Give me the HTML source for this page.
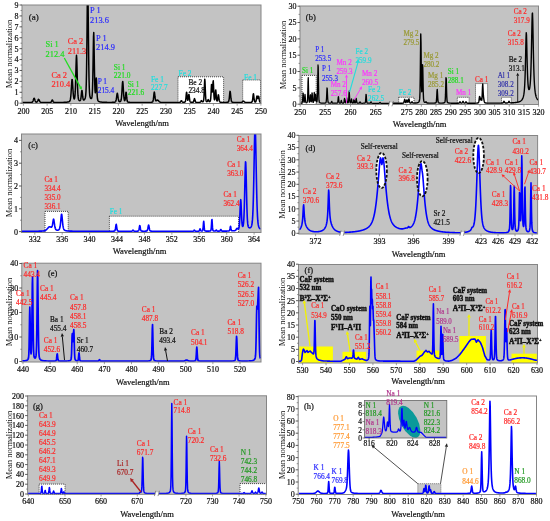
<!DOCTYPE html>
<html><head><meta charset="utf-8"><style>
html,body{margin:0;padding:0;background:#fff;}
svg{display:block;filter:blur(0.3px);font-family:"Liberation Serif", "DejaVu Serif", serif;}
</style></head><body>
<svg width="550" height="521" viewBox="0 0 550 521">
<rect width="550" height="521" fill="#fff"/>
<rect x="22" y="5" width="239" height="98.5" fill="#c3c3c3"/>
<rect x="178" y="76.8" width="45.599999999999994" height="26.700000000000003" fill="#fff" stroke="#222" stroke-width="0.8" stroke-dasharray="1,1"/>
<rect x="242.7" y="80" width="17.80000000000001" height="23.5" fill="#fff" stroke="#222" stroke-width="0.8" stroke-dasharray="1,1"/>
<clipPath id="ca"><rect x="22" y="5" width="239" height="98.5"/></clipPath>
<path d="M22.50,102.57 L22.75,102.57 L23.00,102.57 L23.25,102.57 L23.50,102.57 L23.75,102.57 L24.00,102.57 L24.25,102.56 L24.50,102.56 L24.75,102.56 L25.00,102.56 L25.25,102.56 L25.50,102.56 L25.75,102.56 L26.00,102.56 L26.25,102.55 L26.50,102.55 L26.75,102.55 L27.00,102.55 L27.25,102.55 L27.50,102.54 L27.75,102.54 L28.00,102.54 L28.25,102.53 L28.50,102.53 L28.75,102.53 L29.00,102.52 L29.25,102.52 L29.50,102.51 L29.75,102.50 L30.00,102.49 L30.25,102.49 L30.50,102.47 L30.75,102.46 L31.00,102.44 L31.25,102.42 L31.50,102.39 L31.75,102.34 L32.00,102.25 L32.25,102.11 L32.50,101.87 L32.75,101.49 L33.00,100.94 L33.25,100.23 L33.50,99.42 L33.75,98.69 L34.00,98.24 L34.25,98.29 L34.50,98.80 L34.75,99.56 L35.00,100.34 L35.25,101.01 L35.50,101.51 L35.75,101.85 L36.00,102.04 L36.25,102.13 L36.50,102.14 L36.75,102.08 L37.00,101.93 L37.25,101.67 L37.50,101.28 L37.75,100.76 L38.00,100.18 L38.25,99.65 L38.50,99.33 L38.75,99.37 L39.00,99.76 L39.25,100.33 L39.50,100.92 L39.75,101.43 L40.00,101.81 L40.25,102.07 L40.50,102.23 L40.75,102.33 L41.00,102.38 L41.25,102.42 L41.50,102.44 L41.75,102.45 L42.00,102.47 L42.25,102.48 L42.50,102.48 L42.75,102.49 L43.00,102.50 L43.25,102.50 L43.50,102.50 L43.75,102.51 L44.00,102.51 L44.25,102.51 L44.50,102.51 L44.75,102.52 L45.00,102.52 L45.25,102.52 L45.50,102.52 L45.75,102.52 L46.00,102.52 L46.25,102.52 L46.50,102.52 L46.75,102.52 L47.00,102.52 L47.25,102.51 L47.50,102.51 L47.75,102.51 L48.00,102.51 L48.25,102.51 L48.50,102.50 L48.75,102.50 L49.00,102.49 L49.25,102.49 L49.50,102.48 L49.75,102.47 L50.00,102.45 L50.25,102.43 L50.50,102.40 L50.75,102.32 L51.00,102.18 L51.25,101.91 L51.50,101.48 L51.75,100.91 L52.00,100.33 L52.25,100.01 L52.50,100.16 L52.75,100.66 L53.00,101.26 L53.25,101.75 L53.50,102.08 L53.75,102.27 L54.00,102.36 L54.25,102.41 L54.50,102.43 L54.75,102.44 L55.00,102.45 L55.25,102.46 L55.50,102.47 L55.75,102.47 L56.00,102.47 L56.25,102.47 L56.50,102.47 L56.75,102.48 L57.00,102.48 L57.25,102.47 L57.50,102.47 L57.75,102.47 L58.00,102.47 L58.25,102.47 L58.50,102.47 L58.75,102.47 L59.00,102.46 L59.25,102.46 L59.50,102.46 L59.75,102.46 L60.00,102.45 L60.25,102.45 L60.50,102.45 L60.75,102.44 L61.00,102.44 L61.25,102.43 L61.50,102.43 L61.75,102.42 L62.00,102.42 L62.25,102.41 L62.50,102.41 L62.75,102.40 L63.00,102.39 L63.25,102.38 L63.50,102.38 L63.75,102.37 L64.00,102.36 L64.25,102.35 L64.50,102.34 L64.75,102.32 L65.00,102.31 L65.25,102.30 L65.50,102.28 L65.75,102.26 L66.00,102.25 L66.25,102.22 L66.50,102.20 L66.75,102.18 L67.00,102.15 L67.25,102.11 L67.50,102.08 L67.75,102.03 L68.00,101.98 L68.25,101.93 L68.50,101.86 L68.75,101.78 L69.00,101.68 L69.25,101.55 L69.50,101.37 L69.75,101.10 L70.00,100.65 L70.25,99.89 L70.50,98.61 L70.75,96.60 L71.00,93.69 L71.25,89.92 L71.50,85.69 L71.75,81.79 L72.00,79.45 L72.25,79.66 L72.50,82.29 L72.75,86.20 L73.00,90.25 L73.25,93.69 L73.50,96.23 L73.75,97.85 L74.00,98.70 L74.25,98.95 L74.50,98.63 L74.75,97.58 L75.00,95.37 L75.25,91.41 L75.50,85.17 L75.75,76.68 L76.00,67.03 L76.25,58.72 L76.50,55.30 L76.75,58.75 L77.00,67.10 L77.25,76.80 L77.50,85.34 L77.75,91.64 L78.00,95.68 L78.25,98.01 L78.50,99.26 L78.75,99.92 L79.00,100.28 L79.25,100.50 L79.50,100.62 L79.75,100.68 L80.00,100.66 L80.25,100.49 L80.50,100.07 L80.75,99.18 L81.00,97.61 L81.25,95.34 L81.50,92.73 L81.75,90.71 L82.00,90.46 L82.25,92.14 L82.50,94.66 L82.75,96.97 L83.00,98.60 L83.25,99.52 L83.50,99.93 L83.75,100.02 L84.00,99.95 L84.25,99.77 L84.50,99.51 L84.75,99.14 L85.00,98.64 L85.25,97.92 L85.50,96.79 L85.75,94.81 L86.00,91.13 L86.25,84.39 L86.50,72.92 L86.75,55.54 L87.00,32.75 L87.25,7.97 L87.50,-11.63 L87.75,-17.03 L88.00,-5.06 L88.25,17.66 L88.50,42.24 L88.75,63.05 L89.00,77.95 L89.25,87.28 L89.50,92.54 L89.75,95.33 L90.00,96.81 L90.25,97.64 L90.50,98.13 L90.75,98.42 L91.00,98.55 L91.25,98.54 L91.50,98.34 L91.75,97.83 L92.00,96.70 L92.25,94.22 L92.50,89.19 L92.75,80.23 L93.00,66.79 L93.25,50.54 L93.50,36.60 L93.75,32.58 L94.00,41.38 L94.25,57.05 L94.50,72.49 L94.75,83.94 L95.00,90.53 L95.25,92.76 L95.50,91.32 L95.75,86.96 L96.00,81.36 L96.25,77.96 L96.50,80.01 L96.75,85.97 L97.00,92.11 L97.25,96.50 L97.50,98.97 L97.75,100.16 L98.00,100.73 L98.25,101.05 L98.50,101.26 L98.75,101.42 L99.00,101.55 L99.25,101.65 L99.50,101.74 L99.75,101.81 L100.00,101.87 L100.25,101.93 L100.50,101.97 L100.75,102.01 L101.00,102.05 L101.25,102.08 L101.50,102.11 L101.75,102.14 L102.00,102.16 L102.25,102.18 L102.50,102.20 L102.75,102.22 L103.00,102.23 L103.25,102.25 L103.50,102.26 L103.75,102.27 L104.00,102.29 L104.25,102.30 L104.50,102.31 L104.75,102.32 L105.00,102.32 L105.25,102.33 L105.50,102.34 L105.75,102.35 L106.00,102.35 L106.25,102.36 L106.50,102.36 L106.75,102.37 L107.00,102.37 L107.25,102.38 L107.50,102.38 L107.75,102.38 L108.00,102.39 L108.25,102.39 L108.50,102.39 L108.75,102.39 L109.00,102.39 L109.25,102.39 L109.50,102.39 L109.75,102.39 L110.00,102.39 L110.25,102.39 L110.50,102.39 L110.75,102.39 L111.00,102.39 L111.25,102.39 L111.50,102.38 L111.75,102.38 L112.00,102.37 L112.25,102.36 L112.50,102.36 L112.75,102.35 L113.00,102.33 L113.25,102.32 L113.50,102.30 L113.75,102.28 L114.00,102.26 L114.25,102.23 L114.50,102.19 L114.75,102.14 L115.00,102.06 L115.25,101.93 L115.50,101.71 L115.75,101.30 L116.00,100.57 L116.25,99.42 L116.50,97.81 L116.75,95.92 L117.00,94.16 L117.25,93.23 L117.50,93.63 L117.75,95.11 L118.00,96.99 L118.25,98.71 L118.50,100.02 L118.75,100.86 L119.00,101.34 L119.25,101.57 L119.50,101.67 L119.75,101.68 L120.00,101.65 L120.25,101.55 L120.50,101.38 L120.75,101.05 L121.00,100.42 L121.25,99.25 L121.50,97.25 L121.75,94.20 L122.00,90.20 L122.25,85.86 L122.50,82.42 L122.75,81.46 L123.00,83.56 L123.25,87.53 L123.50,91.83 L123.75,95.46 L124.00,98.03 L124.25,99.61 L124.50,100.41 L124.75,100.62 L125.00,100.22 L125.25,99.03 L125.50,96.89 L125.75,94.20 L126.00,92.20 L126.25,92.52 L126.50,94.92 L126.75,97.70 L127.00,99.81 L127.25,101.04 L127.50,101.64 L127.75,101.91 L128.00,102.05 L128.25,102.13 L128.50,102.19 L128.75,102.24 L129.00,102.28 L129.25,102.31 L129.50,102.34 L129.75,102.36 L130.00,102.38 L130.25,102.39 L130.50,102.41 L130.75,102.42 L131.00,102.43 L131.25,102.44 L131.50,102.45 L131.75,102.45 L132.00,102.46 L132.25,102.47 L132.50,102.47 L132.75,102.48 L133.00,102.48 L133.25,102.49 L133.50,102.49 L133.75,102.49 L134.00,102.50 L134.25,102.50 L134.50,102.50 L134.75,102.51 L135.00,102.51 L135.25,102.51 L135.50,102.51 L135.75,102.51 L136.00,102.52 L136.25,102.52 L136.50,102.52 L136.75,102.52 L137.00,102.52 L137.25,102.52 L137.50,102.53 L137.75,102.53 L138.00,102.53 L138.25,102.53 L138.50,102.53 L138.75,102.53 L139.00,102.53 L139.25,102.53 L139.50,102.53 L139.75,102.53 L140.00,102.53 L140.25,102.53 L140.50,102.53 L140.75,102.54 L141.00,102.54 L141.25,102.54 L141.50,102.54 L141.75,102.54 L142.00,102.54 L142.25,102.54 L142.50,102.54 L142.75,102.54 L143.00,102.54 L143.25,102.53 L143.50,102.53 L143.75,102.53 L144.00,102.53 L144.25,102.53 L144.50,102.53 L144.75,102.53 L145.00,102.53 L145.25,102.53 L145.50,102.53 L145.75,102.53 L146.00,102.52 L146.25,102.52 L146.50,102.52 L146.75,102.52 L147.00,102.52 L147.25,102.51 L147.50,102.51 L147.75,102.51 L148.00,102.50 L148.25,102.50 L148.50,102.49 L148.75,102.49 L149.00,102.48 L149.25,102.47 L149.50,102.47 L149.75,102.46 L150.00,102.44 L150.25,102.43 L150.50,102.41 L150.75,102.40 L151.00,102.37 L151.25,102.34 L151.50,102.31 L151.75,102.26 L152.00,102.20 L152.25,102.11 L152.50,101.96 L152.75,101.66 L153.00,101.06 L153.25,99.94 L153.50,98.16 L153.75,95.81 L154.00,93.42 L154.25,92.05 L154.50,92.60 L154.75,94.62 L155.00,96.96 L155.25,98.85 L155.50,100.05 L155.75,100.62 L156.00,100.78 L156.25,100.72 L156.50,100.57 L156.75,100.39 L157.00,100.23 L157.25,100.12 L157.50,100.10 L157.75,100.17 L158.00,100.33 L158.25,100.56 L158.50,100.81 L158.75,101.08 L159.00,101.34 L159.25,101.58 L159.50,101.78 L159.75,101.95 L160.00,102.09 L160.25,102.19 L160.50,102.27 L160.75,102.33 L161.00,102.38 L161.25,102.41 L161.50,102.43 L161.75,102.45 L162.00,102.46 L162.25,102.47 L162.50,102.48 L162.75,102.49 L163.00,102.50 L163.25,102.50 L163.50,102.51 L163.75,102.51 L164.00,102.51 L164.25,102.52 L164.50,102.52 L164.75,102.52 L165.00,102.53 L165.25,102.53 L165.50,102.53 L165.75,102.53 L166.00,102.54 L166.25,102.54 L166.50,102.54 L166.75,102.54 L167.00,102.54 L167.25,102.54 L167.50,102.54 L167.75,102.55 L168.00,102.55 L168.25,102.55 L168.50,102.55 L168.75,102.55 L169.00,102.55 L169.25,102.55 L169.50,102.55 L169.75,102.55 L170.00,102.55 L170.25,102.55 L170.50,102.55 L170.75,102.55 L171.00,102.55 L171.25,102.55 L171.50,102.55 L171.75,102.55 L172.00,102.55 L172.25,102.55 L172.50,102.55 L172.75,102.55 L173.00,102.55 L173.25,102.55 L173.50,102.55 L173.75,102.55 L174.00,102.55 L174.25,102.55 L174.50,102.55 L174.75,102.55 L175.00,102.55 L175.25,102.55 L175.50,102.54 L175.75,102.54 L176.00,102.54 L176.25,102.54 L176.50,102.54 L176.75,102.54 L177.00,102.53 L177.25,102.53 L177.50,102.53 L177.75,102.52 L178.00,102.52 L178.25,102.51 L178.50,102.50 L178.75,102.50 L179.00,102.49 L179.25,102.47 L179.50,102.45 L179.75,102.40 L180.00,102.32 L180.25,102.15 L180.50,101.88 L180.75,101.48 L181.00,101.02 L181.25,100.67 L181.50,100.63 L181.75,100.92 L182.00,101.36 L182.25,101.76 L182.50,102.05 L182.75,102.22 L183.00,102.30 L183.25,102.33 L183.50,102.33 L183.75,102.32 L184.00,102.30 L184.25,102.26 L184.50,102.21 L184.75,102.13 L185.00,101.98 L185.25,101.67 L185.50,100.97 L185.75,99.56 L186.00,97.25 L186.25,94.38 L186.50,92.24 L186.75,92.47 L187.00,94.82 L187.25,97.54 L187.50,99.46 L187.75,100.24 L188.00,99.87 L188.25,98.49 L188.50,96.44 L188.75,94.65 L189.00,94.49 L189.25,96.16 L189.50,98.38 L189.75,100.18 L190.00,101.27 L190.25,101.82 L190.50,102.06 L190.75,102.17 L191.00,102.24 L191.25,102.28 L191.50,102.31 L191.75,102.32 L192.00,102.33 L192.25,102.33 L192.50,102.32 L192.75,102.30 L193.00,102.24 L193.25,102.09 L193.50,101.74 L193.75,101.09 L194.00,100.12 L194.25,99.09 L194.50,98.60 L194.75,99.09 L195.00,100.13 L195.25,101.10 L195.50,101.76 L195.75,102.11 L196.00,102.27 L196.25,102.34 L196.50,102.37 L196.75,102.40 L197.00,102.41 L197.25,102.42 L197.50,102.42 L197.75,102.43 L198.00,102.43 L198.25,102.42 L198.50,102.42 L198.75,102.41 L199.00,102.40 L199.25,102.39 L199.50,102.37 L199.75,102.34 L200.00,102.29 L200.25,102.18 L200.50,101.97 L200.75,101.60 L201.00,101.12 L201.25,100.70 L201.50,100.62 L201.75,100.93 L202.00,101.35 L202.25,101.67 L202.50,101.82 L202.75,101.82 L203.00,101.71 L203.25,101.46 L203.50,100.89 L203.75,99.47 L204.00,96.30 L204.25,90.73 L204.50,83.73 L204.75,79.16 L205.00,81.29 L205.25,87.93 L205.50,94.33 L205.75,98.42 L206.00,100.40 L206.25,101.21 L206.50,101.53 L206.75,101.65 L207.00,101.64 L207.25,101.46 L207.50,101.04 L207.75,100.42 L208.00,99.81 L208.25,99.61 L208.50,100.02 L208.75,100.67 L209.00,101.23 L209.25,101.54 L209.50,101.65 L209.75,101.61 L210.00,101.45 L210.25,101.07 L210.50,100.15 L210.75,98.04 L211.00,94.15 L211.25,88.84 L211.50,84.56 L211.75,84.78 L212.00,88.66 L212.25,91.90 L212.50,91.66 L212.75,87.66 L213.00,82.41 L213.25,80.78 L213.50,84.98 L213.75,91.29 L214.00,96.26 L214.25,98.96 L214.50,99.84 L214.75,99.34 L215.00,97.47 L215.25,94.29 L215.50,90.94 L215.75,89.89 L216.00,92.30 L216.25,95.95 L216.50,98.84 L216.75,100.42 L217.00,101.00 L217.25,100.89 L217.50,100.14 L217.75,98.67 L218.00,96.67 L218.25,94.94 L218.50,94.78 L218.75,96.38 L219.00,98.51 L219.25,100.23 L219.50,101.28 L219.75,101.81 L220.00,102.05 L220.25,102.16 L220.50,102.23 L220.75,102.28 L221.00,102.31 L221.25,102.34 L221.50,102.37 L221.75,102.38 L222.00,102.40 L222.25,102.41 L222.50,102.42 L222.75,102.43 L223.00,102.43 L223.25,102.44 L223.50,102.44 L223.75,102.45 L224.00,102.45 L224.25,102.45 L224.50,102.45 L224.75,102.45 L225.00,102.44 L225.25,102.44 L225.50,102.43 L225.75,102.43 L226.00,102.42 L226.25,102.41 L226.50,102.39 L226.75,102.37 L227.00,102.35 L227.25,102.32 L227.50,102.27 L227.75,102.22 L228.00,102.13 L228.25,101.99 L228.50,101.71 L228.75,101.15 L229.00,100.07 L229.25,98.29 L229.50,95.83 L229.75,93.17 L230.00,91.38 L230.25,91.61 L230.50,93.67 L230.75,96.36 L231.00,98.71 L231.25,100.35 L231.50,101.30 L231.75,101.80 L232.00,102.04 L232.25,102.17 L232.50,102.25 L232.75,102.30 L233.00,102.34 L233.25,102.38 L233.50,102.40 L233.75,102.42 L234.00,102.44 L234.25,102.45 L234.50,102.46 L234.75,102.47 L235.00,102.48 L235.25,102.49 L235.50,102.50 L235.75,102.50 L236.00,102.51 L236.25,102.51 L236.50,102.51 L236.75,102.52 L237.00,102.52 L237.25,102.52 L237.50,102.52 L237.75,102.52 L238.00,102.52 L238.25,102.52 L238.50,102.52 L238.75,102.52 L239.00,102.52 L239.25,102.52 L239.50,102.52 L239.75,102.52 L240.00,102.51 L240.25,102.51 L240.50,102.50 L240.75,102.48 L241.00,102.46 L241.25,102.43 L241.50,102.37 L241.75,102.28 L242.00,102.14 L242.25,101.96 L242.50,101.74 L242.75,101.49 L243.00,101.27 L243.25,101.13 L243.50,101.11 L243.75,101.23 L244.00,101.44 L244.25,101.69 L244.50,101.91 L244.75,102.11 L245.00,102.25 L245.25,102.35 L245.50,102.41 L245.75,102.45 L246.00,102.47 L246.25,102.49 L246.50,102.50 L246.75,102.50 L247.00,102.50 L247.25,102.51 L247.50,102.51 L247.75,102.51 L248.00,102.51 L248.25,102.50 L248.50,102.50 L248.75,102.50 L249.00,102.49 L249.25,102.48 L249.50,102.48 L249.75,102.47 L250.00,102.45 L250.25,102.44 L250.50,102.42 L250.75,102.39 L251.00,102.36 L251.25,102.32 L251.50,102.25 L251.75,102.14 L252.00,101.92 L252.25,101.42 L252.50,100.37 L252.75,98.57 L253.00,96.18 L253.25,94.13 L253.50,93.89 L253.75,95.67 L254.00,98.06 L254.25,100.00 L254.50,101.16 L254.75,101.71 L255.00,101.92 L255.25,101.97 L255.50,101.92 L255.75,101.69 L256.00,101.14 L256.25,100.07 L256.50,98.47 L256.75,96.76 L257.00,95.90 L257.25,96.52 L257.50,97.80 L257.75,98.57 L258.00,98.28 L258.25,97.17 L258.50,96.18 L258.75,96.46 L259.00,97.94 L259.25,99.65 L259.50,100.94 L259.75,101.69 L260.00,102.05 L260.25,102.22 L260.50,102.31" fill="none" stroke="#000" stroke-width="1.5" stroke-linejoin="round" clip-path="url(#ca)"/>
<rect x="22" y="5" width="239" height="98.5" fill="none" stroke="#858585" stroke-width="1.0"/>
<line x1="19.50" y1="103.20" x2="22" y2="103.20" stroke="#333" stroke-width="0.8"/>
<text x="18.5" y="106.12" fill="#111" font-size="8" text-anchor="end" font-weight="normal" stroke="#111" stroke-width="0.2" >0</text>
<line x1="19.50" y1="92.29" x2="22" y2="92.29" stroke="#333" stroke-width="0.8"/>
<text x="18.5" y="95.21" fill="#111" font-size="8" text-anchor="end" font-weight="normal" stroke="#111" stroke-width="0.2" >1</text>
<line x1="19.50" y1="81.38" x2="22" y2="81.38" stroke="#333" stroke-width="0.8"/>
<text x="18.5" y="84.3" fill="#111" font-size="8" text-anchor="end" font-weight="normal" stroke="#111" stroke-width="0.2" >2</text>
<line x1="19.50" y1="70.47" x2="22" y2="70.47" stroke="#333" stroke-width="0.8"/>
<text x="18.5" y="73.39" fill="#111" font-size="8" text-anchor="end" font-weight="normal" stroke="#111" stroke-width="0.2" >3</text>
<line x1="19.50" y1="59.56" x2="22" y2="59.56" stroke="#333" stroke-width="0.8"/>
<text x="18.5" y="62.48" fill="#111" font-size="8" text-anchor="end" font-weight="normal" stroke="#111" stroke-width="0.2" >4</text>
<line x1="19.50" y1="48.65" x2="22" y2="48.65" stroke="#333" stroke-width="0.8"/>
<text x="18.5" y="51.57" fill="#111" font-size="8" text-anchor="end" font-weight="normal" stroke="#111" stroke-width="0.2" >5</text>
<line x1="19.50" y1="37.74" x2="22" y2="37.74" stroke="#333" stroke-width="0.8"/>
<text x="18.5" y="40.66" fill="#111" font-size="8" text-anchor="end" font-weight="normal" stroke="#111" stroke-width="0.2" >6</text>
<line x1="19.50" y1="26.83" x2="22" y2="26.83" stroke="#333" stroke-width="0.8"/>
<text x="18.5" y="29.75" fill="#111" font-size="8" text-anchor="end" font-weight="normal" stroke="#111" stroke-width="0.2" >7</text>
<line x1="19.50" y1="15.92" x2="22" y2="15.92" stroke="#333" stroke-width="0.8"/>
<text x="18.5" y="18.84" fill="#111" font-size="8" text-anchor="end" font-weight="normal" stroke="#111" stroke-width="0.2" >8</text>
<line x1="19.50" y1="5.01" x2="22" y2="5.01" stroke="#333" stroke-width="0.8"/>
<text x="18.5" y="7.93" fill="#111" font-size="8" text-anchor="end" font-weight="normal" stroke="#111" stroke-width="0.2" >9</text>
<line x1="20.50" y1="97.75" x2="22" y2="97.75" stroke="#555" stroke-width="0.6"/>
<line x1="20.50" y1="86.84" x2="22" y2="86.84" stroke="#555" stroke-width="0.6"/>
<line x1="20.50" y1="75.93" x2="22" y2="75.93" stroke="#555" stroke-width="0.6"/>
<line x1="20.50" y1="65.02" x2="22" y2="65.02" stroke="#555" stroke-width="0.6"/>
<line x1="20.50" y1="54.11" x2="22" y2="54.11" stroke="#555" stroke-width="0.6"/>
<line x1="20.50" y1="43.20" x2="22" y2="43.20" stroke="#555" stroke-width="0.6"/>
<line x1="20.50" y1="32.28" x2="22" y2="32.28" stroke="#555" stroke-width="0.6"/>
<line x1="20.50" y1="21.38" x2="22" y2="21.38" stroke="#555" stroke-width="0.6"/>
<line x1="20.50" y1="10.47" x2="22" y2="10.47" stroke="#555" stroke-width="0.6"/>
<line x1="23.40" y1="103.5" x2="23.40" y2="105.7" stroke="#777" stroke-width="0.7"/>
<text x="23.4" y="113.52" fill="#111" font-size="8" text-anchor="middle" font-weight="normal" stroke="#111" stroke-width="0.2" >200</text>
<line x1="47.15" y1="103.5" x2="47.15" y2="105.7" stroke="#777" stroke-width="0.7"/>
<text x="47.15" y="113.52" fill="#111" font-size="8" text-anchor="middle" font-weight="normal" stroke="#111" stroke-width="0.2" >205</text>
<line x1="70.90" y1="103.5" x2="70.90" y2="105.7" stroke="#777" stroke-width="0.7"/>
<text x="70.9" y="113.52" fill="#111" font-size="8" text-anchor="middle" font-weight="normal" stroke="#111" stroke-width="0.2" >210</text>
<line x1="94.65" y1="103.5" x2="94.65" y2="105.7" stroke="#777" stroke-width="0.7"/>
<text x="94.65" y="113.52" fill="#111" font-size="8" text-anchor="middle" font-weight="normal" stroke="#111" stroke-width="0.2" >215</text>
<line x1="118.40" y1="103.5" x2="118.40" y2="105.7" stroke="#777" stroke-width="0.7"/>
<text x="118.4" y="113.52" fill="#111" font-size="8" text-anchor="middle" font-weight="normal" stroke="#111" stroke-width="0.2" >220</text>
<line x1="142.15" y1="103.5" x2="142.15" y2="105.7" stroke="#777" stroke-width="0.7"/>
<text x="142.15" y="113.52" fill="#111" font-size="8" text-anchor="middle" font-weight="normal" stroke="#111" stroke-width="0.2" >225</text>
<line x1="165.90" y1="103.5" x2="165.90" y2="105.7" stroke="#777" stroke-width="0.7"/>
<text x="165.9" y="113.52" fill="#111" font-size="8" text-anchor="middle" font-weight="normal" stroke="#111" stroke-width="0.2" >230</text>
<line x1="189.65" y1="103.5" x2="189.65" y2="105.7" stroke="#777" stroke-width="0.7"/>
<text x="189.65" y="113.52" fill="#111" font-size="8" text-anchor="middle" font-weight="normal" stroke="#111" stroke-width="0.2" >235</text>
<line x1="213.40" y1="103.5" x2="213.40" y2="105.7" stroke="#777" stroke-width="0.7"/>
<text x="213.4" y="113.52" fill="#111" font-size="8" text-anchor="middle" font-weight="normal" stroke="#111" stroke-width="0.2" >240</text>
<line x1="237.15" y1="103.5" x2="237.15" y2="105.7" stroke="#777" stroke-width="0.7"/>
<text x="237.15" y="113.52" fill="#111" font-size="8" text-anchor="middle" font-weight="normal" stroke="#111" stroke-width="0.2" >245</text>
<line x1="260.90" y1="103.5" x2="260.90" y2="105.7" stroke="#777" stroke-width="0.7"/>
<text x="260.9" y="113.52" fill="#111" font-size="8" text-anchor="middle" font-weight="normal" stroke="#111" stroke-width="0.2" >250</text>
<text x="11.6" y="54" transform="rotate(-90 11.6 54)" fill="#111" font-size="8.5" text-anchor="middle">Mean normalization</text>
<text x="142" y="126.19" fill="#111" font-size="8.5" text-anchor="middle" font-weight="normal" stroke="#111" stroke-width="0.2" >Wavelength/nm</text>
<text x="28.8" y="19.7" fill="#111" font-size="9" text-anchor="start" font-weight="normal" stroke="#111" stroke-width="0.2" >(a)</text>
<text x="90" y="13.46" fill="#2b2bff" font-size="8.4" text-anchor="start" font-weight="normal" stroke="#2b2bff" stroke-width="0.2" >P 1</text>
<text x="90" y="23.46" fill="#2b2bff" font-size="8.4" text-anchor="start" font-weight="normal" stroke="#2b2bff" stroke-width="0.2" >213.6</text>
<text x="96.1" y="41.46" fill="#2b2bff" font-size="8.4" text-anchor="start" font-weight="normal" stroke="#2b2bff" stroke-width="0.2" >P 1</text>
<text x="96.1" y="50.46" fill="#2b2bff" font-size="8.4" text-anchor="start" font-weight="normal" stroke="#2b2bff" stroke-width="0.2" >214.9</text>
<text x="67.7" y="43.76" fill="#ff2a2a" font-size="8.4" text-anchor="start" font-weight="normal" stroke="#ff2a2a" stroke-width="0.2" >Ca 2</text>
<text x="67.7" y="53.56" fill="#ff2a2a" font-size="8.4" text-anchor="start" font-weight="normal" stroke="#ff2a2a" stroke-width="0.2" >211.3</text>
<text x="45.5" y="46.76" fill="#22dd22" font-size="8.4" text-anchor="start" font-weight="normal" stroke="#22dd22" stroke-width="0.2" >Si 1</text>
<text x="45.5" y="57.36" fill="#22dd22" font-size="8.4" text-anchor="start" font-weight="normal" stroke="#22dd22" stroke-width="0.2" >212.4</text>
<text x="51.4" y="77.86" fill="#ff2a2a" font-size="8.4" text-anchor="start" font-weight="normal" stroke="#ff2a2a" stroke-width="0.2" >Ca 2</text>
<text x="51.4" y="87.36" fill="#ff2a2a" font-size="8.4" text-anchor="start" font-weight="normal" stroke="#ff2a2a" stroke-width="0.2" >210.4</text>
<text x="97.7" y="83.92" fill="#2b2bff" font-size="7.4" text-anchor="start" font-weight="normal" stroke="#2b2bff" stroke-width="0.2" >P 1</text>
<text x="97.7" y="92.52" fill="#2b2bff" font-size="7.4" text-anchor="start" font-weight="normal" stroke="#2b2bff" stroke-width="0.2" >215.4</text>
<text x="113.8" y="69.82" fill="#22dd22" font-size="7.4" text-anchor="start" font-weight="normal" stroke="#22dd22" stroke-width="0.2" >Si 1</text>
<text x="113.8" y="78.12" fill="#22dd22" font-size="7.4" text-anchor="start" font-weight="normal" stroke="#22dd22" stroke-width="0.2" >221.0</text>
<text x="127.7" y="86.62" fill="#22dd22" font-size="7.4" text-anchor="start" font-weight="normal" stroke="#22dd22" stroke-width="0.2" >Si 1</text>
<text x="127.7" y="95.42" fill="#22dd22" font-size="7.4" text-anchor="start" font-weight="normal" stroke="#22dd22" stroke-width="0.2" >221.6</text>
<text x="151" y="81.62" fill="#22dddd" font-size="7.4" text-anchor="start" font-weight="normal" stroke="#22dddd" stroke-width="0.2" >Fe 1</text>
<text x="151" y="90.22" fill="#22dddd" font-size="7.4" text-anchor="start" font-weight="normal" stroke="#22dddd" stroke-width="0.2" >227.7</text>
<text x="178.6" y="75.72" fill="#22dddd" font-size="7.4" text-anchor="start" font-weight="normal" stroke="#22dddd" stroke-width="0.2" >Fe 2</text>
<text x="188.4" y="84.82" fill="#111" font-size="7.4" text-anchor="start" font-weight="normal" stroke="#111" stroke-width="0.2" >Be 2</text>
<text x="188.4" y="93.42" fill="#111" font-size="7.4" text-anchor="start" font-weight="normal" stroke="#111" stroke-width="0.2" >234.8</text>
<text x="244.1" y="79.82" fill="#22dddd" font-size="7.4" text-anchor="start" font-weight="normal" stroke="#22dddd" stroke-width="0.2" >Fe 1</text>
<line x1="64.30" y1="58.00" x2="80.35" y2="87.17" stroke="#22dd22" stroke-width="1.3"/>
<polygon points="81.80,89.80 78.86,87.99 81.84,86.35" fill="#22dd22"/>
<rect x="300" y="6" width="238.5" height="98.5" fill="#c3c3c3"/>
<rect x="302" y="75.4" width="14.199999999999989" height="29.099999999999994" fill="#fff" stroke="#222" stroke-width="0.8" stroke-dasharray="1,1"/>
<rect x="398.7" y="97.3" width="15.300000000000011" height="7.200000000000003" fill="#fff" stroke="#222" stroke-width="0.8" stroke-dasharray="1,1"/>
<rect x="457.3" y="97.3" width="11.800000000000011" height="7.200000000000003" fill="#fff" stroke="#222" stroke-width="0.8" stroke-dasharray="1,1"/>
<rect x="475.5" y="83.6" width="12.100000000000023" height="20.900000000000006" fill="#fff" stroke="#222" stroke-width="0.8" stroke-dasharray="1,1"/>
<rect x="501.5" y="97.3" width="9.800000000000011" height="7.200000000000003" fill="#fff" stroke="#222" stroke-width="0.8" stroke-dasharray="1,1"/>
<clipPath id="cb"><rect x="300" y="6" width="238.5" height="98.5"/></clipPath>
<path d="M300.50,103.19 L300.75,103.18 L301.00,103.16 L301.25,103.13 L301.50,103.09 L301.75,103.03 L302.00,102.91 L302.25,102.50 L302.50,100.98 L302.75,97.19 L303.00,92.87 L303.25,93.48 L303.50,98.03 L303.75,101.27 L304.00,102.31 L304.25,102.04 L304.50,100.23 L304.75,96.65 L305.00,94.30 L305.25,96.67 L305.50,100.28 L305.75,102.16 L306.00,102.69 L306.25,102.78 L306.50,102.77 L306.75,102.69 L307.00,102.52 L307.25,101.99 L307.50,99.83 L307.75,93.13 L308.00,82.09 L308.25,77.64 L308.50,86.55 L308.75,96.46 L309.00,100.95 L309.25,102.11 L309.50,102.20 L309.75,101.39 L310.00,98.85 L310.25,95.24 L310.50,94.74 L310.75,98.12 L311.00,101.01 L311.25,101.84 L311.50,100.66 L311.75,97.04 L312.00,92.84 L312.25,93.48 L312.50,97.99 L312.75,101.21 L313.00,102.31 L313.25,102.46 L313.50,102.04 L313.75,100.21 L314.00,96.14 L314.25,92.45 L314.50,94.21 L314.75,98.56 L315.00,100.58 L315.25,99.26 L315.50,95.84 L315.75,94.41 L316.00,97.31 L316.25,100.49 L316.50,101.84 L316.75,102.01 L317.00,101.50 L317.25,99.38 L317.50,92.58 L317.75,78.79 L318.00,64.98 L318.25,66.97 L318.50,82.02 L318.75,94.59 L319.00,100.19 L319.25,101.88 L319.50,102.39 L319.75,102.62 L320.00,102.77 L320.25,102.87 L320.50,102.94 L320.75,102.99 L321.00,103.03 L321.25,103.07 L321.50,103.09 L321.75,103.11 L322.00,103.12 L322.25,103.13 L322.50,103.14 L322.75,103.15 L323.00,103.15 L323.25,103.15 L323.50,103.15 L323.75,103.15 L324.00,103.14 L324.25,103.13 L324.50,103.12 L324.75,103.10 L325.00,103.07 L325.25,103.02 L325.50,102.95 L325.75,102.83 L326.00,102.49 L326.25,101.37 L326.50,98.33 L326.75,92.90 L327.00,87.89 L327.25,88.59 L327.50,94.11 L327.75,99.15 L328.00,101.71 L328.25,102.60 L328.50,102.87 L328.75,102.98 L329.00,103.05 L329.25,103.09 L329.50,103.12 L329.75,103.14 L330.00,103.15 L330.25,103.16 L330.50,103.16 L330.75,103.13 L331.00,102.97 L331.25,102.48 L331.50,101.65 L331.75,101.33 L332.00,102.00 L332.25,102.75 L332.50,103.09 L332.75,103.18 L333.00,103.21 L333.25,103.22 L333.50,103.23 L333.75,103.23 L334.00,103.24 L334.25,103.24 L334.50,103.24 L334.75,103.24 L335.00,103.24 L335.25,103.24 L335.50,103.23 L335.75,103.23 L336.00,103.22 L336.25,103.21 L336.50,103.20 L336.75,103.18 L337.00,103.14 L337.25,103.08 L337.50,102.89 L337.75,102.13 L338.00,100.01 L338.25,97.07 L338.50,96.66 L338.75,99.41 L339.00,101.82 L339.25,102.79 L339.50,103.04 L339.75,103.10 L340.00,103.11 L340.25,103.10 L340.50,102.97 L340.75,102.47 L341.00,101.35 L341.25,100.34 L341.50,100.84 L341.75,102.09 L342.00,102.85 L342.25,103.09 L342.50,103.14 L342.75,103.15 L343.00,103.14 L343.25,103.11 L343.50,103.04 L343.75,102.72 L344.00,101.66 L344.25,99.63 L344.50,98.30 L344.75,99.61 L345.00,101.62 L345.25,102.66 L345.50,102.93 L345.75,102.89 L346.00,102.47 L346.25,101.09 L346.50,98.80 L346.75,97.87 L347.00,99.71 L347.25,101.76 L347.50,102.67 L347.75,102.88 L348.00,102.85 L348.25,102.63 L348.50,101.60 L348.75,98.39 L349.00,93.10 L349.25,90.96 L349.50,95.25 L349.75,100.02 L350.00,102.18 L350.25,102.75 L350.50,102.84 L350.75,102.64 L351.00,101.74 L351.25,99.96 L351.50,98.80 L351.75,99.99 L352.00,101.79 L352.25,102.74 L352.50,103.00 L352.75,103.05 L353.00,103.02 L353.25,102.79 L353.50,101.96 L353.75,100.35 L354.00,99.30 L354.25,100.35 L354.50,101.95 L354.75,102.78 L355.00,103.00 L355.25,102.96 L355.50,102.57 L355.75,101.31 L356.00,99.21 L356.25,98.37 L356.50,100.08 L356.75,101.98 L357.00,102.86 L357.25,103.09 L357.50,103.16 L357.75,103.19 L358.00,103.20 L358.25,103.21 L358.50,103.22 L358.75,103.21 L359.00,103.20 L359.25,103.11 L359.50,102.79 L359.75,102.19 L360.00,101.80 L360.25,102.20 L360.50,102.80 L360.75,103.12 L361.00,103.21 L361.25,103.23 L361.50,103.24 L361.75,103.25 L362.00,103.25 L362.25,103.25 L362.50,103.25 L362.75,103.25 L363.00,103.24 L363.25,103.24 L363.50,103.23 L363.75,103.22 L364.00,103.21 L364.25,103.19 L364.50,103.16 L364.75,103.11 L365.00,103.01 L365.25,102.67 L365.50,101.34 L365.75,98.05 L366.00,94.29 L366.25,94.85 L366.50,98.86 L366.75,101.75 L367.00,102.78 L367.25,103.04 L367.50,103.12 L367.75,103.17 L368.00,103.19 L368.25,103.21 L368.50,103.23 L368.75,103.23 L369.00,103.24 L369.25,103.24 L369.50,103.24 L369.75,103.24 L370.00,103.22 L370.25,103.12 L370.50,102.81 L370.75,102.20 L371.00,101.80 L371.25,102.20 L371.50,102.81 L371.75,103.13 L372.00,103.23 L372.25,103.25 L372.50,103.26 L372.75,103.27 L373.00,103.27 L373.25,103.28 L373.50,103.28 L373.75,103.28 L374.00,103.28 L374.25,103.28 L374.50,103.29 L374.75,103.29 L375.00,103.29 L375.25,103.29 L375.50,103.29 L375.75,103.29 L376.00,103.29 L376.25,103.29 L376.50,103.29 L376.75,103.29 L377.00,103.29 L377.25,103.29 L377.50,103.29 L377.75,103.29 L378.00,103.28 L378.25,103.28 L378.50,103.28 L378.75,103.27 L379.00,103.26 L379.25,103.19 L379.50,102.98 L379.75,102.57 L380.00,102.30 L380.25,102.57 L380.50,102.98 L380.75,103.19 L381.00,103.26 L381.25,103.27 L381.50,103.28 L381.75,103.28 L382.00,103.29 L382.25,103.29 L382.50,103.29 L382.75,103.29 L383.00,103.29 L383.25,103.29 L383.50,103.29 L383.75,103.29 L384.00,103.29 L384.25,103.29 L384.50,103.29 L384.75,103.29 L385.00,103.29 L385.25,103.29 L385.50,103.30 L385.75,103.30 L386.00,103.30 L386.25,103.30 L386.50,103.30 L386.75,103.30 L387.00,103.30 L387.25,103.30 L387.50,103.30 L387.75,103.30 L388.00,103.30 L388.25,103.30 L388.50,103.30 L388.75,103.30 L389.00,103.30 L389.25,103.30 L389.50,103.30 L389.75,103.30 L390.00,103.30" fill="none" stroke="#000" stroke-width="1.25" stroke-linejoin="round" clip-path="url(#cb)"/>
<path d="M392.00,103.28 L392.25,103.28 L392.50,103.28 L392.75,103.28 L393.00,103.28 L393.25,103.27 L393.50,103.27 L393.75,103.27 L394.00,103.27 L394.25,103.27 L394.50,103.27 L394.75,103.27 L395.00,103.27 L395.25,103.27 L395.50,103.27 L395.75,103.27 L396.00,103.27 L396.25,103.27 L396.50,103.27 L396.75,103.27 L397.00,103.27 L397.25,103.26 L397.50,103.26 L397.75,103.26 L398.00,103.26 L398.25,103.26 L398.50,103.26 L398.75,103.26 L399.00,103.25 L399.25,103.25 L399.50,103.25 L399.75,103.25 L400.00,103.25 L400.25,103.24 L400.50,103.24 L400.75,103.24 L401.00,103.23 L401.25,103.23 L401.50,103.22 L401.75,103.21 L402.00,103.20 L402.25,103.19 L402.50,103.18 L402.75,103.15 L403.00,103.13 L403.25,103.08 L403.50,102.98 L403.75,102.72 L404.00,102.10 L404.25,101.01 L404.50,99.76 L404.75,99.33 L405.00,100.19 L405.25,101.42 L405.50,102.27 L405.75,102.61 L406.00,102.51 L406.25,101.98 L406.50,101.01 L406.75,100.03 L407.00,99.90 L407.25,100.77 L407.50,101.76 L407.75,102.31 L408.00,102.28 L408.25,101.62 L408.50,100.37 L408.75,99.09 L409.00,98.94 L409.25,100.13 L409.50,101.50 L409.75,102.39 L410.00,102.80 L410.25,102.95 L410.50,103.00 L410.75,103.01 L411.00,102.96 L411.25,102.79 L411.50,102.46 L411.75,102.03 L412.00,101.80 L412.25,102.03 L412.50,102.47 L412.75,102.81 L413.00,102.99 L413.25,103.06 L413.50,103.08 L413.75,103.09 L414.00,103.09 L414.25,103.09 L414.50,103.08 L414.75,103.07 L415.00,103.06 L415.25,103.05 L415.50,103.03 L415.75,103.01 L416.00,102.99 L416.25,102.96 L416.50,102.93 L416.75,102.89 L417.00,102.85 L417.25,102.79 L417.50,102.72 L417.75,102.64 L418.00,102.53 L418.25,102.40 L418.50,102.22 L418.75,101.98 L419.00,101.64 L419.25,101.14 L419.50,100.26 L419.75,98.15 L420.00,92.03 L420.25,77.12 L420.50,52.87 L420.75,34.02 L421.00,42.85 L421.25,67.28 L421.50,85.45 L421.75,91.72 L422.00,87.79 L422.25,76.23 L422.50,64.62 L422.75,66.71 L423.00,80.27 L423.25,92.20 L423.50,98.34 L423.75,100.64 L424.00,101.49 L424.25,101.90 L424.50,102.16 L424.75,102.33 L425.00,102.42 L425.25,102.39 L425.50,102.20 L425.75,101.93 L426.00,101.80 L426.25,102.03 L426.50,102.41 L426.75,102.72 L427.00,102.88 L427.25,102.96 L427.50,103.01 L427.75,103.03 L428.00,103.06 L428.25,103.07 L428.50,103.09 L428.75,103.10 L429.00,103.11 L429.25,103.12 L429.50,103.13 L429.75,103.14 L430.00,103.14 L430.25,103.15 L430.50,103.15 L430.75,103.16 L431.00,103.16 L431.25,103.16 L431.50,103.16 L431.75,103.16 L432.00,103.16 L432.25,103.16 L432.50,103.16 L432.75,103.16 L433.00,103.16 L433.25,103.15 L433.50,103.14 L433.75,103.13 L434.00,103.12 L434.25,103.11 L434.50,103.09 L434.75,103.06 L435.00,103.03 L435.25,102.98 L435.50,102.90 L435.75,102.79 L436.00,102.56 L436.25,101.92 L436.50,100.11 L436.75,96.26 L437.00,91.26 L437.25,89.44 L437.50,93.20 L437.75,98.06 L438.00,101.04 L438.25,102.26 L438.50,102.67 L438.75,102.84 L439.00,102.93 L439.25,102.99 L439.50,103.03 L439.75,103.06 L440.00,103.08 L440.25,103.10 L440.50,103.11 L440.75,103.12 L441.00,103.12 L441.25,103.12 L441.50,103.12 L441.75,103.11 L442.00,103.11 L442.25,103.10 L442.50,103.08 L442.75,103.06 L443.00,103.04 L443.25,103.01 L443.50,102.97 L443.75,102.91 L444.00,102.83 L444.25,102.72 L444.50,102.56 L444.75,102.29 L445.00,101.65 L445.25,99.77 L445.50,94.90 L445.75,86.18 L446.00,77.81 L446.25,79.00 L446.50,88.14 L446.75,96.20 L447.00,100.33 L447.25,101.84 L447.50,102.37 L447.75,102.61 L448.00,102.76 L448.25,102.87 L448.50,102.94 L448.75,103.00 L449.00,103.04 L449.25,103.07 L449.50,103.10 L449.75,103.12 L450.00,103.13 L450.25,103.15 L450.50,103.16 L450.75,103.17 L451.00,103.18 L451.25,103.19 L451.50,103.19 L451.75,103.20 L452.00,103.20 L452.25,103.21 L452.50,103.21 L452.75,103.21 L453.00,103.22 L453.25,103.22 L453.50,103.22 L453.75,103.22 L454.00,103.22 L454.25,103.23 L454.50,103.23 L454.75,103.23 L455.00,103.23 L455.25,103.23 L455.50,103.23 L455.75,103.23 L456.00,103.23 L456.25,103.23 L456.50,103.23 L456.75,103.23 L457.00,103.22 L457.25,103.22 L457.50,103.22 L457.75,103.21 L458.00,103.21 L458.25,103.20 L458.50,103.18 L458.75,103.15 L459.00,103.08 L459.25,102.88 L459.50,102.52 L459.75,102.05 L460.00,101.80 L460.25,102.04 L460.50,102.50 L460.75,102.86 L461.00,103.05 L461.25,103.11 L461.50,103.12 L461.75,103.09 L462.00,103.00 L462.25,102.75 L462.50,102.26 L462.75,101.63 L463.00,101.30 L463.25,101.63 L463.50,102.26 L463.75,102.75 L464.00,103.00 L464.25,103.09 L464.50,103.12 L464.75,103.11 L465.00,103.04 L465.25,102.86 L465.50,102.50 L465.75,102.04 L466.00,101.80 L466.25,102.05 L466.50,102.52 L466.75,102.88 L467.00,103.07 L467.25,103.15 L467.50,103.18 L467.75,103.19 L468.00,103.20 L468.25,103.21 L468.50,103.21 L468.75,103.21 L469.00,103.22 L469.25,103.22 L469.50,103.22 L469.75,103.22 L470.00,103.22 L470.25,103.22 L470.50,103.22 L470.75,103.22 L471.00,103.22 L471.25,103.22 L471.50,103.22 L471.75,103.22 L472.00,103.21 L472.25,103.21 L472.50,103.21 L472.75,103.21 L473.00,103.21 L473.25,103.21 L473.50,103.20 L473.75,103.20 L474.00,103.20 L474.25,103.19 L474.50,103.19 L474.75,103.18 L475.00,103.18 L475.25,103.17 L475.50,103.17 L475.75,103.16 L476.00,103.15 L476.25,103.14 L476.50,103.12 L476.75,103.11 L477.00,103.09 L477.25,103.06 L477.50,103.03 L477.75,102.98 L478.00,102.92 L478.25,102.81 L478.50,102.55 L478.75,101.90 L479.00,100.51 L479.25,98.39 L479.50,96.54 L479.75,96.67 L480.00,98.41 L480.25,99.78 L480.50,99.85 L480.75,98.93 L481.00,98.30 L481.25,98.94 L481.50,100.03 L481.75,100.25 L482.00,98.37 L482.25,93.40 L482.50,86.65 L482.75,83.89 L483.00,88.20 L483.25,93.55 L483.50,96.55 L483.75,98.34 L484.00,100.04 L484.25,101.40 L484.50,102.22 L484.75,102.60 L485.00,102.78 L485.25,102.87 L485.50,102.94 L485.75,102.98 L486.00,103.02 L486.25,103.04 L486.50,103.07 L486.75,103.08 L487.00,103.10 L487.25,103.11 L487.50,103.12 L487.75,103.13 L488.00,103.13 L488.25,103.14 L488.50,103.14 L488.75,103.15 L489.00,103.15 L489.25,103.15 L489.50,103.16 L489.75,103.16 L490.00,103.16 L490.25,103.16 L490.50,103.16 L490.75,103.17 L491.00,103.17 L491.25,103.17 L491.50,103.17 L491.75,103.17 L492.00,103.17 L492.25,103.17 L492.50,103.17 L492.75,103.17 L493.00,103.17 L493.25,103.17 L493.50,103.17 L493.75,103.16 L494.00,103.16 L494.25,103.16 L494.50,103.16 L494.75,103.16 L495.00,103.16 L495.25,103.16 L495.50,103.16 L495.75,103.16 L496.00,103.15 L496.25,103.15 L496.50,103.15 L496.75,103.15 L497.00,103.15 L497.25,103.14 L497.50,103.14 L497.75,103.14 L498.00,103.14 L498.25,103.14 L498.50,103.13 L498.75,103.13 L499.00,103.13 L499.25,103.12 L499.50,103.12 L499.75,103.12 L500.00,103.11 L500.25,103.11 L500.50,103.11 L500.75,103.10 L501.00,103.10 L501.25,103.09 L501.50,103.08 L501.75,103.07 L502.00,103.06 L502.25,103.05 L502.50,103.03 L502.75,102.99 L503.00,102.89 L503.25,102.65 L503.50,102.19 L503.75,101.61 L504.00,101.30 L504.25,101.60 L504.50,102.17 L504.75,102.62 L505.00,102.85 L505.25,102.94 L505.50,102.97 L505.75,102.98 L506.00,102.98 L506.25,102.98 L506.50,102.98 L506.75,102.97 L507.00,102.96 L507.25,102.95 L507.50,102.93 L507.75,102.89 L508.00,102.79 L508.25,102.57 L508.50,102.14 L508.75,101.59 L509.00,101.30 L509.25,101.58 L509.50,102.11 L509.75,102.52 L510.00,102.73 L510.25,102.81 L510.50,102.83 L510.75,102.84 L511.00,102.83 L511.25,102.83 L511.50,102.82 L511.75,102.81 L512.00,102.80 L512.25,102.79 L512.50,102.78 L512.75,102.76 L513.00,102.75 L513.25,102.73 L513.50,102.71 L513.75,102.69 L514.00,102.67 L514.25,102.65 L514.50,102.63 L514.75,102.60 L515.00,102.58 L515.25,102.55 L515.50,102.52 L515.75,102.49 L516.00,102.46 L516.25,102.42 L516.50,102.39 L516.75,102.35 L517.00,102.31 L517.25,102.26 L517.50,102.21 L517.75,102.16 L518.00,102.10 L518.25,102.04 L518.50,101.97 L518.75,101.90 L519.00,101.81 L519.25,101.73 L519.50,101.63 L519.75,101.52 L520.00,101.41 L520.25,101.27 L520.50,101.13 L520.75,100.96 L521.00,100.78 L521.25,100.57 L521.50,100.33 L521.75,100.06 L522.00,99.74 L522.25,99.37 L522.50,98.94 L522.75,98.43 L523.00,97.81 L523.25,97.05 L523.50,96.11 L523.75,94.92 L524.00,93.35 L524.25,91.23 L524.50,88.31 L524.75,84.23 L525.00,78.57 L525.25,70.92 L525.50,61.06 L525.75,49.52 L526.00,38.58 L526.25,32.62 L526.50,35.02 L526.75,44.17 L527.00,55.47 L527.25,65.72 L527.50,73.81 L527.75,79.73 L528.00,83.84 L528.25,86.57 L528.50,88.28 L528.75,89.24 L529.00,89.61 L529.25,89.49 L529.50,88.89 L529.75,87.76 L530.00,85.98 L530.25,83.36 L530.50,79.64 L530.75,74.49 L531.00,67.56 L531.25,58.53 L531.50,47.33 L531.75,34.57 L532.00,22.18 L532.25,13.79 L532.50,13.04 L532.75,20.36 L533.00,32.50 L533.25,45.65 L533.50,57.49 L533.75,67.24 L534.00,74.87 L534.25,80.69 L534.50,85.05 L534.75,88.31 L535.00,90.77 L535.25,92.64 L535.50,94.11 L535.75,95.28 L536.00,96.23 L536.25,97.02 L536.50,97.68 L536.75,98.24 L537.00,98.72 L537.25,99.14 L537.50,99.50 L537.75,99.81 L538.00,100.09" fill="none" stroke="#000" stroke-width="1.4" stroke-linejoin="round" clip-path="url(#cb)"/>
<rect x="300" y="6" width="238.5" height="98.5" fill="none" stroke="#858585" stroke-width="1.0"/>
<rect x="389.20" y="102.5" width="3.6" height="4" fill="#fff"/>
<line x1="388.40" y1="106.30" x2="389.80" y2="101.00" stroke="#666" stroke-width="0.7"/>
<line x1="392.00" y1="106.30" x2="393.40" y2="101.00" stroke="#666" stroke-width="0.7"/>
<line x1="297.50" y1="104.20" x2="300" y2="104.20" stroke="#333" stroke-width="0.8"/>
<text x="296.5" y="107.12" fill="#111" font-size="8" text-anchor="end" font-weight="normal" stroke="#111" stroke-width="0.2" >0</text>
<line x1="297.50" y1="87.87" x2="300" y2="87.87" stroke="#333" stroke-width="0.8"/>
<text x="296.5" y="90.79" fill="#111" font-size="8" text-anchor="end" font-weight="normal" stroke="#111" stroke-width="0.2" >5</text>
<line x1="297.50" y1="71.53" x2="300" y2="71.53" stroke="#333" stroke-width="0.8"/>
<text x="296.5" y="74.45" fill="#111" font-size="8" text-anchor="end" font-weight="normal" stroke="#111" stroke-width="0.2" >10</text>
<line x1="297.50" y1="55.20" x2="300" y2="55.20" stroke="#333" stroke-width="0.8"/>
<text x="296.5" y="58.12" fill="#111" font-size="8" text-anchor="end" font-weight="normal" stroke="#111" stroke-width="0.2" >15</text>
<line x1="297.50" y1="38.86" x2="300" y2="38.86" stroke="#333" stroke-width="0.8"/>
<text x="296.5" y="41.78" fill="#111" font-size="8" text-anchor="end" font-weight="normal" stroke="#111" stroke-width="0.2" >20</text>
<line x1="297.50" y1="22.53" x2="300" y2="22.53" stroke="#333" stroke-width="0.8"/>
<text x="296.5" y="25.45" fill="#111" font-size="8" text-anchor="end" font-weight="normal" stroke="#111" stroke-width="0.2" >25</text>
<line x1="297.50" y1="6.19" x2="300" y2="6.19" stroke="#333" stroke-width="0.8"/>
<text x="296.5" y="9.11" fill="#111" font-size="8" text-anchor="end" font-weight="normal" stroke="#111" stroke-width="0.2" >30</text>
<line x1="298.50" y1="96.03" x2="300" y2="96.03" stroke="#555" stroke-width="0.6"/>
<line x1="298.50" y1="79.70" x2="300" y2="79.70" stroke="#555" stroke-width="0.6"/>
<line x1="298.50" y1="63.36" x2="300" y2="63.36" stroke="#555" stroke-width="0.6"/>
<line x1="298.50" y1="47.03" x2="300" y2="47.03" stroke="#555" stroke-width="0.6"/>
<line x1="298.50" y1="30.69" x2="300" y2="30.69" stroke="#555" stroke-width="0.6"/>
<line x1="298.50" y1="14.36" x2="300" y2="14.36" stroke="#555" stroke-width="0.6"/>
<line x1="300.20" y1="104.5" x2="300.20" y2="106.7" stroke="#777" stroke-width="0.7"/>
<text x="300.2" y="114.72" fill="#111" font-size="8" text-anchor="middle" font-weight="normal" stroke="#111" stroke-width="0.2" >250</text>
<line x1="325.35" y1="104.5" x2="325.35" y2="106.7" stroke="#777" stroke-width="0.7"/>
<text x="325.35" y="114.72" fill="#111" font-size="8" text-anchor="middle" font-weight="normal" stroke="#111" stroke-width="0.2" >255</text>
<line x1="350.50" y1="104.5" x2="350.50" y2="106.7" stroke="#777" stroke-width="0.7"/>
<text x="350.5" y="114.72" fill="#111" font-size="8" text-anchor="middle" font-weight="normal" stroke="#111" stroke-width="0.2" >260</text>
<line x1="375.65" y1="104.5" x2="375.65" y2="106.7" stroke="#777" stroke-width="0.7"/>
<text x="375.65" y="114.72" fill="#111" font-size="8" text-anchor="middle" font-weight="normal" stroke="#111" stroke-width="0.2" >265</text>
<line x1="406.70" y1="104.5" x2="406.70" y2="106.7" stroke="#777" stroke-width="0.7"/>
<text x="406.7" y="114.72" fill="#111" font-size="8" text-anchor="middle" font-weight="normal" stroke="#111" stroke-width="0.2" >275</text>
<line x1="421.35" y1="104.5" x2="421.35" y2="106.7" stroke="#777" stroke-width="0.7"/>
<text x="421.35" y="114.72" fill="#111" font-size="8" text-anchor="middle" font-weight="normal" stroke="#111" stroke-width="0.2" >280</text>
<line x1="436.00" y1="104.5" x2="436.00" y2="106.7" stroke="#777" stroke-width="0.7"/>
<text x="436" y="114.72" fill="#111" font-size="8" text-anchor="middle" font-weight="normal" stroke="#111" stroke-width="0.2" >285</text>
<line x1="450.65" y1="104.5" x2="450.65" y2="106.7" stroke="#777" stroke-width="0.7"/>
<text x="450.65" y="114.72" fill="#111" font-size="8" text-anchor="middle" font-weight="normal" stroke="#111" stroke-width="0.2" >290</text>
<line x1="465.30" y1="104.5" x2="465.30" y2="106.7" stroke="#777" stroke-width="0.7"/>
<text x="465.3" y="114.72" fill="#111" font-size="8" text-anchor="middle" font-weight="normal" stroke="#111" stroke-width="0.2" >295</text>
<line x1="479.95" y1="104.5" x2="479.95" y2="106.7" stroke="#777" stroke-width="0.7"/>
<text x="479.95" y="114.72" fill="#111" font-size="8" text-anchor="middle" font-weight="normal" stroke="#111" stroke-width="0.2" >300</text>
<line x1="494.60" y1="104.5" x2="494.60" y2="106.7" stroke="#777" stroke-width="0.7"/>
<text x="494.6" y="114.72" fill="#111" font-size="8" text-anchor="middle" font-weight="normal" stroke="#111" stroke-width="0.2" >305</text>
<line x1="509.25" y1="104.5" x2="509.25" y2="106.7" stroke="#777" stroke-width="0.7"/>
<text x="509.25" y="114.72" fill="#111" font-size="8" text-anchor="middle" font-weight="normal" stroke="#111" stroke-width="0.2" >310</text>
<line x1="523.90" y1="104.5" x2="523.90" y2="106.7" stroke="#777" stroke-width="0.7"/>
<text x="523.9" y="114.72" fill="#111" font-size="8" text-anchor="middle" font-weight="normal" stroke="#111" stroke-width="0.2" >315</text>
<line x1="538.55" y1="104.5" x2="538.55" y2="106.7" stroke="#777" stroke-width="0.7"/>
<text x="538.55" y="114.72" fill="#111" font-size="8" text-anchor="middle" font-weight="normal" stroke="#111" stroke-width="0.2" >320</text>
<text x="285.6" y="55" transform="rotate(-90 285.6 55)" fill="#111" font-size="8.5" text-anchor="middle">Mean normalization</text>
<text x="419.5" y="127.39" fill="#111" font-size="8.5" text-anchor="middle" font-weight="normal" stroke="#111" stroke-width="0.2" >Wavelength/nm</text>
<text x="305.8" y="20.2" fill="#111" font-size="8.5" text-anchor="start" font-weight="normal" stroke="#111" stroke-width="0.2" >(b)</text>
<text x="0" y="0" fill="#22dd22" font-size="7.5" text-anchor="start" font-weight="normal" stroke="#22dd22" stroke-width="0.2" transform="translate(302.00,72.85) scale(0.95,1)">Si 1</text>
<text x="0" y="0" fill="#2b2bff" font-size="7.5" text-anchor="start" font-weight="normal" stroke="#2b2bff" stroke-width="0.2" transform="translate(315.20,51.95) scale(0.95,1)">P 1</text>
<text x="0" y="0" fill="#2b2bff" font-size="7.5" text-anchor="start" font-weight="normal" stroke="#2b2bff" stroke-width="0.2" transform="translate(315.20,60.75) scale(0.95,1)">253.5</text>
<text x="0" y="0" fill="#2b2bff" font-size="7.5" text-anchor="start" font-weight="normal" stroke="#2b2bff" stroke-width="0.2" transform="translate(322.00,71.35) scale(0.95,1)">P 1</text>
<text x="0" y="0" fill="#2b2bff" font-size="7.5" text-anchor="start" font-weight="normal" stroke="#2b2bff" stroke-width="0.2" transform="translate(322.00,80.55) scale(0.95,1)">255.3</text>
<text x="0" y="0" fill="#ff33ff" font-size="7.5" text-anchor="start" font-weight="normal" stroke="#ff33ff" stroke-width="0.2" transform="translate(336.50,65.15) scale(0.95,1)">Mn 2</text>
<text x="0" y="0" fill="#ff33ff" font-size="7.5" text-anchor="start" font-weight="normal" stroke="#ff33ff" stroke-width="0.2" transform="translate(336.50,74.25) scale(0.95,1)">259.3</text>
<text x="0" y="0" fill="#22dddd" font-size="7.5" text-anchor="start" font-weight="normal" stroke="#22dddd" stroke-width="0.2" transform="translate(355.50,54.05) scale(0.95,1)">Fe 2</text>
<text x="0" y="0" fill="#22dddd" font-size="7.5" text-anchor="start" font-weight="normal" stroke="#22dddd" stroke-width="0.2" transform="translate(355.50,63.05) scale(0.95,1)">259.9</text>
<text x="0" y="0" fill="#ff33ff" font-size="7.5" text-anchor="start" font-weight="normal" stroke="#ff33ff" stroke-width="0.2" transform="translate(330.70,87.35) scale(0.95,1)">Mn 2</text>
<text x="0" y="0" fill="#ff33ff" font-size="7.5" text-anchor="start" font-weight="normal" stroke="#ff33ff" stroke-width="0.2" transform="translate(330.70,96.25) scale(0.95,1)">257.6</text>
<text x="0" y="0" fill="#ff33ff" font-size="7.5" text-anchor="start" font-weight="normal" stroke="#ff33ff" stroke-width="0.2" transform="translate(362.00,76.15) scale(0.95,1)">Mn 2</text>
<text x="0" y="0" fill="#ff33ff" font-size="7.5" text-anchor="start" font-weight="normal" stroke="#ff33ff" stroke-width="0.2" transform="translate(362.00,84.65) scale(0.95,1)">260.5</text>
<text x="0" y="0" fill="#22dddd" font-size="7.5" text-anchor="start" font-weight="normal" stroke="#22dddd" stroke-width="0.2" transform="translate(368.10,91.75) scale(0.95,1)">Fe 2</text>
<text x="0" y="0" fill="#22dddd" font-size="7.5" text-anchor="start" font-weight="normal" stroke="#22dddd" stroke-width="0.2" transform="translate(368.10,100.85) scale(0.95,1)">262.5</text>
<text x="0" y="0" fill="#22dddd" font-size="7.5" text-anchor="start" font-weight="normal" stroke="#22dddd" stroke-width="0.2" transform="translate(398.80,94.75) scale(0.95,1)">Fe 2</text>
<text x="0" y="0" fill="#999933" font-size="7.5" text-anchor="start" font-weight="normal" stroke="#999933" stroke-width="0.2" transform="translate(403.40,36.35) scale(0.95,1)">Mg 2</text>
<text x="0" y="0" fill="#999933" font-size="7.5" text-anchor="start" font-weight="normal" stroke="#999933" stroke-width="0.2" transform="translate(403.40,44.95) scale(0.95,1)">279.5</text>
<text x="0" y="0" fill="#999933" font-size="7.5" text-anchor="start" font-weight="normal" stroke="#999933" stroke-width="0.2" transform="translate(423.40,58.15) scale(0.95,1)">Mg 2</text>
<text x="0" y="0" fill="#999933" font-size="7.5" text-anchor="start" font-weight="normal" stroke="#999933" stroke-width="0.2" transform="translate(423.40,67.05) scale(0.95,1)">280.2</text>
<text x="0" y="0" fill="#999933" font-size="7.5" text-anchor="start" font-weight="normal" stroke="#999933" stroke-width="0.2" transform="translate(428.00,77.85) scale(0.95,1)">Mg 1</text>
<text x="0" y="0" fill="#999933" font-size="7.5" text-anchor="start" font-weight="normal" stroke="#999933" stroke-width="0.2" transform="translate(428.00,86.95) scale(0.95,1)">285.2</text>
<text x="0" y="0" fill="#22dd22" font-size="7.5" text-anchor="start" font-weight="normal" stroke="#22dd22" stroke-width="0.2" transform="translate(447.70,74.05) scale(0.95,1)">Si 1</text>
<text x="0" y="0" fill="#22dd22" font-size="7.5" text-anchor="start" font-weight="normal" stroke="#22dd22" stroke-width="0.2" transform="translate(447.70,82.85) scale(0.95,1)">288.1</text>
<text x="0" y="0" fill="#ff33ff" font-size="7.5" text-anchor="start" font-weight="normal" stroke="#ff33ff" stroke-width="0.2" transform="translate(456.00,94.55) scale(0.95,1)">Mn 1</text>
<text x="0" y="0" fill="#ff2a2a" font-size="7.5" text-anchor="start" font-weight="normal" stroke="#ff2a2a" stroke-width="0.2" transform="translate(475.00,81.55) scale(0.95,1)">Ca 1</text>
<text x="0" y="0" fill="#3333aa" font-size="7.5" text-anchor="start" font-weight="normal" stroke="#3333aa" stroke-width="0.2" transform="translate(497.70,77.85) scale(0.95,1)">Al 1</text>
<text x="0" y="0" fill="#3333aa" font-size="7.5" text-anchor="start" font-weight="normal" stroke="#3333aa" stroke-width="0.2" transform="translate(497.70,86.95) scale(0.95,1)">308.2</text>
<text x="0" y="0" fill="#3333aa" font-size="7.5" text-anchor="start" font-weight="normal" stroke="#3333aa" stroke-width="0.2" transform="translate(497.70,96.05) scale(0.95,1)">309.2</text>
<text x="0" y="0" fill="#111" font-size="7.5" text-anchor="start" font-weight="normal" stroke="#111" stroke-width="0.2" transform="translate(508.80,61.75) scale(0.95,1)">Be 2</text>
<text x="0" y="0" fill="#111" font-size="7.5" text-anchor="start" font-weight="normal" stroke="#111" stroke-width="0.2" transform="translate(508.80,70.75) scale(0.95,1)">313.1</text>
<text x="0" y="0" fill="#ff2a2a" font-size="7.5" text-anchor="start" font-weight="normal" stroke="#ff2a2a" stroke-width="0.2" transform="translate(507.70,35.65) scale(0.95,1)">Ca 2</text>
<text x="0" y="0" fill="#ff2a2a" font-size="7.5" text-anchor="start" font-weight="normal" stroke="#ff2a2a" stroke-width="0.2" transform="translate(507.70,44.55) scale(0.95,1)">315.8</text>
<text x="0" y="0" fill="#ff2a2a" font-size="7.5" text-anchor="start" font-weight="normal" stroke="#ff2a2a" stroke-width="0.2" transform="translate(513.70,13.55) scale(0.95,1)">Ca 2</text>
<text x="0" y="0" fill="#ff2a2a" font-size="7.5" text-anchor="start" font-weight="normal" stroke="#ff2a2a" stroke-width="0.2" transform="translate(513.70,22.85) scale(0.95,1)">317.9</text>
<line x1="346.50" y1="103.00" x2="346.50" y2="77.60" stroke="#ff33ff" stroke-width="0.9"/>
<polygon points="346.50,74.60 348.00,77.60 345.00,77.60" fill="#ff33ff"/>
<line x1="349.60" y1="92.00" x2="357.99" y2="62.29" stroke="#22dddd" stroke-width="1.1"/>
<polygon points="358.80,59.40 359.53,62.72 356.45,61.85" fill="#22dddd"/>
<line x1="354.00" y1="100.00" x2="360.49" y2="88.89" stroke="#ff33ff" stroke-width="0.9"/>
<polygon points="362.00,86.30 361.78,89.65 359.19,88.13" fill="#ff33ff"/>
<line x1="517.70" y1="103.00" x2="517.70" y2="75.80" stroke="#111" stroke-width="0.9"/>
<polygon points="517.70,72.80 519.20,75.80 516.20,75.80" fill="#111"/>
<rect x="21.5" y="134" width="239.5" height="98.5" fill="#c3c3c3"/>
<rect x="45" y="211.4" width="23.200000000000003" height="21.099999999999994" fill="#fff" stroke="#222" stroke-width="0.8" stroke-dasharray="1,1"/>
<rect x="109.4" y="216.2" width="129.2" height="16.30000000000001" fill="#fff" stroke="#222" stroke-width="0.8" stroke-dasharray="1,1"/>
<clipPath id="cc"><rect x="21.5" y="134" width="239.5" height="98.5"/></clipPath>
<path d="M22.00,231.27 L22.25,231.27 L22.50,231.27 L22.75,231.27 L23.00,231.27 L23.25,231.27 L23.50,231.27 L23.75,231.27 L24.00,231.27 L24.25,231.27 L24.50,231.27 L24.75,231.27 L25.00,231.27 L25.25,231.27 L25.50,231.27 L25.75,231.27 L26.00,231.27 L26.25,231.26 L26.50,231.26 L26.75,231.26 L27.00,231.26 L27.25,231.26 L27.50,231.26 L27.75,231.26 L28.00,231.26 L28.25,231.26 L28.50,231.26 L28.75,231.26 L29.00,231.26 L29.25,231.26 L29.50,231.25 L29.75,231.25 L30.00,231.25 L30.25,231.25 L30.50,231.25 L30.75,231.25 L31.00,231.25 L31.25,231.25 L31.50,231.25 L31.75,231.24 L32.00,231.24 L32.25,231.24 L32.50,231.24 L32.75,231.24 L33.00,231.24 L33.25,231.24 L33.50,231.23 L33.75,231.23 L34.00,231.23 L34.25,231.23 L34.50,231.23 L34.75,231.22 L35.00,231.22 L35.25,231.22 L35.50,231.22 L35.75,231.22 L36.00,231.21 L36.25,231.21 L36.50,231.21 L36.75,231.20 L37.00,231.20 L37.25,231.20 L37.50,231.20 L37.75,231.19 L38.00,231.19 L38.25,231.18 L38.50,231.18 L38.75,231.17 L39.00,231.17 L39.25,231.16 L39.50,231.16 L39.75,231.15 L40.00,231.15 L40.25,231.14 L40.50,231.13 L40.75,231.13 L41.00,231.12 L41.25,231.11 L41.50,231.10 L41.75,231.09 L42.00,231.07 L42.25,231.06 L42.50,231.04 L42.75,231.02 L43.00,231.00 L43.25,230.97 L43.50,230.94 L43.75,230.90 L44.00,230.86 L44.25,230.80 L44.50,230.73 L44.75,230.65 L45.00,230.56 L45.25,230.44 L45.50,230.31 L45.75,230.16 L46.00,229.99 L46.25,229.79 L46.50,229.57 L46.75,229.33 L47.00,229.07 L47.25,228.80 L47.50,228.52 L47.75,228.23 L48.00,227.94 L48.25,227.67 L48.50,227.41 L48.75,227.19 L49.00,227.01 L49.25,226.88 L49.50,226.80 L49.75,226.78 L50.00,226.82 L50.25,226.89 L50.50,227.00 L50.75,227.11 L51.00,227.20 L51.25,227.25 L51.50,227.19 L51.75,226.96 L52.00,226.50 L52.25,225.74 L52.50,224.63 L52.75,223.18 L53.00,221.54 L53.25,220.02 L53.50,219.15 L53.75,219.38 L54.00,220.67 L54.25,222.49 L54.50,224.36 L54.75,225.99 L55.00,227.30 L55.25,228.26 L55.50,228.94 L55.75,229.39 L56.00,229.69 L56.25,229.89 L56.50,230.02 L56.75,230.10 L57.00,230.15 L57.25,230.18 L57.50,230.18 L57.75,230.16 L58.00,230.12 L58.25,230.05 L58.50,229.95 L58.75,229.81 L59.00,229.60 L59.25,229.29 L59.50,228.82 L59.75,228.10 L60.00,227.03 L60.25,225.53 L60.50,223.52 L60.75,221.04 L61.00,218.29 L61.25,215.76 L61.50,214.24 L61.75,214.44 L62.00,216.24 L62.25,218.89 L62.50,221.63 L62.75,224.04 L63.00,225.97 L63.25,227.40 L63.50,228.41 L63.75,229.09 L64.00,229.56 L64.25,229.87 L64.50,230.10 L64.75,230.26 L65.00,230.39 L65.25,230.50 L65.50,230.58 L65.75,230.66 L66.00,230.72 L66.25,230.77 L66.50,230.82 L66.75,230.86 L67.00,230.89 L67.25,230.92 L67.50,230.95 L67.75,230.97 L68.00,230.99 L68.25,231.01 L68.50,231.03 L68.75,231.05 L69.00,231.06 L69.25,231.07 L69.50,231.09 L69.75,231.10 L70.00,231.11 L70.25,231.12 L70.50,231.13 L70.75,231.13 L71.00,231.14 L71.25,231.15 L71.50,231.15 L71.75,231.16 L72.00,231.17 L72.25,231.17 L72.50,231.18 L72.75,231.18 L73.00,231.18 L73.25,231.19 L73.50,231.19 L73.75,231.20 L74.00,231.20 L74.25,231.20 L74.50,231.21 L74.75,231.21 L75.00,231.21 L75.25,231.21 L75.50,231.22 L75.75,231.22 L76.00,231.22 L76.25,231.22 L76.50,231.23 L76.75,231.23 L77.00,231.23 L77.25,231.23 L77.50,231.23 L77.75,231.23 L78.00,231.24 L78.25,231.24 L78.50,231.24 L78.75,231.24 L79.00,231.24 L79.25,231.24 L79.50,231.24 L79.75,231.25 L80.00,231.25 L80.25,231.25 L80.50,231.25 L80.75,231.25 L81.00,231.25 L81.25,231.25 L81.50,231.25 L81.75,231.25 L82.00,231.25 L82.25,231.25 L82.50,231.26 L82.75,231.26 L83.00,231.26 L83.25,231.26 L83.50,231.26 L83.75,231.26 L84.00,231.26 L84.25,231.26 L84.50,231.26 L84.75,231.26 L85.00,231.26 L85.25,231.26 L85.50,231.26 L85.75,231.26 L86.00,231.26 L86.25,231.27 L86.50,231.27 L86.75,231.27 L87.00,231.27 L87.25,231.27 L87.50,231.27 L87.75,231.27 L88.00,231.27 L88.25,231.27 L88.50,231.27 L88.75,231.27 L89.00,231.27 L89.25,231.27 L89.50,231.27 L89.75,231.27 L90.00,231.27 L90.25,231.27 L90.50,231.27 L90.75,231.27 L91.00,231.27 L91.25,231.27 L91.50,231.27 L91.75,231.27 L92.00,231.27 L92.25,231.27 L92.50,231.27 L92.75,231.27 L93.00,231.27 L93.25,231.27 L93.50,231.27 L93.75,231.27 L94.00,231.28 L94.25,231.28 L94.50,231.28 L94.75,231.28 L95.00,231.28 L95.25,231.28 L95.50,231.28 L95.75,231.28 L96.00,231.28 L96.25,231.28 L96.50,231.28 L96.75,231.28 L97.00,231.28 L97.25,231.28 L97.50,231.28 L97.75,231.28 L98.00,231.28 L98.25,231.28 L98.50,231.28 L98.75,231.28 L99.00,231.28 L99.25,231.28 L99.50,231.28 L99.75,231.28 L100.00,231.28 L100.25,231.28 L100.50,231.28 L100.75,231.28 L101.00,231.28 L101.25,231.28 L101.50,231.28 L101.75,231.28 L102.00,231.28 L102.25,231.28 L102.50,231.28 L102.75,231.28 L103.00,231.28 L103.25,231.28 L103.50,231.28 L103.75,231.28 L104.00,231.28 L104.25,231.28 L104.50,231.28 L104.75,231.28 L105.00,231.28 L105.25,231.28 L105.50,231.28 L105.75,231.28 L106.00,231.28 L106.25,231.27 L106.50,231.27 L106.75,231.27 L107.00,231.27 L107.25,231.27 L107.50,231.27 L107.75,231.27 L108.00,231.27 L108.25,231.27 L108.50,231.27 L108.75,231.27 L109.00,231.27 L109.25,231.27 L109.50,231.26 L109.75,231.26 L110.00,231.26 L110.25,231.26 L110.50,231.26 L110.75,231.26 L111.00,231.25 L111.25,231.25 L111.50,231.25 L111.75,231.24 L112.00,231.24 L112.25,231.23 L112.50,231.22 L112.75,231.21 L113.00,231.20 L113.25,231.19 L113.50,231.17 L113.75,231.15 L114.00,231.12 L114.25,231.07 L114.50,231.00 L114.75,230.85 L115.00,230.51 L115.25,229.79 L115.50,228.48 L115.75,226.65 L116.00,224.88 L116.25,224.34 L116.50,225.51 L116.75,227.42 L117.00,229.08 L117.25,230.14 L117.50,230.68 L117.75,230.92 L118.00,231.03 L118.25,231.09 L118.50,231.13 L118.75,231.16 L119.00,231.18 L119.25,231.19 L119.50,231.21 L119.75,231.22 L120.00,231.22 L120.25,231.23 L120.50,231.24 L120.75,231.24 L121.00,231.25 L121.25,231.25 L121.50,231.25 L121.75,231.26 L122.00,231.26 L122.25,231.26 L122.50,231.26 L122.75,231.26 L123.00,231.26 L123.25,231.26 L123.50,231.27 L123.75,231.27 L124.00,231.27 L124.25,231.27 L124.50,231.27 L124.75,231.27 L125.00,231.27 L125.25,231.27 L125.50,231.27 L125.75,231.27 L126.00,231.27 L126.25,231.27 L126.50,231.27 L126.75,231.27 L127.00,231.27 L127.25,231.27 L127.50,231.27 L127.75,231.27 L128.00,231.27 L128.25,231.27 L128.50,231.27 L128.75,231.27 L129.00,231.27 L129.25,231.26 L129.50,231.26 L129.75,231.26 L130.00,231.26 L130.25,231.25 L130.50,231.25 L130.75,231.25 L131.00,231.24 L131.25,231.23 L131.50,231.20 L131.75,231.16 L132.00,231.05 L132.25,230.85 L132.50,230.56 L132.75,230.25 L133.00,230.10 L133.25,230.24 L133.50,230.55 L133.75,230.85 L134.00,231.04 L134.25,231.14 L134.50,231.19 L134.75,231.21 L135.00,231.22 L135.25,231.22 L135.50,231.22 L135.75,231.22 L136.00,231.21 L136.25,231.21 L136.50,231.20 L136.75,231.19 L137.00,231.18 L137.25,231.16 L137.50,231.14 L137.75,231.11 L138.00,231.06 L138.25,230.97 L138.50,230.77 L138.75,230.33 L139.00,229.45 L139.25,228.08 L139.50,226.50 L139.75,225.53 L140.00,225.98 L140.25,227.44 L140.50,228.95 L140.75,230.03 L141.00,230.63 L141.25,230.90 L141.50,231.03 L141.75,231.09 L142.00,231.12 L142.25,231.14 L142.50,231.16 L142.75,231.17 L143.00,231.18 L143.25,231.19 L143.50,231.19 L143.75,231.20 L144.00,231.20 L144.25,231.19 L144.50,231.19 L144.75,231.19 L145.00,231.18 L145.25,231.17 L145.50,231.16 L145.75,231.14 L146.00,231.12 L146.25,231.09 L146.50,231.04 L146.75,230.96 L147.00,230.81 L147.25,230.50 L147.50,229.90 L147.75,228.92 L148.00,227.56 L148.25,226.09 L148.50,225.10 L148.75,225.22 L149.00,226.37 L149.25,227.85 L149.50,229.15 L149.75,230.06 L150.00,230.58 L150.25,230.86 L150.50,230.99 L150.75,231.06 L151.00,231.11 L151.25,231.14 L151.50,231.16 L151.75,231.18 L152.00,231.19 L152.25,231.20 L152.50,231.21 L152.75,231.22 L153.00,231.23 L153.25,231.23 L153.50,231.24 L153.75,231.24 L154.00,231.25 L154.25,231.25 L154.50,231.25 L154.75,231.25 L155.00,231.26 L155.25,231.26 L155.50,231.26 L155.75,231.26 L156.00,231.26 L156.25,231.26 L156.50,231.27 L156.75,231.27 L157.00,231.27 L157.25,231.27 L157.50,231.27 L157.75,231.27 L158.00,231.27 L158.25,231.27 L158.50,231.27 L158.75,231.27 L159.00,231.27 L159.25,231.27 L159.50,231.27 L159.75,231.27 L160.00,231.27 L160.25,231.27 L160.50,231.28 L160.75,231.28 L161.00,231.28 L161.25,231.28 L161.50,231.28 L161.75,231.28 L162.00,231.28 L162.25,231.28 L162.50,231.28 L162.75,231.28 L163.00,231.28 L163.25,231.28 L163.50,231.28 L163.75,231.28 L164.00,231.28 L164.25,231.28 L164.50,231.28 L164.75,231.28 L165.00,231.28 L165.25,231.28 L165.50,231.28 L165.75,231.28 L166.00,231.28 L166.25,231.28 L166.50,231.28 L166.75,231.28 L167.00,231.28 L167.25,231.28 L167.50,231.28 L167.75,231.28 L168.00,231.28 L168.25,231.28 L168.50,231.28 L168.75,231.28 L169.00,231.28 L169.25,231.28 L169.50,231.28 L169.75,231.28 L170.00,231.28 L170.25,231.28 L170.50,231.28 L170.75,231.28 L171.00,231.28 L171.25,231.28 L171.50,231.28 L171.75,231.28 L172.00,231.28 L172.25,231.28 L172.50,231.28 L172.75,231.28 L173.00,231.28 L173.25,231.28 L173.50,231.28 L173.75,231.28 L174.00,231.28 L174.25,231.28 L174.50,231.28 L174.75,231.28 L175.00,231.28 L175.25,231.28 L175.50,231.28 L175.75,231.28 L176.00,231.28 L176.25,231.28 L176.50,231.28 L176.75,231.28 L177.00,231.28 L177.25,231.28 L177.50,231.28 L177.75,231.28 L178.00,231.28 L178.25,231.28 L178.50,231.28 L178.75,231.28 L179.00,231.28 L179.25,231.27 L179.50,231.27 L179.75,231.27 L180.00,231.27 L180.25,231.27 L180.50,231.27 L180.75,231.27 L181.00,231.27 L181.25,231.27 L181.50,231.27 L181.75,231.27 L182.00,231.27 L182.25,231.27 L182.50,231.27 L182.75,231.27 L183.00,231.27 L183.25,231.27 L183.50,231.27 L183.75,231.27 L184.00,231.27 L184.25,231.27 L184.50,231.27 L184.75,231.27 L185.00,231.27 L185.25,231.27 L185.50,231.27 L185.75,231.27 L186.00,231.27 L186.25,231.27 L186.50,231.27 L186.75,231.27 L187.00,231.27 L187.25,231.27 L187.50,231.27 L187.75,231.27 L188.00,231.26 L188.25,231.26 L188.50,231.26 L188.75,231.26 L189.00,231.26 L189.25,231.26 L189.50,231.26 L189.75,231.26 L190.00,231.26 L190.25,231.26 L190.50,231.26 L190.75,231.25 L191.00,231.25 L191.25,231.25 L191.50,231.25 L191.75,231.25 L192.00,231.24 L192.25,231.24 L192.50,231.23 L192.75,231.22 L193.00,231.20 L193.25,231.15 L193.50,231.01 L193.75,230.75 L194.00,230.37 L194.25,230.11 L194.50,230.23 L194.75,230.60 L195.00,230.92 L195.25,231.10 L195.50,231.17 L195.75,231.20 L196.00,231.21 L196.25,231.21 L196.50,231.21 L196.75,231.21 L197.00,231.21 L197.25,231.21 L197.50,231.20 L197.75,231.19 L198.00,231.18 L198.25,231.17 L198.50,231.15 L198.75,231.11 L199.00,231.02 L199.25,230.79 L199.50,230.29 L199.75,229.53 L200.00,228.88 L200.25,228.96 L200.50,229.67 L200.75,230.37 L201.00,230.79 L201.25,230.96 L201.50,231.00 L201.75,231.00 L202.00,230.96 L202.25,230.89 L202.50,230.73 L202.75,230.27 L203.00,228.95 L203.25,226.16 L203.50,222.53 L203.75,221.20 L204.00,223.94 L204.25,227.47 L204.50,229.64 L204.75,230.52 L205.00,230.82 L205.25,230.95 L205.50,231.01 L205.75,231.06 L206.00,231.09 L206.25,231.11 L206.50,231.12 L206.75,231.13 L207.00,231.14 L207.25,231.15 L207.50,231.15 L207.75,231.15 L208.00,231.15 L208.25,231.14 L208.50,231.13 L208.75,231.12 L209.00,231.11 L209.25,231.09 L209.50,231.07 L209.75,231.04 L210.00,230.99 L210.25,230.92 L210.50,230.81 L210.75,230.57 L211.00,229.88 L211.25,227.99 L211.50,224.29 L211.75,220.11 L212.00,219.56 L212.25,223.39 L212.50,227.39 L212.75,229.62 L213.00,230.48 L213.25,230.77 L213.50,230.89 L213.75,230.96 L214.00,231.01 L214.25,231.04 L214.50,231.06 L214.75,231.07 L215.00,231.06 L215.25,231.02 L215.50,230.90 L215.75,230.64 L216.00,230.27 L216.25,230.01 L216.50,230.14 L216.75,230.51 L217.00,230.83 L217.25,231.01 L217.50,231.09 L217.75,231.12 L218.00,231.13 L218.25,231.13 L218.50,231.13 L218.75,231.13 L219.00,231.12 L219.25,231.11 L219.50,231.08 L219.75,231.01 L220.00,230.82 L220.25,230.44 L220.50,229.89 L220.75,229.51 L221.00,229.69 L221.25,230.22 L221.50,230.69 L221.75,230.94 L222.00,231.05 L222.25,231.09 L222.50,231.11 L222.75,231.12 L223.00,231.12 L223.25,231.12 L223.50,231.12 L223.75,231.12 L224.00,231.12 L224.25,231.12 L224.50,231.12 L224.75,231.12 L225.00,231.11 L225.25,231.11 L225.50,231.11 L225.75,231.10 L226.00,231.10 L226.25,231.09 L226.50,231.08 L226.75,231.08 L227.00,231.07 L227.25,231.06 L227.50,231.05 L227.75,231.03 L228.00,231.02 L228.25,231.00 L228.50,230.97 L228.75,230.94 L229.00,230.89 L229.25,230.78 L229.50,230.52 L229.75,229.88 L230.00,228.67 L230.25,227.13 L230.50,226.30 L230.75,227.11 L231.00,228.64 L231.25,229.83 L231.50,230.45 L231.75,230.69 L232.00,230.77 L232.25,230.80 L232.50,230.81 L232.75,230.82 L233.00,230.81 L233.25,230.80 L233.50,230.79 L233.75,230.77 L234.00,230.75 L234.25,230.72 L234.50,230.69 L234.75,230.65 L235.00,230.59 L235.25,230.50 L235.50,230.37 L235.75,230.16 L236.00,229.84 L236.25,229.42 L236.50,228.95 L236.75,228.53 L237.00,228.30 L237.25,228.36 L237.50,228.60 L237.75,228.89 L238.00,229.09 L238.25,229.14 L238.50,228.98 L238.75,228.53 L239.00,227.60 L239.25,225.87 L239.50,222.91 L239.75,218.44 L240.00,212.58 L240.25,206.21 L240.50,201.14 L240.75,199.67 L241.00,202.61 L241.25,208.27 L241.50,214.38 L241.75,219.51 L242.00,223.09 L242.25,225.21 L242.50,226.21 L242.75,226.45 L243.00,226.12 L243.25,225.20 L243.50,223.44 L243.75,220.47 L244.00,215.80 L244.25,209.00 L244.50,199.96 L244.75,189.09 L245.00,177.60 L245.25,167.59 L245.50,161.85 L245.75,162.52 L246.00,169.32 L246.25,179.83 L246.50,191.33 L246.75,201.89 L247.00,210.50 L247.25,216.87 L247.50,221.19 L247.75,223.93 L248.00,225.57 L248.25,226.54 L248.50,227.11 L248.75,227.46 L249.00,227.66 L249.25,227.79 L249.50,227.84 L249.75,227.84 L250.00,227.79 L250.25,227.69 L250.50,227.54 L250.75,227.32 L251.00,227.01 L251.25,226.59 L251.50,226.00 L251.75,225.14 L252.00,223.86 L252.25,221.97 L252.50,219.17 L252.75,215.13 L253.00,209.51 L253.25,202.01 L253.50,192.48 L253.75,181.04 L254.00,168.13 L254.25,154.67 L254.50,142.04 L254.75,132.09 L255.00,126.79 L255.25,127.42 L255.50,133.81 L255.75,144.49 L256.00,157.46 L256.25,170.94 L256.50,183.64 L256.75,194.76 L257.00,203.92 L257.25,211.06 L257.50,216.38 L257.75,220.18 L258.00,222.82 L258.25,224.63 L258.50,225.86 L258.75,226.72 L259.00,227.35 L259.25,227.82 L259.50,228.19 L259.75,228.49 L260.00,228.75 L260.25,228.97 L260.50,229.16" fill="none" stroke="#0000ff" stroke-width="1.6" stroke-linejoin="round" clip-path="url(#cc)"/>
<rect x="21.5" y="134" width="239.5" height="98.5" fill="none" stroke="#858585" stroke-width="1.0"/>
<line x1="19.00" y1="231.60" x2="21.5" y2="231.60" stroke="#333" stroke-width="0.8"/>
<text x="18" y="234.52" fill="#111" font-size="8" text-anchor="end" font-weight="normal" stroke="#111" stroke-width="0.2" >0</text>
<line x1="19.00" y1="208.80" x2="21.5" y2="208.80" stroke="#333" stroke-width="0.8"/>
<text x="18" y="211.72" fill="#111" font-size="8" text-anchor="end" font-weight="normal" stroke="#111" stroke-width="0.2" >1</text>
<line x1="19.00" y1="186.00" x2="21.5" y2="186.00" stroke="#333" stroke-width="0.8"/>
<text x="18" y="188.92" fill="#111" font-size="8" text-anchor="end" font-weight="normal" stroke="#111" stroke-width="0.2" >2</text>
<line x1="19.00" y1="163.20" x2="21.5" y2="163.20" stroke="#333" stroke-width="0.8"/>
<text x="18" y="166.12" fill="#111" font-size="8" text-anchor="end" font-weight="normal" stroke="#111" stroke-width="0.2" >3</text>
<line x1="19.00" y1="140.40" x2="21.5" y2="140.40" stroke="#333" stroke-width="0.8"/>
<text x="18" y="143.32" fill="#111" font-size="8" text-anchor="end" font-weight="normal" stroke="#111" stroke-width="0.2" >4</text>
<line x1="20.00" y1="220.20" x2="21.5" y2="220.20" stroke="#555" stroke-width="0.6"/>
<line x1="20.00" y1="197.40" x2="21.5" y2="197.40" stroke="#555" stroke-width="0.6"/>
<line x1="20.00" y1="174.60" x2="21.5" y2="174.60" stroke="#555" stroke-width="0.6"/>
<line x1="20.00" y1="151.80" x2="21.5" y2="151.80" stroke="#555" stroke-width="0.6"/>
<line x1="34.80" y1="232.5" x2="34.80" y2="234.7" stroke="#777" stroke-width="0.7"/>
<text x="34.8" y="242.12" fill="#111" font-size="8" text-anchor="middle" font-weight="normal" stroke="#111" stroke-width="0.2" >332</text>
<line x1="62.21" y1="232.5" x2="62.21" y2="234.7" stroke="#777" stroke-width="0.7"/>
<text x="62.21" y="242.12" fill="#111" font-size="8" text-anchor="middle" font-weight="normal" stroke="#111" stroke-width="0.2" >336</text>
<line x1="89.62" y1="232.5" x2="89.62" y2="234.7" stroke="#777" stroke-width="0.7"/>
<text x="89.62" y="242.12" fill="#111" font-size="8" text-anchor="middle" font-weight="normal" stroke="#111" stroke-width="0.2" >340</text>
<line x1="117.04" y1="232.5" x2="117.04" y2="234.7" stroke="#777" stroke-width="0.7"/>
<text x="117.04" y="242.12" fill="#111" font-size="8" text-anchor="middle" font-weight="normal" stroke="#111" stroke-width="0.2" >344</text>
<line x1="144.45" y1="232.5" x2="144.45" y2="234.7" stroke="#777" stroke-width="0.7"/>
<text x="144.45" y="242.12" fill="#111" font-size="8" text-anchor="middle" font-weight="normal" stroke="#111" stroke-width="0.2" >348</text>
<line x1="171.86" y1="232.5" x2="171.86" y2="234.7" stroke="#777" stroke-width="0.7"/>
<text x="171.86" y="242.12" fill="#111" font-size="8" text-anchor="middle" font-weight="normal" stroke="#111" stroke-width="0.2" >352</text>
<line x1="199.27" y1="232.5" x2="199.27" y2="234.7" stroke="#777" stroke-width="0.7"/>
<text x="199.27" y="242.12" fill="#111" font-size="8" text-anchor="middle" font-weight="normal" stroke="#111" stroke-width="0.2" >356</text>
<line x1="226.68" y1="232.5" x2="226.68" y2="234.7" stroke="#777" stroke-width="0.7"/>
<text x="226.68" y="242.12" fill="#111" font-size="8" text-anchor="middle" font-weight="normal" stroke="#111" stroke-width="0.2" >360</text>
<line x1="254.10" y1="232.5" x2="254.10" y2="234.7" stroke="#777" stroke-width="0.7"/>
<text x="254.1" y="242.12" fill="#111" font-size="8" text-anchor="middle" font-weight="normal" stroke="#111" stroke-width="0.2" >364</text>
<text x="11.6" y="183" transform="rotate(-90 11.6 183)" fill="#111" font-size="8.5" text-anchor="middle">Mean normalization</text>
<text x="139.5" y="254.29" fill="#111" font-size="8.5" text-anchor="middle" font-weight="normal" stroke="#111" stroke-width="0.2" >Wavelength/nm</text>
<text x="28.3" y="148.2" fill="#111" font-size="8.5" text-anchor="start" font-weight="normal" stroke="#111" stroke-width="0.2" >(c)</text>
<text x="44.5" y="181.95" fill="#ff2a2a" font-size="7.2" text-anchor="start" font-weight="normal" stroke="#ff2a2a" stroke-width="0.2" >Ca 1</text>
<text x="44.5" y="191.05" fill="#ff2a2a" font-size="7.2" text-anchor="start" font-weight="normal" stroke="#ff2a2a" stroke-width="0.2" >334.4</text>
<text x="44.5" y="200.15" fill="#ff2a2a" font-size="7.2" text-anchor="start" font-weight="normal" stroke="#ff2a2a" stroke-width="0.2" >335.0</text>
<text x="44.5" y="209.25" fill="#ff2a2a" font-size="7.2" text-anchor="start" font-weight="normal" stroke="#ff2a2a" stroke-width="0.2" >336.1</text>
<text x="109.8" y="213.75" fill="#22dddd" font-size="7.2" text-anchor="start" font-weight="normal" stroke="#22dddd" stroke-width="0.2" >Fe 1</text>
<text x="236.7" y="141.95" fill="#ff2a2a" font-size="7.2" text-anchor="start" font-weight="normal" stroke="#ff2a2a" stroke-width="0.2" >Ca 1</text>
<text x="236.7" y="151.05" fill="#ff2a2a" font-size="7.2" text-anchor="start" font-weight="normal" stroke="#ff2a2a" stroke-width="0.2" >364.4</text>
<text x="227.2" y="166.65" fill="#ff2a2a" font-size="7.2" text-anchor="start" font-weight="normal" stroke="#ff2a2a" stroke-width="0.2" >Ca 1</text>
<text x="227.2" y="175.65" fill="#ff2a2a" font-size="7.2" text-anchor="start" font-weight="normal" stroke="#ff2a2a" stroke-width="0.2" >363.0</text>
<text x="223.4" y="196.75" fill="#ff2a2a" font-size="7.2" text-anchor="start" font-weight="normal" stroke="#ff2a2a" stroke-width="0.2" >Ca 1</text>
<text x="223.4" y="205.85" fill="#ff2a2a" font-size="7.2" text-anchor="start" font-weight="normal" stroke="#ff2a2a" stroke-width="0.2" >362.4</text>
<rect x="298.9" y="135.5" width="238.70000000000005" height="98.5" fill="#c3c3c3"/>
<clipPath id="cd"><rect x="298.9" y="135.5" width="238.70000000000005" height="98.5"/></clipPath>
<ellipse cx="381.6" cy="170.5" rx="5.3" ry="17.6" fill="#fff" stroke="none"/>
<ellipse cx="422.3" cy="178.7" rx="5.3" ry="17.6" fill="#fff" stroke="none"/>
<ellipse cx="478.6" cy="155.5" rx="5.3" ry="17.6" fill="#fff" stroke="none"/>
<path d="M299.40,229.70 L299.65,229.43 L299.90,229.13 L300.15,228.79 L300.40,228.42 L300.65,227.99 L300.90,227.51 L301.15,226.94 L301.40,226.27 L301.65,225.45 L301.90,224.43 L302.15,223.11 L302.40,221.33 L302.65,218.84 L302.90,215.36 L303.15,210.82 L303.40,206.37 L303.65,204.89 L303.90,207.67 L304.15,212.18 L304.40,216.11 L304.65,218.97 L304.90,220.98 L305.15,222.43 L305.40,223.53 L305.65,224.40 L305.90,225.13 L306.15,225.75 L306.40,226.30 L306.65,226.79 L306.90,227.23 L307.15,227.64 L307.40,228.01 L307.65,228.35 L307.90,228.66 L308.15,228.95 L308.40,229.21 L308.65,229.45 L308.90,229.68 L309.15,229.88 L309.40,230.06 L309.65,230.23 L309.90,230.39 L310.15,230.53 L310.40,230.66 L310.65,230.78 L310.90,230.89 L311.15,230.99 L311.40,231.09 L311.65,231.17 L311.90,231.25 L312.15,231.32 L312.40,231.38 L312.65,231.44 L312.90,231.49 L313.15,231.54 L313.40,231.58 L313.65,231.62 L313.90,231.65 L314.15,231.68 L314.40,231.70 L314.65,231.73 L314.90,231.74 L315.15,231.76 L315.40,231.77 L315.65,231.78 L315.90,231.78 L316.15,231.78 L316.40,231.78 L316.65,231.78 L316.90,231.77 L317.15,231.76 L317.40,231.74 L317.65,231.73 L317.90,231.71 L318.15,231.68 L318.40,231.65 L318.65,231.62 L318.90,231.58 L319.15,231.54 L319.40,231.50 L319.65,231.45 L319.90,231.40 L320.15,231.34 L320.40,231.27 L320.65,231.20 L320.90,231.12 L321.15,231.03 L321.40,230.94 L321.65,230.83 L321.90,230.72 L322.15,230.60 L322.40,230.46 L322.65,230.31 L322.90,230.15 L323.15,229.97 L323.40,229.78 L323.65,229.56 L323.90,229.32 L324.15,229.05 L324.40,228.76 L324.65,228.43 L324.90,228.06 L325.15,227.64 L325.40,227.16 L325.65,226.62 L325.90,225.99 L326.15,225.24 L326.40,224.35 L326.65,223.26 L326.90,221.88 L327.15,220.07 L327.40,217.64 L327.65,214.22 L327.90,209.36 L328.15,202.69 L328.40,195.02 L328.65,190.14 L328.90,192.16 L329.15,199.00 L329.40,206.00 L329.65,211.31 L329.90,215.02 L330.15,217.62 L330.40,219.52 L330.65,220.97 L330.90,222.13 L331.15,223.10 L331.40,223.93 L331.65,224.66 L331.90,225.31 L332.15,225.89 L332.40,226.43 L332.65,226.91 L332.90,227.36 L333.15,227.76 L333.40,228.14 L333.65,228.48 L333.90,228.80 L334.15,229.09 L334.40,229.35 L334.65,229.60 L334.90,229.83 L335.15,230.03 L335.40,230.23 L335.65,230.40 L335.90,230.57 L336.15,230.72 L336.40,230.86 L336.65,230.99 L336.90,231.11 L337.15,231.23 L337.40,231.33 L337.65,231.43 L337.90,231.52 L338.15,231.61 L338.40,231.69 L338.65,231.76 L338.90,231.83 L339.15,231.90 L339.40,231.96 L339.65,232.02 L339.90,232.07 L340.15,232.12 L340.40,232.17 L340.65,232.22 L340.90,232.26" fill="none" stroke="#0000ff" stroke-width="1.6" stroke-linejoin="round" clip-path="url(#cd)"/>
<path d="M344.50,232.45 L344.75,232.44 L345.00,232.43 L345.25,232.42 L345.50,232.40 L345.75,232.39 L346.00,232.38 L346.25,232.37 L346.50,232.35 L346.75,232.34 L347.00,232.32 L347.25,232.31 L347.50,232.29 L347.75,232.28 L348.00,232.26 L348.25,232.25 L348.50,232.23 L348.75,232.21 L349.00,232.20 L349.25,232.18 L349.50,232.16 L349.75,232.14 L350.00,232.13 L350.25,232.11 L350.50,232.09 L350.75,232.07 L351.00,232.05 L351.25,232.03 L351.50,232.00 L351.75,231.98 L352.00,231.96 L352.25,231.94 L352.50,231.91 L352.75,231.89 L353.00,231.87 L353.25,231.84 L353.50,231.81 L353.75,231.79 L354.00,231.76 L354.25,231.73 L354.50,231.70 L354.75,231.68 L355.00,231.65 L355.25,231.61 L355.50,231.58 L355.75,231.55 L356.00,231.52 L356.25,231.48 L356.50,231.45 L356.75,231.41 L357.00,231.37 L357.25,231.33 L357.50,231.29 L357.75,231.25 L358.00,231.21 L358.25,231.17 L358.50,231.12 L358.75,231.08 L359.00,231.03 L359.25,230.98 L359.50,230.93 L359.75,230.88 L360.00,230.82 L360.25,230.77 L360.50,230.71 L360.75,230.65 L361.00,230.59 L361.25,230.53 L361.50,230.46 L361.75,230.39 L362.00,230.32 L362.25,230.25 L362.50,230.17 L362.75,230.10 L363.00,230.01 L363.25,229.93 L363.50,229.84 L363.75,229.75 L364.00,229.66 L364.25,229.56 L364.50,229.46 L364.75,229.35 L365.00,229.24 L365.25,229.12 L365.50,229.00 L365.75,228.88 L366.00,228.75 L366.25,228.61 L366.50,228.47 L366.75,228.32 L367.00,228.16 L367.25,228.00 L367.50,227.83 L367.75,227.64 L368.00,227.45 L368.25,227.25 L368.50,227.04 L368.75,226.82 L369.00,226.58 L369.25,226.33 L369.50,226.06 L369.75,225.78 L370.00,225.48 L370.25,225.16 L370.50,224.81 L370.75,224.44 L371.00,224.05 L371.25,223.62 L371.50,223.16 L371.75,222.66 L372.00,222.13 L372.25,221.55 L372.50,220.92 L372.75,220.24 L373.00,219.50 L373.25,218.69 L373.50,217.82 L373.75,216.88 L374.00,215.85 L374.25,214.74 L374.50,213.54 L374.75,212.24 L375.00,210.83 L375.25,209.32 L375.50,207.68 L375.75,205.93 L376.00,204.05 L376.25,202.04 L376.50,199.90 L376.75,197.61 L377.00,195.20 L377.25,192.64 L377.50,189.95 L377.75,187.13 L378.00,184.20 L378.25,181.15 L378.50,178.01 L378.75,174.81 L379.00,171.57 L379.25,168.37 L379.50,165.28 L379.75,162.45 L380.00,160.11 L380.25,158.51 L380.50,157.91 L380.75,158.43 L381.00,159.91 L381.25,161.89 L381.50,163.65 L381.75,164.51 L382.00,164.12 L382.25,162.65 L382.50,160.66 L382.75,158.89 L383.00,157.94 L383.25,158.08 L383.50,159.30 L383.75,161.37 L384.00,164.02 L384.25,167.02 L384.50,170.18 L384.75,173.41 L385.00,176.62 L385.25,179.78 L385.50,182.85 L385.75,185.82 L386.00,188.68 L386.25,191.41 L386.50,194.01 L386.75,196.47 L387.00,198.80 L387.25,200.99 L387.50,203.04 L387.75,204.96 L388.00,206.76 L388.25,208.43 L388.50,209.98 L388.75,211.42 L389.00,212.75 L389.25,213.98 L389.50,215.11 L389.75,216.16 L390.00,217.12 L390.25,218.01 L390.50,218.83 L390.75,219.58 L391.00,220.27 L391.25,220.91 L391.50,221.50 L391.75,222.04 L392.00,222.53 L392.25,222.99 L392.50,223.42 L392.75,223.81 L393.00,224.18 L393.25,224.52 L393.50,224.84 L393.75,225.13 L394.00,225.40 L394.25,225.66 L394.50,225.90 L394.75,226.13 L395.00,226.34 L395.25,226.54 L395.50,226.72 L395.75,226.90 L396.00,227.07 L396.25,227.22 L396.50,227.37 L396.75,227.51 L397.00,227.64 L397.25,227.77 L397.50,227.88 L397.75,227.99 L398.00,228.10 L398.25,228.19 L398.50,228.29 L398.75,228.37 L399.00,228.45 L399.25,228.53 L399.50,228.60 L399.75,228.66 L400.00,228.72 L400.25,228.77 L400.50,228.81 L400.75,228.85 L401.00,228.88 L401.25,228.90 L401.50,228.92 L401.75,228.92 L402.00,228.92 L402.25,228.90 L402.50,228.88 L402.75,228.85 L403.00,228.80 L403.25,228.75 L403.50,228.69 L403.75,228.63 L404.00,228.55 L404.25,228.48 L404.50,228.41 L404.75,228.33 L405.00,228.26 L405.25,228.20 L405.50,228.14 L405.75,228.10 L406.00,228.06 L406.25,228.03 L406.50,228.00 L406.75,227.99 L407.00,227.98 L407.25,227.94 L407.50,227.85 L407.75,227.63 L408.00,227.25 L408.25,226.79 L408.50,226.47 L408.75,226.48 L409.00,226.79 L409.25,227.19 L409.50,227.46 L409.75,227.56 L410.00,227.53 L410.25,227.43 L410.50,227.30 L410.75,227.14 L411.00,226.97 L411.25,226.77 L411.50,226.55 L411.75,226.30 L412.00,226.03 L412.25,225.73 L412.50,225.40 L412.75,225.03 L413.00,224.63 L413.25,224.18 L413.50,223.68 L413.75,223.12 L414.00,222.51 L414.25,221.81 L414.50,221.04 L414.75,220.19 L415.00,219.23 L415.25,218.16 L415.50,216.97 L415.75,215.65 L416.00,214.19 L416.25,212.57 L416.50,210.80 L416.75,208.85 L417.00,206.71 L417.25,204.40 L417.50,201.89 L417.75,199.20 L418.00,196.32 L418.25,193.27 L418.50,190.07 L418.75,186.75 L419.00,183.34 L419.25,179.91 L419.50,176.52 L419.75,173.27 L420.00,170.26 L420.25,167.61 L420.50,165.48 L420.75,164.07 L421.00,163.63 L421.25,164.34 L421.50,166.07 L421.75,168.23 L422.00,170.20 L422.25,171.80 L422.50,173.44 L422.75,175.58 L423.00,178.34 L423.25,181.53 L423.50,184.91 L423.75,188.29 L424.00,191.59 L424.25,194.75 L424.50,197.75 L424.75,200.57 L425.00,203.21 L425.25,205.66 L425.50,207.93 L425.75,210.00 L426.00,211.90 L426.25,213.64 L426.50,215.21 L426.75,216.64 L427.00,217.92 L427.25,219.08 L427.50,220.13 L427.75,221.07 L428.00,221.91 L428.25,222.67 L428.50,223.36 L428.75,223.98 L429.00,224.53 L429.25,225.04 L429.50,225.49 L429.75,225.91 L430.00,226.29 L430.25,226.64 L430.50,226.96 L430.75,227.25 L431.00,227.52 L431.25,227.78 L431.50,228.01 L431.75,228.23 L432.00,228.44 L432.25,228.63 L432.50,228.81 L432.75,228.98 L433.00,229.14 L433.25,229.29 L433.50,229.43 L433.75,229.56 L434.00,229.69 L434.25,229.81 L434.50,229.93 L434.75,230.04 L435.00,230.14 L435.25,230.24 L435.50,230.33 L435.75,230.42 L436.00,230.51 L436.25,230.59 L436.50,230.67 L436.75,230.74 L437.00,230.82 L437.25,230.88 L437.50,230.95 L437.75,231.01 L438.00,231.07 L438.25,231.13 L438.50,231.19 L438.75,231.24 L439.00,231.29 L439.25,231.34 L439.50,231.39 L439.75,231.44 L440.00,231.48 L440.25,231.52 L440.50,231.56 L440.75,231.60 L441.00,231.64 L441.25,231.68 L441.50,231.71 L441.75,231.75 L442.00,231.78 L442.25,231.81 L442.50,231.85 L442.75,231.88 L443.00,231.91 L443.25,231.93 L443.50,231.96 L443.75,231.99 L444.00,232.01 L444.25,232.04 L444.50,232.06 L444.75,232.09 L445.00,232.11 L445.25,232.13 L445.50,232.16 L445.75,232.18 L446.00,232.20 L446.25,232.22 L446.50,232.24 L446.75,232.26 L447.00,232.27 L447.25,232.29 L447.50,232.31 L447.75,232.33 L448.00,232.34 L448.25,232.36 L448.50,232.38 L448.75,232.39 L449.00,232.41 L449.25,232.42 L449.50,232.44 L449.75,232.45 L450.00,232.46 L450.25,232.48 L450.50,232.49 L450.75,232.50 L451.00,232.52 L451.25,232.53 L451.50,232.54 L451.75,232.55 L452.00,232.56 L452.25,232.57 L452.50,232.58 L452.75,232.59 L453.00,232.61 L453.25,232.62 L453.50,232.63 L453.75,232.64 L454.00,232.65 L454.25,232.65 L454.50,232.66 L454.75,232.67 L455.00,232.68 L455.25,232.69 L455.50,232.70 L455.75,232.71 L456.00,232.72 L456.25,232.72 L456.50,232.73 L456.75,232.74 L457.00,232.75 L457.25,232.75 L457.50,232.76 L457.75,232.77 L458.00,232.78 L458.25,232.78 L458.50,232.79 L458.75,232.80 L459.00,232.80 L459.25,232.81 L459.50,232.82 L459.75,232.82 L460.00,232.83 L460.25,232.83 L460.50,232.84 L460.75,232.85 L461.00,232.85" fill="none" stroke="#0000ff" stroke-width="1.6" stroke-linejoin="round" clip-path="url(#cd)"/>
<path d="M464.00,232.47 L464.25,232.44 L464.50,232.40 L464.75,232.37 L465.00,232.33 L465.25,232.29 L465.50,232.25 L465.75,232.20 L466.00,232.15 L466.25,232.10 L466.50,232.05 L466.75,231.99 L467.00,231.93 L467.25,231.86 L467.50,231.79 L467.75,231.72 L468.00,231.64 L468.25,231.55 L468.50,231.45 L468.75,231.35 L469.00,231.24 L469.25,231.12 L469.50,230.98 L469.75,230.83 L470.00,230.66 L470.25,230.46 L470.50,230.21 L470.75,229.89 L471.00,229.49 L471.25,228.99 L471.50,228.41 L471.75,227.83 L472.00,227.40 L472.25,227.20 L472.50,227.12 L472.75,227.02 L473.00,226.80 L473.25,226.40 L473.50,225.83 L473.75,225.05 L474.00,224.05 L474.25,222.79 L474.50,221.22 L474.75,219.28 L475.00,216.87 L475.25,213.94 L475.50,210.40 L475.75,206.19 L476.00,201.25 L476.25,195.59 L476.50,189.22 L476.75,182.23 L477.00,174.80 L477.25,167.21 L477.50,159.89 L477.75,153.40 L478.00,148.41 L478.25,145.58 L478.50,145.31 L478.75,147.66 L479.00,152.26 L479.25,158.51 L479.50,165.72 L479.75,173.29 L480.00,180.78 L480.25,187.88 L480.50,194.39 L480.75,200.20 L481.00,205.29 L481.25,209.65 L481.50,213.33 L481.75,216.38 L482.00,218.90 L482.25,220.94 L482.50,222.60 L482.75,223.95 L483.00,225.04 L483.25,225.93 L483.50,226.67 L483.75,227.29 L484.00,227.81 L484.25,228.26 L484.50,228.65 L484.75,229.00 L485.00,229.30 L485.25,229.57 L485.50,229.82 L485.75,230.04 L486.00,230.24 L486.25,230.43 L486.50,230.60 L486.75,230.75 L487.00,230.89 L487.25,231.02 L487.50,231.14 L487.75,231.26 L488.00,231.36 L488.25,231.45 L488.50,231.54 L488.75,231.63 L489.00,231.70 L489.25,231.78 L489.50,231.84 L489.75,231.91 L490.00,231.97 L490.25,232.02 L490.50,232.07 L490.75,232.12 L491.00,232.17 L491.25,232.21 L491.50,232.25 L491.75,232.29 L492.00,232.33 L492.25,232.36 L492.50,232.39 L492.75,232.43 L493.00,232.45 L493.25,232.48 L493.50,232.51 L493.75,232.53 L494.00,232.56 L494.25,232.58 L494.50,232.60 L494.75,232.62 L495.00,232.64 L495.25,232.66 L495.50,232.67 L495.75,232.69 L496.00,232.71 L496.25,232.72 L496.50,232.73 L496.75,232.75 L497.00,232.76 L497.25,232.77 L497.50,232.78 L497.75,232.79 L498.00,232.80 L498.25,232.81 L498.50,232.82 L498.75,232.83 L499.00,232.84 L499.25,232.84 L499.50,232.85 L499.75,232.85 L500.00,232.86 L500.25,232.86 L500.50,232.87 L500.75,232.87 L501.00,232.87 L501.25,232.88 L501.50,232.88 L501.75,232.88 L502.00,232.88 L502.25,232.88 L502.50,232.87 L502.75,232.87 L503.00,232.87 L503.25,232.86 L503.50,232.86 L503.75,232.85 L504.00,232.84 L504.25,232.83 L504.50,232.82 L504.75,232.81 L505.00,232.79 L505.25,232.77 L505.50,232.75 L505.75,232.72 L506.00,232.69 L506.25,232.65 L506.50,232.61 L506.75,232.56 L507.00,232.50 L507.25,232.42 L507.50,232.32 L507.75,232.21 L508.00,232.05 L508.25,231.86 L508.50,231.59 L508.75,231.22 L509.00,230.68 L509.25,229.84 L509.50,228.26 L509.75,224.67 L510.00,216.42 L510.25,201.47 L510.50,185.67 L510.75,187.95 L511.00,204.72 L511.25,218.23 L511.50,225.14 L511.75,227.96 L512.00,229.08 L512.25,229.52 L512.50,229.57 L512.75,229.24 L513.00,228.35 L513.25,226.13 L513.50,220.57 L513.75,209.04 L514.00,192.84 L514.25,186.40 L514.50,199.43 L514.75,214.62 L515.00,223.62 L515.25,227.63 L515.50,229.31 L515.75,230.14 L516.00,230.62 L516.25,230.90 L516.50,231.06 L516.75,231.13 L517.00,231.12 L517.25,231.02 L517.50,230.84 L517.75,230.55 L518.00,230.09 L518.25,229.36 L518.50,228.00 L518.75,224.96 L519.00,218.09 L519.25,205.71 L519.50,192.54 L519.75,193.95 L520.00,206.92 L520.25,216.91 L520.50,220.78 L520.75,219.46 L521.00,212.36 L521.25,197.02 L521.50,173.77 L521.75,155.74 L522.00,164.71 L522.25,188.85 L522.50,208.22 L522.75,218.99 L523.00,223.84 L523.25,225.83 L523.50,226.47 L523.75,226.05 L524.00,223.80 L524.25,217.52 L524.50,204.83 L524.75,188.98 L525.00,186.93 L525.25,202.13 L525.50,216.50 L525.75,224.44 L526.00,227.92 L526.25,229.46 L526.50,230.28 L526.75,230.80 L527.00,231.15 L527.25,231.38 L527.50,231.53 L527.75,231.63 L528.00,231.67 L528.25,231.66 L528.50,231.59 L528.75,231.45 L529.00,231.22 L529.25,230.87 L529.50,230.29 L529.75,229.28 L530.00,227.15 L530.25,222.02 L530.50,210.96 L530.75,193.82 L531.00,182.90 L531.25,193.86 L531.50,211.06 L531.75,222.16 L532.00,227.34 L532.25,229.52 L532.50,230.59 L532.75,231.23 L533.00,231.66 L533.25,231.96 L533.50,232.18 L533.75,232.35 L534.00,232.48 L534.25,232.59 L534.50,232.67 L534.75,232.74 L535.00,232.80 L535.25,232.85 L535.50,232.89 L535.75,232.93 L536.00,232.96 L536.25,232.99 L536.50,233.01 L536.75,233.03 L537.00,233.05" fill="none" stroke="#0000ff" stroke-width="1.6" stroke-linejoin="round" clip-path="url(#cd)"/>
<ellipse cx="381.6" cy="170.5" rx="5.3" ry="17.6" fill="none" stroke="#111" stroke-width="1.8" stroke-dasharray="2.6,1.6"/>
<ellipse cx="422.3" cy="178.7" rx="5.3" ry="17.6" fill="none" stroke="#111" stroke-width="1.8" stroke-dasharray="2.6,1.6"/>
<ellipse cx="478.6" cy="155.5" rx="5.3" ry="17.6" fill="none" stroke="#111" stroke-width="1.8" stroke-dasharray="2.6,1.6"/>
<rect x="298.9" y="135.5" width="238.70000000000005" height="98.5" fill="none" stroke="#858585" stroke-width="1.0"/>
<rect x="340.40" y="232" width="3.6" height="4" fill="#fff"/>
<line x1="339.60" y1="235.80" x2="341.00" y2="230.50" stroke="#666" stroke-width="0.7"/>
<line x1="343.20" y1="235.80" x2="344.60" y2="230.50" stroke="#666" stroke-width="0.7"/>
<rect x="460.70" y="232" width="3.6" height="4" fill="#fff"/>
<line x1="459.90" y1="235.80" x2="461.30" y2="230.50" stroke="#666" stroke-width="0.7"/>
<line x1="463.50" y1="235.80" x2="464.90" y2="230.50" stroke="#666" stroke-width="0.7"/>
<line x1="296.40" y1="233.30" x2="298.9" y2="233.30" stroke="#333" stroke-width="0.8"/>
<text x="295.4" y="236.22" fill="#111" font-size="8" text-anchor="end" font-weight="normal" stroke="#111" stroke-width="0.2" >0</text>
<line x1="296.40" y1="221.05" x2="298.9" y2="221.05" stroke="#333" stroke-width="0.8"/>
<text x="295.4" y="223.97" fill="#111" font-size="8" text-anchor="end" font-weight="normal" stroke="#111" stroke-width="0.2" >5</text>
<line x1="296.40" y1="208.80" x2="298.9" y2="208.80" stroke="#333" stroke-width="0.8"/>
<text x="295.4" y="211.72" fill="#111" font-size="8" text-anchor="end" font-weight="normal" stroke="#111" stroke-width="0.2" >10</text>
<line x1="296.40" y1="196.55" x2="298.9" y2="196.55" stroke="#333" stroke-width="0.8"/>
<text x="295.4" y="199.47" fill="#111" font-size="8" text-anchor="end" font-weight="normal" stroke="#111" stroke-width="0.2" >15</text>
<line x1="296.40" y1="184.30" x2="298.9" y2="184.30" stroke="#333" stroke-width="0.8"/>
<text x="295.4" y="187.22" fill="#111" font-size="8" text-anchor="end" font-weight="normal" stroke="#111" stroke-width="0.2" >20</text>
<line x1="296.40" y1="172.05" x2="298.9" y2="172.05" stroke="#333" stroke-width="0.8"/>
<text x="295.4" y="174.97" fill="#111" font-size="8" text-anchor="end" font-weight="normal" stroke="#111" stroke-width="0.2" >25</text>
<line x1="296.40" y1="159.80" x2="298.9" y2="159.80" stroke="#333" stroke-width="0.8"/>
<text x="295.4" y="162.72" fill="#111" font-size="8" text-anchor="end" font-weight="normal" stroke="#111" stroke-width="0.2" >30</text>
<line x1="296.40" y1="147.55" x2="298.9" y2="147.55" stroke="#333" stroke-width="0.8"/>
<text x="295.4" y="150.47" fill="#111" font-size="8" text-anchor="end" font-weight="normal" stroke="#111" stroke-width="0.2" >35</text>
<line x1="296.40" y1="135.30" x2="298.9" y2="135.30" stroke="#333" stroke-width="0.8"/>
<text x="295.4" y="138.22" fill="#111" font-size="8" text-anchor="end" font-weight="normal" stroke="#111" stroke-width="0.2" >40</text>
<line x1="297.40" y1="227.18" x2="298.9" y2="227.18" stroke="#555" stroke-width="0.6"/>
<line x1="297.40" y1="214.93" x2="298.9" y2="214.93" stroke="#555" stroke-width="0.6"/>
<line x1="297.40" y1="202.68" x2="298.9" y2="202.68" stroke="#555" stroke-width="0.6"/>
<line x1="297.40" y1="190.43" x2="298.9" y2="190.43" stroke="#555" stroke-width="0.6"/>
<line x1="297.40" y1="178.18" x2="298.9" y2="178.18" stroke="#555" stroke-width="0.6"/>
<line x1="297.40" y1="165.93" x2="298.9" y2="165.93" stroke="#555" stroke-width="0.6"/>
<line x1="297.40" y1="153.68" x2="298.9" y2="153.68" stroke="#555" stroke-width="0.6"/>
<line x1="297.40" y1="141.43" x2="298.9" y2="141.43" stroke="#555" stroke-width="0.6"/>
<line x1="315.60" y1="234" x2="315.60" y2="236.2" stroke="#777" stroke-width="0.7"/>
<text x="315.6" y="243.62" fill="#111" font-size="8" text-anchor="middle" font-weight="normal" stroke="#111" stroke-width="0.2" >372</text>
<line x1="379.60" y1="234" x2="379.60" y2="236.2" stroke="#777" stroke-width="0.7"/>
<text x="379.6" y="243.62" fill="#111" font-size="8" text-anchor="middle" font-weight="normal" stroke="#111" stroke-width="0.2" >393</text>
<line x1="413.60" y1="234" x2="413.60" y2="236.2" stroke="#777" stroke-width="0.7"/>
<text x="413.6" y="243.62" fill="#111" font-size="8" text-anchor="middle" font-weight="normal" stroke="#111" stroke-width="0.2" >396</text>
<line x1="448.40" y1="234" x2="448.40" y2="236.2" stroke="#777" stroke-width="0.7"/>
<text x="448.4" y="243.62" fill="#111" font-size="8" text-anchor="middle" font-weight="normal" stroke="#111" stroke-width="0.2" >399</text>
<line x1="481.00" y1="234" x2="481.00" y2="236.2" stroke="#777" stroke-width="0.7"/>
<text x="481" y="243.62" fill="#111" font-size="8" text-anchor="middle" font-weight="normal" stroke="#111" stroke-width="0.2" >423</text>
<line x1="498.00" y1="234" x2="498.00" y2="236.2" stroke="#777" stroke-width="0.7"/>
<text x="498" y="243.62" fill="#111" font-size="8" text-anchor="middle" font-weight="normal" stroke="#111" stroke-width="0.2" >426</text>
<line x1="515.00" y1="234" x2="515.00" y2="236.2" stroke="#777" stroke-width="0.7"/>
<text x="515" y="243.62" fill="#111" font-size="8" text-anchor="middle" font-weight="normal" stroke="#111" stroke-width="0.2" >429</text>
<line x1="532.20" y1="234" x2="532.20" y2="236.2" stroke="#777" stroke-width="0.7"/>
<text x="532.2" y="243.62" fill="#111" font-size="8" text-anchor="middle" font-weight="normal" stroke="#111" stroke-width="0.2" >432</text>
<text x="284.8" y="184.5" transform="rotate(-90 284.8 184.5)" fill="#111" font-size="8.5" text-anchor="middle">Mean normalization</text>
<text x="418.5" y="256.59" fill="#111" font-size="8.5" text-anchor="middle" font-weight="normal" stroke="#111" stroke-width="0.2" >Wavelength/nm</text>
<text x="305.5" y="150.5" fill="#111" font-size="8.5" text-anchor="start" font-weight="normal" stroke="#111" stroke-width="0.2" >(d)</text>
<text x="0" y="0" fill="#ff2a2a" font-size="7.6" text-anchor="start" font-weight="normal" stroke="#ff2a2a" stroke-width="0.2" transform="translate(302.80,193.88) scale(0.96,1)">Ca 2</text>
<text x="0" y="0" fill="#ff2a2a" font-size="7.6" text-anchor="start" font-weight="normal" stroke="#ff2a2a" stroke-width="0.2" transform="translate(302.80,203.38) scale(0.96,1)">370.6</text>
<text x="0" y="0" fill="#ff2a2a" font-size="7.6" text-anchor="start" font-weight="normal" stroke="#ff2a2a" stroke-width="0.2" transform="translate(326.00,178.78) scale(0.96,1)">Ca 2</text>
<text x="0" y="0" fill="#ff2a2a" font-size="7.6" text-anchor="start" font-weight="normal" stroke="#ff2a2a" stroke-width="0.2" transform="translate(326.00,187.78) scale(0.96,1)">373.6</text>
<text x="0" y="0" fill="#ff2a2a" font-size="7.6" text-anchor="start" font-weight="normal" stroke="#ff2a2a" stroke-width="0.2" transform="translate(357.00,160.78) scale(0.96,1)">Ca 2</text>
<text x="0" y="0" fill="#ff2a2a" font-size="7.6" text-anchor="start" font-weight="normal" stroke="#ff2a2a" stroke-width="0.2" transform="translate(357.00,169.48) scale(0.96,1)">393.3</text>
<text x="0" y="0" fill="#ff2a2a" font-size="7.6" text-anchor="start" font-weight="normal" stroke="#ff2a2a" stroke-width="0.2" transform="translate(398.60,172.58) scale(0.96,1)">Ca 2</text>
<text x="0" y="0" fill="#ff2a2a" font-size="7.6" text-anchor="start" font-weight="normal" stroke="#ff2a2a" stroke-width="0.2" transform="translate(398.60,181.28) scale(0.96,1)">396.8</text>
<text x="0" y="0" fill="#ff2a2a" font-size="7.6" text-anchor="start" font-weight="normal" stroke="#ff2a2a" stroke-width="0.2" transform="translate(454.70,154.08) scale(0.96,1)">Ca 2</text>
<text x="0" y="0" fill="#ff2a2a" font-size="7.6" text-anchor="start" font-weight="normal" stroke="#ff2a2a" stroke-width="0.2" transform="translate(454.70,162.58) scale(0.96,1)">422.6</text>
<text x="0" y="0" fill="#111" font-size="7.4" text-anchor="start" font-weight="normal" stroke="#111" stroke-width="0.2" transform="translate(360.80,149.32) scale(0.98,1)">Self-reversal</text>
<text x="0" y="0" fill="#111" font-size="7.4" text-anchor="start" font-weight="normal" stroke="#111" stroke-width="0.2" transform="translate(401.90,158.32) scale(0.98,1)">Self-reversal</text>
<text x="0" y="0" fill="#111" font-size="7.4" text-anchor="start" font-weight="normal" stroke="#111" stroke-width="0.2" transform="translate(435.70,143.42) scale(0.98,1)">Self-reversal</text>
<text x="0" y="0" fill="#111" font-size="7.6" text-anchor="start" font-weight="normal" stroke="#111" stroke-width="0.2" transform="translate(433.40,215.58) scale(0.96,1)">Sr 2</text>
<text x="0" y="0" fill="#111" font-size="7.6" text-anchor="start" font-weight="normal" stroke="#111" stroke-width="0.2" transform="translate(433.40,225.08) scale(0.96,1)">421.5</text>
<text x="0" y="0" fill="#ff2a2a" font-size="7.6" text-anchor="start" font-weight="normal" stroke="#ff2a2a" stroke-width="0.2" transform="translate(486.00,164.58) scale(0.96,1)">Ca 1</text>
<text x="0" y="0" fill="#ff2a2a" font-size="7.6" text-anchor="start" font-weight="normal" stroke="#ff2a2a" stroke-width="0.2" transform="translate(486.00,173.08) scale(0.96,1)">428.9</text>
<text x="0" y="0" fill="#ff2a2a" font-size="7.6" text-anchor="start" font-weight="normal" stroke="#ff2a2a" stroke-width="0.2" transform="translate(504.80,164.58) scale(0.96,1)">Ca 1</text>
<text x="0" y="0" fill="#ff2a2a" font-size="7.6" text-anchor="start" font-weight="normal" stroke="#ff2a2a" stroke-width="0.2" transform="translate(504.80,173.08) scale(0.96,1)">429.8</text>
<text x="0" y="0" fill="#ff2a2a" font-size="7.6" text-anchor="start" font-weight="normal" stroke="#ff2a2a" stroke-width="0.2" transform="translate(512.40,144.38) scale(0.96,1)">Ca 1</text>
<text x="0" y="0" fill="#ff2a2a" font-size="7.6" text-anchor="start" font-weight="normal" stroke="#ff2a2a" stroke-width="0.2" transform="translate(512.40,153.68) scale(0.96,1)">430.2</text>
<text x="0" y="0" fill="#ff2a2a" font-size="7.6" text-anchor="start" font-weight="normal" stroke="#ff2a2a" stroke-width="0.2" transform="translate(529.50,165.18) scale(0.96,1)">Ca 1</text>
<text x="0" y="0" fill="#ff2a2a" font-size="7.6" text-anchor="start" font-weight="normal" stroke="#ff2a2a" stroke-width="0.2" transform="translate(529.50,174.18) scale(0.96,1)">430.7</text>
<text x="0" y="0" fill="#ff2a2a" font-size="7.6" text-anchor="start" font-weight="normal" stroke="#ff2a2a" stroke-width="0.2" transform="translate(532.00,190.58) scale(0.96,1)">Ca 1</text>
<text x="0" y="0" fill="#ff2a2a" font-size="7.6" text-anchor="start" font-weight="normal" stroke="#ff2a2a" stroke-width="0.2" transform="translate(532.00,199.98) scale(0.96,1)">431.8</text>
<text x="0" y="0" fill="#ff2a2a" font-size="7.6" text-anchor="start" font-weight="normal" stroke="#ff2a2a" stroke-width="0.2" transform="translate(491.80,197.08) scale(0.96,1)">Ca 1</text>
<text x="0" y="0" fill="#ff2a2a" font-size="7.6" text-anchor="start" font-weight="normal" stroke="#ff2a2a" stroke-width="0.2" transform="translate(491.80,206.08) scale(0.96,1)">428.3</text>
<line x1="519.60" y1="191.00" x2="503.85" y2="176.38" stroke="#ff2a2a" stroke-width="0.9"/>
<polygon points="501.50,174.20 504.87,175.28 502.82,177.48" fill="#ff2a2a"/>
<line x1="519.60" y1="191.00" x2="514.47" y2="174.95" stroke="#ff2a2a" stroke-width="0.9"/>
<polygon points="513.50,171.90 515.90,174.49 513.04,175.40" fill="#ff2a2a"/>
<line x1="524.50" y1="184.20" x2="528.46" y2="172.63" stroke="#ff2a2a" stroke-width="0.9"/>
<polygon points="529.50,169.60 529.88,173.11 527.04,172.14" fill="#ff2a2a"/>
<rect x="21.8" y="263.2" width="239.2" height="98.80000000000001" fill="#c3c3c3"/>
<clipPath id="ce"><rect x="21.8" y="263.2" width="239.2" height="98.80000000000001"/></clipPath>
<path d="M22.30,360.98 L22.55,360.97 L22.80,360.96 L23.05,360.94 L23.30,360.93 L23.55,360.91 L23.80,360.89 L24.05,360.87 L24.30,360.85 L24.55,360.82 L24.80,360.80 L25.05,360.76 L25.30,360.73 L25.55,360.68 L25.80,360.63 L26.05,360.58 L26.30,360.51 L26.55,360.43 L26.80,360.33 L27.05,360.21 L27.30,360.06 L27.55,359.86 L27.80,359.60 L28.05,359.23 L28.30,358.66 L28.55,357.51 L28.80,354.59 L29.05,347.45 L29.30,333.87 L29.55,316.52 L29.80,307.20 L30.05,316.08 L30.30,332.93 L30.55,345.93 L30.80,352.27 L31.05,353.80 L31.30,351.89 L31.55,345.21 L31.80,330.80 L32.05,308.05 L32.30,284.34 L32.55,276.77 L32.80,293.16 L33.05,318.25 L33.30,338.20 L33.55,349.50 L33.80,354.54 L34.05,356.55 L34.30,357.41 L34.55,357.83 L34.80,358.03 L35.05,358.06 L35.30,357.93 L35.55,357.61 L35.80,356.99 L36.05,355.68 L36.30,352.64 L36.55,345.71 L36.80,332.04 L37.05,310.57 L37.30,285.86 L37.55,270.69 L37.80,277.76 L38.05,300.68 L38.30,324.52 L38.55,341.49 L38.80,350.89 L39.05,355.27 L39.30,357.21 L39.55,358.19 L39.80,358.78 L40.05,359.20 L40.30,359.51 L40.55,359.76 L40.80,359.95 L41.05,360.10 L41.30,360.23 L41.55,360.33 L41.80,360.42 L42.05,360.50 L42.30,360.56 L42.55,360.62 L42.80,360.66 L43.05,360.70 L43.30,360.74 L43.55,360.77 L43.80,360.80 L44.05,360.83 L44.30,360.85 L44.55,360.87 L44.80,360.89 L45.05,360.91 L45.30,360.92 L45.55,360.94 L45.80,360.95 L46.05,360.96 L46.30,360.97 L46.55,360.98 L46.80,360.99 L47.05,361.00 L47.30,361.01 L47.55,361.02 L47.80,361.02 L48.05,361.03 L48.30,361.03 L48.55,361.04 L48.80,361.04 L49.05,361.05 L49.30,361.05 L49.55,361.06 L49.80,361.06 L50.05,361.06 L50.30,361.07 L50.55,361.07 L50.80,361.07 L51.05,361.07 L51.30,361.07 L51.55,361.07 L51.80,361.08 L52.05,361.08 L52.30,361.08 L52.55,361.07 L52.80,361.07 L53.05,361.07 L53.30,361.07 L53.55,361.06 L53.80,361.06 L54.05,361.05 L54.30,361.04 L54.55,361.03 L54.80,361.01 L55.05,360.99 L55.30,360.95 L55.55,360.90 L55.80,360.81 L56.05,360.59 L56.30,360.00 L56.55,358.66 L56.80,356.44 L57.05,354.21 L57.30,353.93 L57.55,355.95 L57.80,358.28 L58.05,359.81 L58.30,360.52 L58.55,360.78 L58.80,360.89 L59.05,360.95 L59.30,360.99 L59.55,361.02 L59.80,361.04 L60.05,361.05 L60.30,361.06 L60.55,361.07 L60.80,361.08 L61.05,361.08 L61.30,361.09 L61.55,361.09 L61.80,361.09 L62.05,361.09 L62.30,361.10 L62.55,361.10 L62.80,361.10 L63.05,361.10 L63.30,361.10 L63.55,361.10 L63.80,361.09 L64.05,361.09 L64.30,361.09 L64.55,361.09 L64.80,361.08 L65.05,361.08 L65.30,361.08 L65.55,361.07 L65.80,361.07 L66.05,361.06 L66.30,361.05 L66.55,361.04 L66.80,361.03 L67.05,361.02 L67.30,361.01 L67.55,361.00 L67.80,360.98 L68.05,360.96 L68.30,360.94 L68.55,360.91 L68.80,360.88 L69.05,360.84 L69.30,360.79 L69.55,360.73 L69.80,360.65 L70.05,360.54 L70.30,360.40 L70.55,360.20 L70.80,359.90 L71.05,359.30 L71.30,357.71 L71.55,353.50 L71.80,345.33 L72.05,335.90 L72.30,333.61 L72.55,338.91 L72.80,341.68 L73.05,338.73 L73.30,334.92 L73.55,332.14 L73.80,329.59 L74.05,334.06 L74.30,344.55 L74.55,353.13 L74.80,357.51 L75.05,359.17 L75.30,359.80 L75.55,360.12 L75.80,360.32 L76.05,360.46 L76.30,360.56 L76.55,360.63 L76.80,360.67 L77.05,360.69 L77.30,360.69 L77.55,360.66 L77.80,360.55 L78.05,360.19 L78.30,359.13 L78.55,356.84 L78.80,353.86 L79.05,352.78 L79.30,355.05 L79.55,357.97 L79.80,359.76 L80.05,360.50 L80.30,360.76 L80.55,360.87 L80.80,360.93 L81.05,360.97 L81.30,361.00 L81.55,361.03 L81.80,361.05 L82.05,361.06 L82.30,361.07 L82.55,361.08 L82.80,361.09 L83.05,361.10 L83.30,361.11 L83.55,361.11 L83.80,361.12 L84.05,361.12 L84.30,361.13 L84.55,361.13 L84.80,361.13 L85.05,361.14 L85.30,361.14 L85.55,361.14 L85.80,361.14 L86.05,361.15 L86.30,361.15 L86.55,361.15 L86.80,361.15 L87.05,361.15 L87.30,361.15 L87.55,361.16 L87.80,361.16 L88.05,361.16 L88.30,361.16 L88.55,361.16 L88.80,361.16 L89.05,361.16 L89.30,361.16 L89.55,361.16 L89.80,361.16 L90.05,361.17 L90.30,361.17 L90.55,361.17 L90.80,361.17 L91.05,361.17 L91.30,361.17 L91.55,361.17 L91.80,361.17 L92.05,361.17 L92.30,361.17 L92.55,361.17 L92.80,361.17 L93.05,361.17 L93.30,361.17 L93.55,361.17 L93.80,361.17 L94.05,361.17 L94.30,361.17 L94.55,361.17 L94.80,361.17 L95.05,361.17 L95.30,361.17 L95.55,361.17 L95.80,361.17 L96.05,361.16 L96.30,361.16 L96.55,361.16 L96.80,361.16 L97.05,361.15 L97.30,361.15 L97.55,361.14 L97.80,361.12 L98.05,361.09 L98.30,361.02 L98.55,360.86 L98.80,360.59 L99.05,360.20 L99.30,359.82 L99.55,359.71 L99.80,359.96 L100.05,360.36 L100.30,360.72 L100.55,360.94 L100.80,361.06 L101.05,361.11 L101.30,361.13 L101.55,361.14 L101.80,361.15 L102.05,361.16 L102.30,361.16 L102.55,361.17 L102.80,361.17 L103.05,361.17 L103.30,361.17 L103.55,361.17 L103.80,361.18 L104.05,361.18 L104.30,361.18 L104.55,361.18 L104.80,361.18 L105.05,361.18 L105.30,361.18 L105.55,361.18 L105.80,361.18 L106.05,361.18 L106.30,361.18 L106.55,361.18 L106.80,361.18 L107.05,361.18 L107.30,361.18 L107.55,361.18 L107.80,361.18 L108.05,361.19 L108.30,361.19 L108.55,361.19 L108.80,361.19 L109.05,361.19 L109.30,361.19 L109.55,361.19 L109.80,361.19 L110.05,361.19 L110.30,361.19 L110.55,361.19 L110.80,361.19 L111.05,361.19 L111.30,361.19 L111.55,361.19 L111.80,361.19 L112.05,361.19 L112.30,361.19 L112.55,361.19 L112.80,361.19 L113.05,361.19 L113.30,361.19 L113.55,361.19 L113.80,361.19 L114.05,361.19 L114.30,361.19 L114.55,361.19 L114.80,361.19 L115.05,361.19 L115.30,361.19 L115.55,361.19 L115.80,361.19 L116.05,361.19 L116.30,361.19 L116.55,361.19 L116.80,361.19 L117.05,361.19 L117.30,361.19 L117.55,361.19 L117.80,361.19 L118.05,361.19 L118.30,361.19 L118.55,361.19 L118.80,361.19 L119.05,361.19 L119.30,361.19 L119.55,361.19 L119.80,361.19 L120.05,361.19 L120.30,361.19 L120.55,361.19 L120.80,361.19 L121.05,361.19 L121.30,361.19 L121.55,361.19 L121.80,361.19 L122.05,361.19 L122.30,361.19 L122.55,361.19 L122.80,361.19 L123.05,361.19 L123.30,361.19 L123.55,361.19 L123.80,361.19 L124.05,361.19 L124.30,361.19 L124.55,361.19 L124.80,361.19 L125.05,361.19 L125.30,361.19 L125.55,361.19 L125.80,361.19 L126.05,361.19 L126.30,361.19 L126.55,361.19 L126.80,361.19 L127.05,361.19 L127.30,361.19 L127.55,361.19 L127.80,361.19 L128.05,361.19 L128.30,361.19 L128.55,361.19 L128.80,361.19 L129.05,361.19 L129.30,361.19 L129.55,361.19 L129.80,361.19 L130.05,361.19 L130.30,361.19 L130.55,361.19 L130.80,361.19 L131.05,361.19 L131.30,361.19 L131.55,361.19 L131.80,361.19 L132.05,361.19 L132.30,361.19 L132.55,361.19 L132.80,361.19 L133.05,361.19 L133.30,361.18 L133.55,361.18 L133.80,361.18 L134.05,361.18 L134.30,361.18 L134.55,361.18 L134.80,361.18 L135.05,361.18 L135.30,361.18 L135.55,361.18 L135.80,361.18 L136.05,361.18 L136.30,361.18 L136.55,361.18 L136.80,361.18 L137.05,361.18 L137.30,361.18 L137.55,361.18 L137.80,361.18 L138.05,361.18 L138.30,361.18 L138.55,361.18 L138.80,361.18 L139.05,361.18 L139.30,361.18 L139.55,361.17 L139.80,361.17 L140.05,361.17 L140.30,361.17 L140.55,361.17 L140.80,361.17 L141.05,361.17 L141.30,361.17 L141.55,361.17 L141.80,361.17 L142.05,361.16 L142.30,361.16 L142.55,361.16 L142.80,361.16 L143.05,361.16 L143.30,361.16 L143.55,361.15 L143.80,361.15 L144.05,361.15 L144.30,361.15 L144.55,361.14 L144.80,361.14 L145.05,361.14 L145.30,361.13 L145.55,361.13 L145.80,361.12 L146.05,361.12 L146.30,361.11 L146.55,361.10 L146.80,361.10 L147.05,361.09 L147.30,361.08 L147.55,361.06 L147.80,361.05 L148.05,361.03 L148.30,361.01 L148.55,360.99 L148.80,360.96 L149.05,360.93 L149.30,360.89 L149.55,360.83 L149.80,360.76 L150.05,360.68 L150.30,360.56 L150.55,360.39 L150.80,360.16 L151.05,359.75 L151.30,358.83 L151.55,356.42 L151.80,350.64 L152.05,340.32 L152.30,328.51 L152.55,324.49 L152.80,332.94 L153.05,344.94 L153.30,353.48 L153.55,357.67 L153.80,359.30 L154.05,359.94 L154.30,360.26 L154.55,360.47 L154.80,360.61 L155.05,360.71 L155.30,360.79 L155.55,360.85 L155.80,360.90 L156.05,360.94 L156.30,360.97 L156.55,361.00 L156.80,361.02 L157.05,361.04 L157.30,361.05 L157.55,361.07 L157.80,361.08 L158.05,361.09 L158.30,361.10 L158.55,361.11 L158.80,361.11 L159.05,361.12 L159.30,361.12 L159.55,361.13 L159.80,361.13 L160.05,361.14 L160.30,361.14 L160.55,361.14 L160.80,361.15 L161.05,361.15 L161.30,361.15 L161.55,361.15 L161.80,361.16 L162.05,361.16 L162.30,361.16 L162.55,361.16 L162.80,361.16 L163.05,361.16 L163.30,361.17 L163.55,361.17 L163.80,361.17 L164.05,361.17 L164.30,361.17 L164.55,361.17 L164.80,361.17 L165.05,361.17 L165.30,361.17 L165.55,361.17 L165.80,361.17 L166.05,361.17 L166.30,361.17 L166.55,361.18 L166.80,361.18 L167.05,361.18 L167.30,361.18 L167.55,361.18 L167.80,361.18 L168.05,361.18 L168.30,361.18 L168.55,361.18 L168.80,361.18 L169.05,361.18 L169.30,361.18 L169.55,361.18 L169.80,361.18 L170.05,361.18 L170.30,361.18 L170.55,361.18 L170.80,361.18 L171.05,361.18 L171.30,361.18 L171.55,361.18 L171.80,361.18 L172.05,361.18 L172.30,361.18 L172.55,361.18 L172.80,361.18 L173.05,361.18 L173.30,361.18 L173.55,361.18 L173.80,361.18 L174.05,361.18 L174.30,361.18 L174.55,361.18 L174.80,361.18 L175.05,361.18 L175.30,361.18 L175.55,361.18 L175.80,361.18 L176.05,361.18 L176.30,361.18 L176.55,361.18 L176.80,361.18 L177.05,361.18 L177.30,361.18 L177.55,361.18 L177.80,361.17 L178.05,361.17 L178.30,361.17 L178.55,361.17 L178.80,361.17 L179.05,361.17 L179.30,361.17 L179.55,361.17 L179.80,361.17 L180.05,361.17 L180.30,361.16 L180.55,361.16 L180.80,361.16 L181.05,361.16 L181.30,361.16 L181.55,361.15 L181.80,361.15 L182.05,361.14 L182.30,361.14 L182.55,361.13 L182.80,361.12 L183.05,361.11 L183.30,361.09 L183.55,361.06 L183.80,361.02 L184.05,360.97 L184.30,360.91 L184.55,360.83 L184.80,360.73 L185.05,360.62 L185.30,360.49 L185.55,360.36 L185.80,360.23 L186.05,360.12 L186.30,360.04 L186.55,360.00 L186.80,360.02 L187.05,360.08 L187.30,360.18 L187.55,360.30 L187.80,360.43 L188.05,360.56 L188.30,360.68 L188.55,360.78 L188.80,360.87 L189.05,360.94 L189.30,360.99 L189.55,361.03 L189.80,361.06 L190.05,361.08 L190.30,361.09 L190.55,361.10 L190.80,361.11 L191.05,361.11 L191.30,361.11 L191.55,361.11 L191.80,361.11 L192.05,361.11 L192.30,361.11 L192.55,361.10 L192.80,361.09 L193.05,361.08 L193.30,361.07 L193.55,361.06 L193.80,361.04 L194.05,361.02 L194.30,360.99 L194.55,360.95 L194.80,360.89 L195.05,360.81 L195.30,360.67 L195.55,360.39 L195.80,359.63 L196.05,357.76 L196.30,354.19 L196.55,349.62 L196.80,347.20 L197.05,349.63 L197.30,354.19 L197.55,357.77 L197.80,359.64 L198.05,360.39 L198.30,360.68 L198.55,360.81 L198.80,360.90 L199.05,360.95 L199.30,361.00 L199.55,361.03 L199.80,361.05 L200.05,361.07 L200.30,361.09 L200.55,361.10 L200.80,361.11 L201.05,361.12 L201.30,361.13 L201.55,361.13 L201.80,361.14 L202.05,361.14 L202.30,361.15 L202.55,361.15 L202.80,361.15 L203.05,361.16 L203.30,361.16 L203.55,361.16 L203.80,361.16 L204.05,361.16 L204.30,361.17 L204.55,361.17 L204.80,361.17 L205.05,361.17 L205.30,361.17 L205.55,361.17 L205.80,361.17 L206.05,361.17 L206.30,361.17 L206.55,361.17 L206.80,361.17 L207.05,361.17 L207.30,361.18 L207.55,361.18 L207.80,361.18 L208.05,361.18 L208.30,361.18 L208.55,361.18 L208.80,361.18 L209.05,361.18 L209.30,361.18 L209.55,361.18 L209.80,361.18 L210.05,361.18 L210.30,361.18 L210.55,361.18 L210.80,361.18 L211.05,361.18 L211.30,361.18 L211.55,361.18 L211.80,361.18 L212.05,361.18 L212.30,361.18 L212.55,361.18 L212.80,361.18 L213.05,361.18 L213.30,361.18 L213.55,361.18 L213.80,361.18 L214.05,361.18 L214.30,361.18 L214.55,361.18 L214.80,361.18 L215.05,361.18 L215.30,361.18 L215.55,361.18 L215.80,361.18 L216.05,361.18 L216.30,361.18 L216.55,361.18 L216.80,361.18 L217.05,361.18 L217.30,361.18 L217.55,361.18 L217.80,361.18 L218.05,361.18 L218.30,361.18 L218.55,361.18 L218.80,361.18 L219.05,361.18 L219.30,361.18 L219.55,361.18 L219.80,361.18 L220.05,361.17 L220.30,361.17 L220.55,361.17 L220.80,361.17 L221.05,361.17 L221.30,361.17 L221.55,361.17 L221.80,361.17 L222.05,361.17 L222.30,361.17 L222.55,361.17 L222.80,361.17 L223.05,361.17 L223.30,361.17 L223.55,361.17 L223.80,361.17 L224.05,361.17 L224.30,361.17 L224.55,361.16 L224.80,361.16 L225.05,361.16 L225.30,361.16 L225.55,361.16 L225.80,361.16 L226.05,361.16 L226.30,361.16 L226.55,361.15 L226.80,361.15 L227.05,361.15 L227.30,361.15 L227.55,361.15 L227.80,361.15 L228.05,361.14 L228.30,361.14 L228.55,361.14 L228.80,361.14 L229.05,361.13 L229.30,361.13 L229.55,361.13 L229.80,361.12 L230.05,361.12 L230.30,361.11 L230.55,361.10 L230.80,361.10 L231.05,361.09 L231.30,361.08 L231.55,361.07 L231.80,361.06 L232.05,361.05 L232.30,361.03 L232.55,361.02 L232.80,360.99 L233.05,360.97 L233.30,360.94 L233.55,360.90 L233.80,360.85 L234.05,360.78 L234.30,360.70 L234.55,360.58 L234.80,360.41 L235.05,360.12 L235.30,359.50 L235.55,357.99 L235.80,354.62 L236.05,348.68 L236.30,341.23 L236.55,336.36 L236.80,338.64 L237.05,345.73 L237.30,352.55 L237.55,356.92 L237.80,359.04 L238.05,359.93 L238.30,360.31 L238.55,360.51 L238.80,360.64 L239.05,360.73 L239.30,360.80 L239.55,360.86 L239.80,360.90 L240.05,360.93 L240.30,360.96 L240.55,360.98 L240.80,361.00 L241.05,361.01 L241.30,361.02 L241.55,361.03 L241.80,361.04 L242.05,361.05 L242.30,361.05 L242.55,361.06 L242.80,361.06 L243.05,361.06 L243.30,361.07 L243.55,361.07 L243.80,361.07 L244.05,361.07 L244.30,361.07 L244.55,361.07 L244.80,361.07 L245.05,361.07 L245.30,361.06 L245.55,361.06 L245.80,361.06 L246.05,361.06 L246.30,361.05 L246.55,361.05 L246.80,361.04 L247.05,361.04 L247.30,361.03 L247.55,361.03 L247.80,361.02 L248.05,361.01 L248.30,361.01 L248.55,361.00 L248.80,360.99 L249.05,360.98 L249.30,360.96 L249.55,360.95 L249.80,360.93 L250.05,360.92 L250.30,360.90 L250.55,360.88 L250.80,360.86 L251.05,360.83 L251.30,360.80 L251.55,360.77 L251.80,360.73 L252.05,360.69 L252.30,360.64 L252.55,360.58 L252.80,360.52 L253.05,360.44 L253.30,360.34 L253.55,360.23 L253.80,360.09 L254.05,359.91 L254.30,359.69 L254.55,359.41 L254.80,359.02 L255.05,358.44 L255.30,357.39 L255.55,355.18 L255.80,350.50 L256.05,341.81 L256.30,328.88 L256.55,314.75 L256.80,306.20 L257.05,306.81 L257.30,309.23 L257.55,306.56 L257.80,301.20 L258.05,297.51 L258.30,291.21 L258.55,287.25 L258.80,299.61 L259.05,322.16 L259.30,340.81 L259.55,351.23 L259.80,355.72 L260.05,357.53 L260.30,358.42" fill="none" stroke="#0000ff" stroke-width="1.7" stroke-linejoin="round" clip-path="url(#ce)"/>
<rect x="21.8" y="263.2" width="239.2" height="98.80000000000001" fill="none" stroke="#858585" stroke-width="1.0"/>
<line x1="19.30" y1="361.50" x2="21.8" y2="361.50" stroke="#333" stroke-width="0.8"/>
<text x="18.3" y="364.42" fill="#111" font-size="8" text-anchor="end" font-weight="normal" stroke="#111" stroke-width="0.2" >0</text>
<line x1="19.30" y1="337.00" x2="21.8" y2="337.00" stroke="#333" stroke-width="0.8"/>
<text x="18.3" y="339.92" fill="#111" font-size="8" text-anchor="end" font-weight="normal" stroke="#111" stroke-width="0.2" >10</text>
<line x1="19.30" y1="312.50" x2="21.8" y2="312.50" stroke="#333" stroke-width="0.8"/>
<text x="18.3" y="315.42" fill="#111" font-size="8" text-anchor="end" font-weight="normal" stroke="#111" stroke-width="0.2" >20</text>
<line x1="19.30" y1="288.00" x2="21.8" y2="288.00" stroke="#333" stroke-width="0.8"/>
<text x="18.3" y="290.92" fill="#111" font-size="8" text-anchor="end" font-weight="normal" stroke="#111" stroke-width="0.2" >30</text>
<line x1="19.30" y1="263.50" x2="21.8" y2="263.50" stroke="#333" stroke-width="0.8"/>
<text x="18.3" y="266.42" fill="#111" font-size="8" text-anchor="end" font-weight="normal" stroke="#111" stroke-width="0.2" >40</text>
<line x1="20.30" y1="349.25" x2="21.8" y2="349.25" stroke="#555" stroke-width="0.6"/>
<line x1="20.30" y1="324.75" x2="21.8" y2="324.75" stroke="#555" stroke-width="0.6"/>
<line x1="20.30" y1="300.25" x2="21.8" y2="300.25" stroke="#555" stroke-width="0.6"/>
<line x1="20.30" y1="275.75" x2="21.8" y2="275.75" stroke="#555" stroke-width="0.6"/>
<line x1="23.00" y1="362" x2="23.00" y2="364.2" stroke="#777" stroke-width="0.7"/>
<text x="23" y="371.62" fill="#111" font-size="8" text-anchor="middle" font-weight="normal" stroke="#111" stroke-width="0.2" >440</text>
<line x1="50.12" y1="362" x2="50.12" y2="364.2" stroke="#777" stroke-width="0.7"/>
<text x="50.12" y="371.62" fill="#111" font-size="8" text-anchor="middle" font-weight="normal" stroke="#111" stroke-width="0.2" >450</text>
<line x1="77.25" y1="362" x2="77.25" y2="364.2" stroke="#777" stroke-width="0.7"/>
<text x="77.25" y="371.62" fill="#111" font-size="8" text-anchor="middle" font-weight="normal" stroke="#111" stroke-width="0.2" >460</text>
<line x1="104.38" y1="362" x2="104.38" y2="364.2" stroke="#777" stroke-width="0.7"/>
<text x="104.38" y="371.62" fill="#111" font-size="8" text-anchor="middle" font-weight="normal" stroke="#111" stroke-width="0.2" >470</text>
<line x1="131.50" y1="362" x2="131.50" y2="364.2" stroke="#777" stroke-width="0.7"/>
<text x="131.5" y="371.62" fill="#111" font-size="8" text-anchor="middle" font-weight="normal" stroke="#111" stroke-width="0.2" >480</text>
<line x1="158.62" y1="362" x2="158.62" y2="364.2" stroke="#777" stroke-width="0.7"/>
<text x="158.62" y="371.62" fill="#111" font-size="8" text-anchor="middle" font-weight="normal" stroke="#111" stroke-width="0.2" >490</text>
<line x1="185.75" y1="362" x2="185.75" y2="364.2" stroke="#777" stroke-width="0.7"/>
<text x="185.75" y="371.62" fill="#111" font-size="8" text-anchor="middle" font-weight="normal" stroke="#111" stroke-width="0.2" >500</text>
<line x1="212.88" y1="362" x2="212.88" y2="364.2" stroke="#777" stroke-width="0.7"/>
<text x="212.88" y="371.62" fill="#111" font-size="8" text-anchor="middle" font-weight="normal" stroke="#111" stroke-width="0.2" >510</text>
<line x1="240.00" y1="362" x2="240.00" y2="364.2" stroke="#777" stroke-width="0.7"/>
<text x="240" y="371.62" fill="#111" font-size="8" text-anchor="middle" font-weight="normal" stroke="#111" stroke-width="0.2" >520</text>
<text x="11.6" y="312" transform="rotate(-90 11.6 312)" fill="#111" font-size="8.5" text-anchor="middle">Mean normalization</text>
<text x="142.7" y="385.19" fill="#111" font-size="8.5" text-anchor="middle" font-weight="normal" stroke="#111" stroke-width="0.2" >Wavelength/nm</text>
<text x="47.9" y="276.3" fill="#111" font-size="8.5" text-anchor="start" font-weight="normal" stroke="#111" stroke-width="0.2" >(e)</text>
<text x="23.6" y="268.28" fill="#ff2a2a" font-size="7.3" text-anchor="start" font-weight="normal" stroke="#ff2a2a" stroke-width="0.2" >Ca 1</text>
<text x="23.6" y="276.98" fill="#ff2a2a" font-size="7.3" text-anchor="start" font-weight="normal" stroke="#ff2a2a" stroke-width="0.2" >443.4</text>
<text x="16" y="296.48" fill="#ff2a2a" font-size="7.3" text-anchor="start" font-weight="normal" stroke="#ff2a2a" stroke-width="0.2" >Ca 1</text>
<text x="16" y="305.38" fill="#ff2a2a" font-size="7.3" text-anchor="start" font-weight="normal" stroke="#ff2a2a" stroke-width="0.2" >442.5</text>
<text x="40.1" y="290.98" fill="#ff2a2a" font-size="7.3" text-anchor="start" font-weight="normal" stroke="#ff2a2a" stroke-width="0.2" >Ca 1</text>
<text x="40.1" y="299.58" fill="#ff2a2a" font-size="7.3" text-anchor="start" font-weight="normal" stroke="#ff2a2a" stroke-width="0.2" >445.4</text>
<text x="43.8" y="343.18" fill="#ff2a2a" font-size="7.3" text-anchor="start" font-weight="normal" stroke="#ff2a2a" stroke-width="0.2" >Ca 1</text>
<text x="43.8" y="352.08" fill="#ff2a2a" font-size="7.3" text-anchor="start" font-weight="normal" stroke="#ff2a2a" stroke-width="0.2" >452.6</text>
<text x="50" y="321.88" fill="#111" font-size="7.3" text-anchor="start" font-weight="normal" stroke="#111" stroke-width="0.2" >Ba 1</text>
<text x="50" y="330.98" fill="#111" font-size="7.3" text-anchor="start" font-weight="normal" stroke="#111" stroke-width="0.2" >455.4</text>
<text x="70" y="300.28" fill="#ff2a2a" font-size="7.3" text-anchor="start" font-weight="normal" stroke="#ff2a2a" stroke-width="0.2" >Ca 1</text>
<text x="70" y="309.58" fill="#ff2a2a" font-size="7.3" text-anchor="start" font-weight="normal" stroke="#ff2a2a" stroke-width="0.2" >457.8</text>
<text x="70" y="318.88" fill="#ff2a2a" font-size="7.3" text-anchor="start" font-weight="normal" stroke="#ff2a2a" stroke-width="0.2" >458.1</text>
<text x="70" y="328.18" fill="#ff2a2a" font-size="7.3" text-anchor="start" font-weight="normal" stroke="#ff2a2a" stroke-width="0.2" >458.5</text>
<text x="76.8" y="342.78" fill="#111" font-size="7.3" text-anchor="start" font-weight="normal" stroke="#111" stroke-width="0.2" >Sr 1</text>
<text x="76.8" y="351.88" fill="#111" font-size="7.3" text-anchor="start" font-weight="normal" stroke="#111" stroke-width="0.2" >460.7</text>
<text x="141.8" y="312.28" fill="#ff2a2a" font-size="7.3" text-anchor="start" font-weight="normal" stroke="#ff2a2a" stroke-width="0.2" >Ca 1</text>
<text x="141.8" y="321.48" fill="#ff2a2a" font-size="7.3" text-anchor="start" font-weight="normal" stroke="#ff2a2a" stroke-width="0.2" >487.8</text>
<text x="159.3" y="334.38" fill="#111" font-size="7.3" text-anchor="start" font-weight="normal" stroke="#111" stroke-width="0.2" >Ba 2</text>
<text x="159.3" y="343.48" fill="#111" font-size="7.3" text-anchor="start" font-weight="normal" stroke="#111" stroke-width="0.2" >493.4</text>
<text x="191.1" y="335.48" fill="#ff2a2a" font-size="7.3" text-anchor="start" font-weight="normal" stroke="#ff2a2a" stroke-width="0.2" >Ca 1</text>
<text x="191.1" y="344.98" fill="#ff2a2a" font-size="7.3" text-anchor="start" font-weight="normal" stroke="#ff2a2a" stroke-width="0.2" >504.1</text>
<text x="227.5" y="325.28" fill="#ff2a2a" font-size="7.3" text-anchor="start" font-weight="normal" stroke="#ff2a2a" stroke-width="0.2" >Ca 1</text>
<text x="227.5" y="334.38" fill="#ff2a2a" font-size="7.3" text-anchor="start" font-weight="normal" stroke="#ff2a2a" stroke-width="0.2" >518.8</text>
<text x="237.7" y="278.18" fill="#ff2a2a" font-size="7.3" text-anchor="start" font-weight="normal" stroke="#ff2a2a" stroke-width="0.2" >Ca 1</text>
<text x="237.7" y="287.45" fill="#ff2a2a" font-size="7.3" text-anchor="start" font-weight="normal" stroke="#ff2a2a" stroke-width="0.2" >526.2</text>
<text x="237.7" y="296.72" fill="#ff2a2a" font-size="7.3" text-anchor="start" font-weight="normal" stroke="#ff2a2a" stroke-width="0.2" >526.5</text>
<text x="237.7" y="305.99" fill="#ff2a2a" font-size="7.3" text-anchor="start" font-weight="normal" stroke="#ff2a2a" stroke-width="0.2" >527.0</text>
<line x1="64.50" y1="360.00" x2="62.32" y2="336.49" stroke="#111" stroke-width="1.0"/>
<polygon points="62.00,333.00 63.92,336.34 60.73,336.63" fill="#111"/>
<line x1="167.50" y1="361.00" x2="165.62" y2="350.45" stroke="#111" stroke-width="1.0"/>
<polygon points="165.00,347.00 167.19,350.16 164.04,350.73" fill="#111"/>
<rect x="298.5" y="264.5" width="239.0" height="98.5" fill="#c3c3c3"/>
<rect x="299.4" y="346.5" width="33.5" height="16.5" fill="#ffff00"/>
<rect x="342.5" y="351.8" width="23.600000000000023" height="11.199999999999989" fill="#ffff00"/>
<rect x="416.5" y="350.5" width="23.30000000000001" height="12.5" fill="#ffff00"/>
<rect x="459.4" y="336" width="26.5" height="27" fill="#ffff00"/>
<rect x="511.5" y="353.7" width="25.200000000000045" height="9.300000000000011" fill="#ffff00"/>
<clipPath id="cf"><rect x="298.5" y="264.5" width="239.0" height="98.5"/></clipPath>
<path d="M299.00,361.19 L299.20,361.19 L299.40,361.19 L299.60,361.18 L299.80,361.18 L300.00,361.18 L300.20,361.18 L300.40,361.18 L300.60,361.18 L300.80,361.18 L301.00,360.88 L301.20,360.57 L301.40,360.27 L301.60,359.96 L301.80,358.34 L302.00,356.72 L302.20,355.10 L302.40,353.47 L302.60,352.21 L302.80,351.29 L303.00,350.38 L303.20,349.47 L303.40,349.12 L303.60,349.33 L303.80,349.55 L304.00,349.77 L304.20,349.98 L304.40,350.59 L304.60,351.20 L304.80,351.80 L305.00,352.41 L305.20,352.26 L305.40,352.12 L305.60,351.97 L305.80,351.82 L306.00,351.67 L306.20,351.48 L306.40,351.28 L306.60,351.08 L306.80,350.89 L307.00,350.69 L307.20,351.03 L307.40,351.37 L307.60,351.71 L307.80,352.04 L308.00,352.38 L308.20,352.23 L308.40,352.08 L308.60,351.93 L308.80,351.78 L309.00,351.63 L309.20,351.54 L309.40,351.46 L309.60,351.37 L309.80,351.28 L310.00,351.19 L310.20,351.10 L310.40,351.33 L310.60,351.56 L310.80,351.79 L311.00,352.02 L311.20,352.25 L311.40,352.40 L311.60,352.55 L311.80,352.70 L312.00,352.84 L312.20,352.97 L312.40,353.15 L312.60,353.37 L312.80,353.57 L313.00,353.74 L313.20,353.87 L313.40,353.86 L313.60,353.64 L313.80,353.02 L314.00,351.31 L314.20,347.25 L314.40,339.71 L314.60,329.26 L314.80,320.50 L315.00,320.76 L315.20,330.04 L315.40,341.02 L315.60,349.08 L315.80,353.56 L316.00,355.69 L316.20,356.74 L316.40,357.38 L316.60,357.87 L316.80,358.29 L317.00,358.67 L317.20,358.86 L317.40,359.03 L317.60,359.19 L317.80,359.33 L318.00,359.46 L318.20,359.59 L318.40,359.72 L318.60,359.84 L318.80,359.95 L319.00,360.06 L319.20,360.12 L319.40,360.16 L319.60,360.21 L319.80,360.26 L320.00,360.30 L320.20,360.35 L320.40,360.39 L320.60,360.43 L320.80,360.47 L321.00,360.51 L321.20,360.55 L321.40,360.60 L321.60,360.64 L321.80,360.67 L322.00,360.71 L322.20,360.75 L322.40,360.79 L322.60,360.83 L322.80,360.87 L323.00,360.91 L323.20,360.92 L323.40,360.93 L323.60,360.93 L323.80,360.94 L324.00,360.95 L324.20,360.96 L324.40,360.97 L324.60,360.98 L324.80,360.98 L325.00,360.99 L325.20,361.00 L325.40,361.01 L325.60,361.02 L325.80,361.02 L326.00,361.03 L326.20,361.04 L326.40,361.05 L326.60,361.05 L326.80,361.06 L327.00,361.07 L327.20,361.08 L327.40,361.08 L327.60,361.09 L327.80,361.10 L328.00,361.11 L328.20,361.11 L328.40,361.12 L328.60,361.13 L328.80,361.13 L329.00,361.14 L329.20,361.15 L329.40,361.16 L329.60,361.16 L329.80,361.17 L330.00,361.18 L330.20,361.18 L330.40,361.18 L330.60,361.18 L330.80,361.18 L331.00,361.18 L331.20,361.18 L331.40,361.18 L331.60,361.18 L331.80,361.18 L332.00,361.18 L332.20,361.18 L332.40,361.18 L332.60,361.18 L332.80,361.18 L333.00,361.18 L333.20,361.18 L333.40,361.18 L333.60,361.18 L333.80,361.18 L334.00,361.18 L334.20,361.18 L334.40,361.18 L334.60,361.18 L334.80,361.18 L335.00,361.18 L335.20,361.18 L335.40,361.18 L335.60,361.18 L335.80,361.18 L336.00,361.18 L336.20,361.18 L336.40,361.18 L336.60,361.18 L336.80,361.18 L337.00,361.18 L337.20,361.18 L337.40,361.18 L337.60,361.18 L337.80,361.18 L338.00,361.18 L338.20,361.18 L338.40,361.18 L338.60,361.18 L338.80,361.18 L339.00,361.18 L339.20,361.18 L339.40,361.18 L339.60,361.18 L339.80,361.18 L340.00,361.18 L340.20,361.18 L340.40,361.18 L340.60,361.18 L340.80,361.18 L341.00,361.18 L341.20,361.08 L341.40,360.98 L341.60,360.88 L341.80,360.78 L342.00,360.69 L342.20,360.59 L342.40,360.49 L342.60,360.39 L342.80,360.30 L343.00,360.20 L343.20,360.10 L343.40,360.00 L343.60,359.91 L343.80,359.81 L344.00,359.71 L344.20,359.61 L344.40,359.51 L344.60,359.42 L344.80,359.32 L345.00,359.22 L345.20,358.81 L345.40,358.40 L345.60,357.98 L345.80,357.57 L346.00,357.16 L346.20,356.74 L346.40,356.72 L346.60,357.08 L346.80,357.45 L347.00,357.81 L347.20,358.18 L347.40,358.54 L347.60,358.68 L347.80,358.61 L348.00,358.53 L348.20,358.46 L348.40,358.38 L348.60,358.31 L348.80,358.23 L349.00,358.16 L349.20,358.08 L349.40,358.00 L349.60,357.97 L349.80,357.99 L350.00,358.01 L350.20,358.03 L350.40,358.05 L350.60,358.06 L350.80,358.07 L351.00,358.08 L351.20,358.09 L351.40,358.09 L351.60,358.09 L351.80,358.08 L352.00,358.05 L352.20,357.99 L352.40,357.83 L352.60,357.41 L352.80,356.44 L353.00,354.63 L353.20,352.13 L353.40,350.02 L353.60,350.05 L353.80,352.21 L354.00,354.76 L354.20,356.63 L354.40,357.66 L354.60,358.12 L354.80,358.34 L355.00,358.45 L355.20,358.56 L355.40,358.64 L355.60,358.72 L355.80,358.79 L356.00,358.85 L356.20,358.91 L356.40,358.97 L356.60,359.02 L356.80,359.08 L357.00,359.13 L357.20,358.83 L357.40,358.54 L357.60,358.24 L357.80,357.94 L358.00,357.64 L358.20,357.34 L358.40,357.38 L358.60,357.74 L358.80,358.10 L359.00,358.47 L359.20,358.83 L359.40,359.19 L359.60,359.35 L359.80,359.31 L360.00,359.27 L360.20,359.23 L360.40,359.19 L360.60,359.14 L360.80,359.10 L361.00,359.06 L361.20,359.01 L361.40,358.97 L361.60,358.92 L361.80,358.88 L362.00,358.83 L362.20,358.92 L362.40,359.01 L362.60,359.10 L362.80,359.19 L363.00,359.28 L363.20,359.37 L363.40,359.45 L363.60,359.54 L363.80,359.62 L364.00,359.70 L364.20,359.79 L364.40,359.87 L364.60,359.94 L364.80,360.02 L365.00,360.09 L365.20,360.17 L365.40,360.23 L365.60,360.30 L365.80,360.36 L366.00,360.42 L366.20,360.40 L366.40,360.38 L366.60,360.35 L366.80,360.31 L367.00,360.26 L367.20,360.19 L367.40,360.10 L367.60,359.96 L367.80,359.78 L368.00,359.54 L368.20,359.22 L368.40,358.80 L368.60,358.15 L368.80,356.91 L369.00,353.92 L369.20,346.77 L369.40,333.27 L369.60,315.97 L369.80,306.20 L370.00,313.30 L370.20,325.26 L370.40,325.55 L370.60,307.41 L370.80,282.00 L371.00,277.05 L371.20,289.48 L371.40,292.07 L371.60,289.20 L371.80,297.57 L372.00,303.43 L372.20,299.16 L372.40,300.69 L372.60,309.04 L372.80,309.02 L373.00,306.20 L373.20,313.68 L373.40,320.52 L373.60,319.53 L373.80,320.98 L374.00,328.05 L374.20,333.70 L374.40,339.20 L374.60,346.34 L374.80,352.55 L375.00,356.38 L375.20,358.22 L375.40,359.04 L375.60,359.47 L375.80,359.75 L376.00,359.95 L376.20,360.12 L376.40,360.24 L376.60,360.35 L376.80,360.44 L377.00,360.51 L377.20,360.57 L377.40,360.63 L377.60,360.67 L377.80,360.71 L378.00,360.75 L378.20,360.78 L378.40,360.81 L378.60,360.84 L378.80,360.86 L379.00,360.88 L379.20,360.90 L379.40,360.92 L379.60,360.93 L379.80,360.95 L380.00,360.96 L380.20,360.97 L380.40,360.98 L380.60,360.99 L380.80,361.00 L381.00,361.01 L381.20,361.02 L381.40,361.03 L381.60,361.03 L381.80,361.04 L382.00,361.05 L382.20,361.05 L382.40,361.06 L382.60,361.06 L382.80,361.07 L383.00,361.07 L383.20,361.08 L383.40,361.08 L383.60,361.09 L383.80,361.09 L384.00,361.09 L384.20,361.10 L384.40,361.10 L384.60,361.10 L384.80,361.11 L385.00,361.11 L385.20,361.11 L385.40,361.11 L385.60,361.12 L385.80,361.12 L386.00,361.12 L386.20,361.12 L386.40,361.12 L386.60,361.13 L386.80,361.13 L387.00,361.13 L387.20,361.13 L387.40,361.13 L387.60,361.14 L387.80,361.14 L388.00,361.14 L388.20,361.14 L388.40,361.14 L388.60,361.14 L388.80,361.14 L389.00,361.14 L389.20,361.15 L389.40,361.15 L389.60,361.15 L389.80,361.15 L390.00,361.15 L390.20,361.15 L390.40,361.15 L390.60,361.15 L390.80,361.15 L391.00,361.15 L391.20,361.16 L391.40,361.16 L391.60,361.16 L391.80,361.16 L392.00,361.16 L392.20,361.16 L392.40,361.16 L392.60,361.16 L392.80,361.16 L393.00,361.16 L393.20,361.16 L393.40,361.16 L393.60,361.16 L393.80,361.16 L394.00,361.16 L394.20,361.16 L394.40,361.17 L394.60,361.17 L394.80,361.17 L395.00,361.17 L395.20,361.17 L395.40,361.17 L395.60,361.17 L395.80,361.17 L396.00,361.17 L396.20,361.17 L396.40,361.17 L396.60,361.17 L396.80,361.17 L397.00,361.17 L397.20,361.17 L397.40,361.17 L397.60,361.17 L397.80,361.17 L398.00,361.17 L398.20,361.17 L398.40,361.17 L398.60,361.17 L398.80,361.17 L399.00,361.17 L399.20,361.17 L399.40,361.17 L399.60,361.17 L399.80,361.17 L400.00,361.17 L400.20,361.17 L400.40,361.18 L400.60,361.18 L400.80,361.18 L401.00,361.18 L401.20,361.18 L401.40,361.18 L401.60,361.18 L401.80,361.18 L402.00,361.18 L402.20,361.18 L402.40,361.18 L402.60,361.18 L402.80,361.18 L403.00,361.18 L403.20,361.18 L403.40,361.18 L403.60,361.18 L403.80,361.18 L404.00,361.18 L404.20,361.18 L404.40,361.18 L404.60,361.18 L404.80,361.18 L405.00,361.18 L405.20,361.18 L405.40,361.18 L405.60,361.18 L405.80,361.18 L406.00,361.18 L406.20,361.18 L406.40,361.18 L406.60,361.18 L406.80,361.18 L407.00,361.18 L407.20,361.18 L407.40,361.18 L407.60,361.18 L407.80,361.18 L408.00,361.18 L408.20,361.18 L408.40,361.18 L408.60,361.18 L408.80,361.18 L409.00,361.18 L409.20,361.18 L409.40,361.18 L409.60,361.18 L409.80,361.18 L410.00,361.18 L410.20,361.18 L410.40,361.18 L410.60,361.18 L410.80,361.18 L411.00,361.18 L411.20,361.18 L411.40,361.18 L411.60,361.18 L411.80,361.18 L412.00,361.18 L412.20,361.18 L412.40,361.18 L412.60,361.18 L412.80,361.18 L413.00,361.18 L413.20,361.18 L413.40,361.18 L413.60,361.18 L413.80,361.18 L414.00,361.18 L414.20,361.08 L414.40,360.98 L414.60,360.88 L414.80,360.79 L415.00,360.69 L415.20,360.59 L415.40,360.49 L415.60,360.40 L415.80,360.30 L416.00,360.20 L416.20,360.01 L416.40,359.81 L416.60,359.62 L416.80,359.42 L417.00,359.23 L417.20,359.03 L417.40,358.84 L417.60,358.64 L417.80,358.45 L418.00,358.25 L418.20,358.06 L418.40,357.86 L418.60,357.67 L418.80,357.47 L419.00,357.28 L419.20,357.08 L419.40,356.89 L419.60,356.69 L419.80,356.50 L420.00,356.30 L420.20,356.20 L420.40,356.11 L420.60,356.01 L420.80,355.91 L421.00,355.81 L421.20,355.71 L421.40,355.62 L421.60,355.52 L421.80,355.42 L422.00,355.32 L422.20,355.05 L422.40,354.77 L422.60,354.50 L422.80,354.23 L423.00,353.95 L423.20,353.68 L423.40,353.41 L423.60,353.13 L423.80,352.86 L424.00,352.58 L424.20,352.31 L424.40,352.03 L424.60,351.80 L424.80,351.60 L425.00,351.41 L425.20,351.21 L425.40,351.01 L425.60,350.81 L425.80,350.62 L426.00,350.42 L426.20,350.64 L426.40,350.87 L426.60,351.09 L426.80,351.31 L427.00,351.53 L427.20,351.76 L427.40,351.98 L427.60,352.04 L427.80,351.93 L428.00,351.83 L428.20,351.72 L428.40,351.62 L428.60,351.51 L428.80,351.40 L429.00,351.29 L429.20,351.52 L429.40,351.74 L429.60,351.96 L429.80,352.18 L430.00,352.40 L430.20,352.61 L430.40,352.81 L430.60,353.01 L430.80,353.19 L431.00,353.36 L431.20,353.59 L431.40,353.80 L431.60,353.96 L431.80,354.06 L432.00,354.07 L432.20,353.88 L432.40,353.11 L432.60,350.47 L432.80,343.48 L433.00,330.02 L433.20,312.80 L433.40,303.70 L433.60,312.99 L433.80,330.40 L434.00,344.04 L434.20,351.23 L434.40,354.17 L434.60,355.36 L434.80,355.97 L435.00,356.37 L435.20,356.69 L435.40,356.94 L435.60,357.14 L435.80,357.30 L436.00,357.44 L436.20,357.57 L436.40,357.69 L436.60,357.79 L436.80,357.89 L437.00,357.98 L437.20,358.07 L437.40,358.15 L437.60,358.22 L437.80,358.29 L438.00,358.35 L438.20,358.40 L438.40,358.45 L438.60,358.48 L438.80,358.50 L439.00,358.50 L439.20,358.47 L439.40,358.40 L439.60,358.27 L439.80,358.01 L440.00,357.38 L440.20,355.65 L440.40,351.25 L440.60,342.79 L440.80,331.97 L441.00,326.20 L441.20,331.90 L441.40,342.62 L441.60,350.82 L441.80,354.46 L442.00,354.01 L442.20,349.61 L442.40,341.79 L442.60,334.37 L442.80,334.59 L443.00,342.46 L443.20,350.80 L443.40,356.04 L443.60,358.44 L443.80,359.39 L444.00,359.82 L444.20,360.07 L444.40,360.26 L444.60,360.40 L444.80,360.52 L445.00,360.62 L445.20,360.70 L445.40,360.78 L445.60,360.85 L445.80,360.91 L446.00,360.96 L446.20,360.98 L446.40,361.00 L446.60,361.02 L446.80,361.03 L447.00,361.04 L447.20,361.05 L447.40,361.06 L447.60,361.07 L447.80,361.08 L448.00,361.09 L448.20,361.09 L448.40,361.10 L448.60,361.10 L448.80,361.11 L449.00,361.11 L449.20,361.07 L449.40,361.02 L449.60,360.98 L449.80,360.93 L450.00,360.89 L450.20,360.84 L450.40,360.79 L450.60,360.75 L450.80,360.70 L451.00,360.65 L451.20,360.61 L451.40,360.56 L451.60,360.51 L451.80,360.47 L452.00,360.42 L452.20,360.31 L452.40,360.20 L452.60,360.10 L452.80,359.99 L453.00,359.88 L453.20,359.77 L453.40,359.66 L453.60,359.55 L453.80,359.44 L454.00,359.34 L454.20,359.23 L454.40,359.12 L454.60,359.01 L454.80,358.90 L455.00,358.79 L455.20,358.68 L455.40,358.57 L455.60,358.47 L455.80,358.36 L456.00,358.25 L456.20,358.05 L456.40,357.86 L456.60,357.67 L456.80,357.47 L457.00,357.28 L457.20,357.08 L457.40,356.89 L457.60,356.69 L457.80,356.50 L458.00,356.31 L458.20,356.11 L458.40,355.92 L458.60,355.72 L458.80,355.53 L459.00,355.33 L459.20,355.14 L459.40,354.95 L459.60,354.75 L459.80,354.56 L460.00,354.36 L460.20,354.09 L460.40,353.82 L460.60,353.54 L460.80,353.27 L461.00,353.00 L461.20,352.73 L461.40,352.46 L461.60,352.18 L461.80,351.91 L462.00,351.64 L462.20,351.37 L462.40,351.09 L462.60,350.82 L462.80,350.55 L463.00,350.28 L463.20,350.00 L463.40,349.73 L463.60,349.46 L463.80,349.19 L464.00,348.91 L464.20,348.64 L464.40,348.37 L464.60,348.10 L464.80,347.82 L465.00,347.55 L465.20,347.26 L465.40,346.97 L465.60,346.68 L465.80,346.38 L466.00,346.09 L466.20,345.80 L466.40,345.51 L466.60,345.22 L466.80,344.92 L467.00,344.63 L467.20,344.34 L467.40,344.05 L467.60,343.76 L467.80,343.46 L468.00,343.17 L468.20,342.88 L468.40,342.59 L468.60,342.29 L468.80,342.00 L469.00,341.71 L469.20,341.49 L469.40,341.27 L469.60,341.05 L469.80,340.83 L470.00,340.60 L470.20,340.38 L470.40,340.16 L470.60,339.94 L470.80,339.72 L471.00,339.50 L471.20,339.28 L471.40,339.26 L471.60,339.25 L471.80,339.24 L472.00,339.22 L472.20,339.21 L472.40,339.20 L472.60,339.18 L472.80,339.17 L473.00,339.16 L473.20,339.14 L473.40,339.13 L473.60,339.12 L473.80,339.11 L474.00,339.09 L474.20,339.08 L474.40,339.07 L474.60,339.05 L474.80,339.04 L475.00,339.03 L475.20,339.48 L475.40,339.93 L475.60,340.38 L475.80,340.83 L476.00,341.28 L476.20,341.73 L476.40,342.18 L476.60,341.88 L476.80,341.58 L477.00,341.27 L477.20,340.97 L477.40,340.66 L477.60,340.36 L477.80,340.05 L478.00,339.75 L478.20,339.98 L478.40,340.21 L478.60,340.44 L478.80,340.68 L479.00,340.91 L479.20,341.14 L479.40,341.37 L479.60,341.61 L479.80,341.84 L480.00,342.07 L480.20,342.30 L480.40,342.54 L480.60,342.89 L480.80,343.38 L481.00,343.86 L481.20,344.35 L481.40,344.83 L481.60,345.32 L481.80,345.80 L482.00,346.29 L482.20,346.77 L482.40,347.26 L482.60,347.86 L482.80,348.57 L483.00,349.29 L483.20,350.01 L483.40,350.72 L483.60,351.44 L483.80,352.15 L484.00,352.87 L484.20,353.58 L484.40,354.30 L484.60,355.01 L484.80,355.73 L485.00,356.07 L485.20,356.42 L485.40,356.77 L485.60,357.11 L485.80,357.46 L486.00,357.80 L486.20,358.15 L486.40,358.49 L486.60,358.83 L486.80,359.17 L487.00,359.51 L487.20,359.59 L487.40,359.66 L487.60,359.74 L487.80,359.80 L488.00,359.87 L488.20,359.93 L488.40,359.98 L488.60,360.02 L488.80,360.04 L489.00,360.05 L489.20,360.04 L489.40,359.98 L489.60,359.87 L489.80,359.62 L490.00,359.04 L490.20,357.57 L490.40,354.50 L490.60,349.03 L490.80,341.28 L491.00,333.36 L491.20,329.70 L491.40,333.32 L491.60,341.20 L491.80,348.90 L492.00,354.32 L492.20,357.34 L492.40,358.76 L492.60,359.37 L492.80,359.63 L493.00,359.75 L493.20,359.78 L493.40,359.75 L493.60,359.65 L493.80,359.47 L494.00,359.14 L494.20,358.51 L494.40,357.10 L494.60,353.98 L494.80,347.87 L495.00,338.06 L495.20,325.99 L495.40,316.62 L495.60,316.63 L495.80,326.03 L496.00,338.11 L496.20,347.94 L496.40,354.08 L496.60,357.23 L496.80,358.68 L497.00,359.36 L497.20,359.73 L497.40,359.98 L497.60,360.16 L497.80,360.29 L498.00,360.40 L498.20,360.48 L498.40,360.54 L498.60,360.59 L498.80,360.63 L499.00,360.66 L499.20,360.69 L499.40,360.71 L499.60,360.72 L499.80,360.73 L500.00,360.73 L500.20,360.73 L500.40,360.73 L500.60,360.72 L500.80,360.71 L501.00,360.69 L501.20,360.66 L501.40,360.63 L501.60,360.60 L501.80,360.55 L502.00,360.49 L502.20,360.43 L502.40,360.34 L502.60,360.24 L502.80,360.10 L503.00,359.93 L503.20,359.71 L503.40,359.40 L503.60,358.95 L503.80,358.14 L504.00,356.46 L504.20,352.84 L504.40,345.82 L504.60,334.59 L504.80,320.78 L505.00,309.96 L505.20,309.63 L505.40,319.60 L505.60,331.85 L505.80,339.98 L506.00,341.59 L506.20,337.59 L506.40,331.49 L506.60,328.70 L506.80,332.69 L507.00,340.70 L507.20,348.47 L507.40,353.96 L507.60,357.08 L507.80,358.61 L508.00,359.34 L508.20,359.65 L508.40,359.83 L508.60,359.93 L508.80,359.99 L509.00,360.02 L509.20,360.03 L509.40,360.03 L509.60,360.01 L509.80,359.98 L510.00,359.95 L510.20,359.90 L510.40,359.86 L510.60,359.81 L510.80,359.75 L511.00,359.69 L511.20,359.65 L511.40,359.60 L511.60,359.55 L511.80,359.50 L512.00,359.45 L512.20,359.40 L512.40,359.34 L512.60,359.29 L512.80,359.23 L513.00,359.18 L513.20,359.12 L513.40,359.06 L513.60,359.00 L513.80,358.94 L514.00,358.89 L514.20,358.84 L514.40,358.80 L514.60,358.75 L514.80,358.71 L515.00,358.67 L515.20,358.62 L515.40,358.58 L515.60,358.53 L515.80,358.49 L516.00,358.44 L516.20,358.39 L516.40,358.35 L516.60,358.30 L516.80,358.26 L517.00,358.21 L517.20,358.19 L517.40,358.16 L517.60,358.14 L517.80,358.12 L518.00,358.10 L518.20,358.07 L518.40,358.05 L518.60,358.03 L518.80,358.01 L519.00,357.98 L519.20,357.96 L519.40,357.94 L519.60,357.91 L519.80,357.89 L520.00,357.87 L520.20,357.86 L520.40,357.85 L520.60,357.85 L520.80,357.84 L521.00,357.83 L521.20,357.83 L521.40,357.82 L521.60,357.81 L521.80,357.80 L522.00,357.80 L522.20,357.79 L522.40,357.78 L522.60,357.77 L522.80,357.77 L523.00,357.76 L523.20,357.78 L523.40,357.79 L523.60,357.81 L523.80,357.83 L524.00,357.84 L524.20,357.86 L524.40,357.88 L524.60,357.89 L524.80,357.91 L525.00,357.93 L525.20,357.94 L525.40,357.96 L525.60,357.98 L525.80,357.99 L526.00,358.01 L526.20,358.04 L526.40,358.08 L526.60,358.11 L526.80,358.14 L527.00,358.18 L527.20,358.21 L527.40,358.24 L527.60,358.27 L527.80,358.31 L528.00,358.34 L528.20,358.37 L528.40,358.41 L528.60,358.44 L528.80,358.47 L529.00,358.50 L529.20,358.55 L529.40,358.60 L529.60,358.65 L529.80,358.70 L530.00,358.75 L530.20,358.80 L530.40,358.85 L530.60,358.89 L530.80,358.94 L531.00,358.99 L531.20,359.04 L531.40,359.09 L531.60,359.14 L531.80,359.19 L532.00,359.24 L532.20,359.29 L532.40,359.35 L532.60,359.41 L532.80,359.47 L533.00,359.52 L533.20,359.58 L533.40,359.64 L533.60,359.69 L533.80,359.75 L534.00,359.81 L534.20,359.86 L534.40,359.92 L534.60,359.98 L534.80,360.03 L535.00,360.09 L535.20,360.12 L535.40,360.14 L535.60,360.16 L535.80,360.19 L536.00,360.21 L536.20,360.24 L536.40,360.26 L536.60,360.29 L536.80,360.31 L537.00,360.34" fill="none" stroke="#0000ff" stroke-width="1.6" stroke-linejoin="round" clip-path="url(#cf)"/>
<rect x="298.5" y="264.5" width="239.0" height="98.5" fill="none" stroke="#858585" stroke-width="1.0"/>
<line x1="296.00" y1="361.50" x2="298.5" y2="361.50" stroke="#333" stroke-width="0.8"/>
<text x="295" y="364.42" fill="#111" font-size="8" text-anchor="end" font-weight="normal" stroke="#111" stroke-width="0.2" >0</text>
<line x1="296.00" y1="349.33" x2="298.5" y2="349.33" stroke="#333" stroke-width="0.8"/>
<text x="295" y="352.25" fill="#111" font-size="8" text-anchor="end" font-weight="normal" stroke="#111" stroke-width="0.2" >5</text>
<line x1="296.00" y1="337.17" x2="298.5" y2="337.17" stroke="#333" stroke-width="0.8"/>
<text x="295" y="340.09" fill="#111" font-size="8" text-anchor="end" font-weight="normal" stroke="#111" stroke-width="0.2" >10</text>
<line x1="296.00" y1="325.00" x2="298.5" y2="325.00" stroke="#333" stroke-width="0.8"/>
<text x="295" y="327.93" fill="#111" font-size="8" text-anchor="end" font-weight="normal" stroke="#111" stroke-width="0.2" >15</text>
<line x1="296.00" y1="312.84" x2="298.5" y2="312.84" stroke="#333" stroke-width="0.8"/>
<text x="295" y="315.76" fill="#111" font-size="8" text-anchor="end" font-weight="normal" stroke="#111" stroke-width="0.2" >20</text>
<line x1="296.00" y1="300.68" x2="298.5" y2="300.68" stroke="#333" stroke-width="0.8"/>
<text x="295" y="303.6" fill="#111" font-size="8" text-anchor="end" font-weight="normal" stroke="#111" stroke-width="0.2" >25</text>
<line x1="296.00" y1="288.51" x2="298.5" y2="288.51" stroke="#333" stroke-width="0.8"/>
<text x="295" y="291.43" fill="#111" font-size="8" text-anchor="end" font-weight="normal" stroke="#111" stroke-width="0.2" >30</text>
<line x1="296.00" y1="276.35" x2="298.5" y2="276.35" stroke="#333" stroke-width="0.8"/>
<text x="295" y="279.27" fill="#111" font-size="8" text-anchor="end" font-weight="normal" stroke="#111" stroke-width="0.2" >35</text>
<line x1="296.00" y1="264.18" x2="298.5" y2="264.18" stroke="#333" stroke-width="0.8"/>
<text x="295" y="267.1" fill="#111" font-size="8" text-anchor="end" font-weight="normal" stroke="#111" stroke-width="0.2" >40</text>
<line x1="297.00" y1="355.42" x2="298.5" y2="355.42" stroke="#555" stroke-width="0.6"/>
<line x1="297.00" y1="343.25" x2="298.5" y2="343.25" stroke="#555" stroke-width="0.6"/>
<line x1="297.00" y1="331.09" x2="298.5" y2="331.09" stroke="#555" stroke-width="0.6"/>
<line x1="297.00" y1="318.92" x2="298.5" y2="318.92" stroke="#555" stroke-width="0.6"/>
<line x1="297.00" y1="306.76" x2="298.5" y2="306.76" stroke="#555" stroke-width="0.6"/>
<line x1="297.00" y1="294.59" x2="298.5" y2="294.59" stroke="#555" stroke-width="0.6"/>
<line x1="297.00" y1="282.43" x2="298.5" y2="282.43" stroke="#555" stroke-width="0.6"/>
<line x1="297.00" y1="270.26" x2="298.5" y2="270.26" stroke="#555" stroke-width="0.6"/>
<line x1="302.60" y1="363" x2="302.60" y2="365.2" stroke="#777" stroke-width="0.7"/>
<text x="302.6" y="372.62" fill="#111" font-size="8" text-anchor="middle" font-weight="normal" stroke="#111" stroke-width="0.2" >530</text>
<line x1="326.04" y1="363" x2="326.04" y2="365.2" stroke="#777" stroke-width="0.7"/>
<text x="326.04" y="372.62" fill="#111" font-size="8" text-anchor="middle" font-weight="normal" stroke="#111" stroke-width="0.2" >540</text>
<line x1="349.48" y1="363" x2="349.48" y2="365.2" stroke="#777" stroke-width="0.7"/>
<text x="349.48" y="372.62" fill="#111" font-size="8" text-anchor="middle" font-weight="normal" stroke="#111" stroke-width="0.2" >550</text>
<line x1="372.92" y1="363" x2="372.92" y2="365.2" stroke="#777" stroke-width="0.7"/>
<text x="372.92" y="372.62" fill="#111" font-size="8" text-anchor="middle" font-weight="normal" stroke="#111" stroke-width="0.2" >560</text>
<line x1="396.36" y1="363" x2="396.36" y2="365.2" stroke="#777" stroke-width="0.7"/>
<text x="396.36" y="372.62" fill="#111" font-size="8" text-anchor="middle" font-weight="normal" stroke="#111" stroke-width="0.2" >570</text>
<line x1="419.80" y1="363" x2="419.80" y2="365.2" stroke="#777" stroke-width="0.7"/>
<text x="419.8" y="372.62" fill="#111" font-size="8" text-anchor="middle" font-weight="normal" stroke="#111" stroke-width="0.2" >580</text>
<line x1="443.24" y1="363" x2="443.24" y2="365.2" stroke="#777" stroke-width="0.7"/>
<text x="443.24" y="372.62" fill="#111" font-size="8" text-anchor="middle" font-weight="normal" stroke="#111" stroke-width="0.2" >590</text>
<line x1="466.68" y1="363" x2="466.68" y2="365.2" stroke="#777" stroke-width="0.7"/>
<text x="466.68" y="372.62" fill="#111" font-size="8" text-anchor="middle" font-weight="normal" stroke="#111" stroke-width="0.2" >600</text>
<line x1="490.12" y1="363" x2="490.12" y2="365.2" stroke="#777" stroke-width="0.7"/>
<text x="490.12" y="372.62" fill="#111" font-size="8" text-anchor="middle" font-weight="normal" stroke="#111" stroke-width="0.2" >610</text>
<line x1="513.56" y1="363" x2="513.56" y2="365.2" stroke="#777" stroke-width="0.7"/>
<text x="513.56" y="372.62" fill="#111" font-size="8" text-anchor="middle" font-weight="normal" stroke="#111" stroke-width="0.2" >620</text>
<line x1="537.00" y1="363" x2="537.00" y2="365.2" stroke="#777" stroke-width="0.7"/>
<text x="537" y="372.62" fill="#111" font-size="8" text-anchor="middle" font-weight="normal" stroke="#111" stroke-width="0.2" >630</text>
<text x="284.8" y="312" transform="rotate(-90 284.8 312)" fill="#111" font-size="8.5" text-anchor="middle">Mean normalization</text>
<text x="418" y="383.89" fill="#111" font-size="8.5" text-anchor="middle" font-weight="normal" stroke="#111" stroke-width="0.2" >Wavelength/nm</text>
<text x="304.6" y="273.3" fill="#111" font-size="8.5" text-anchor="start" font-weight="normal" stroke="#111" stroke-width="0.2" >(f)</text>
<text x="0" y="0" fill="#111" font-size="7.5" text-anchor="start" font-weight="bold" stroke="#111" stroke-width="0.42" transform="translate(299.40,282.45) scale(0.93,1)">CaF system</text>
<text x="0" y="0" fill="#111" font-size="7.5" text-anchor="start" font-weight="bold" stroke="#111" stroke-width="0.42" transform="translate(299.40,290.35) scale(0.93,1)">532 nm</text>
<text x="299.4" y="300.8" fill="#111" font-size="7.5" text-anchor="start" font-weight="bold" stroke="#111" stroke-width="0.42" >B<tspan font-size="4.6" dy="-3">2</tspan><tspan dy="3">Σ–X</tspan><tspan font-size="4.6" dy="-3">2</tspan><tspan dy="3">Σ</tspan><tspan font-size="4.6" dy="-3">+</tspan></text>
<text x="0" y="0" fill="#ff2a2a" font-size="7.4" text-anchor="start" font-weight="normal" stroke="#ff2a2a" stroke-width="0.2" transform="translate(311.30,308.32) scale(0.93,1)">Ca 1</text>
<text x="0" y="0" fill="#ff2a2a" font-size="7.4" text-anchor="start" font-weight="normal" stroke="#ff2a2a" stroke-width="0.2" transform="translate(311.30,318.02) scale(0.93,1)">534.9</text>
<text x="0" y="0" fill="#111" font-size="7.5" text-anchor="start" font-weight="bold" stroke="#111" stroke-width="0.42" transform="translate(331.00,310.55) scale(0.93,1)">CaO system</text>
<text x="0" y="0" fill="#111" font-size="7.5" text-anchor="start" font-weight="bold" stroke="#111" stroke-width="0.42" transform="translate(331.00,319.55) scale(0.93,1)">550 nm</text>
<text x="331" y="330.2" fill="#111" font-size="7.5" text-anchor="start" font-weight="bold" stroke="#111" stroke-width="0.42" >F<tspan font-size="4.6" dy="-3">1</tspan><tspan dy="3">Π–A</tspan><tspan font-size="4.6" dy="-3">1</tspan><tspan dy="3">Π</tspan></text>
<text x="0" y="0" fill="#ff2a2a" font-size="7.4" text-anchor="start" font-weight="normal" stroke="#ff2a2a" stroke-width="0.2" transform="translate(355.00,339.92) scale(0.93,1)">Ca 1</text>
<text x="0" y="0" fill="#ff2a2a" font-size="7.4" text-anchor="start" font-weight="normal" stroke="#ff2a2a" stroke-width="0.2" transform="translate(355.00,348.92) scale(0.93,1)">551.2</text>
<text x="0" y="0" fill="#ff2a2a" font-size="7.4" text-anchor="start" font-weight="normal" stroke="#ff2a2a" stroke-width="0.2" transform="translate(375.80,289.42) scale(0.93,1)">Ca 1</text>
<text x="0" y="0" fill="#ff2a2a" font-size="7.4" text-anchor="start" font-weight="normal" stroke="#ff2a2a" stroke-width="0.2" transform="translate(375.80,298.52) scale(0.93,1)">558.1</text>
<text x="0" y="0" fill="#ff2a2a" font-size="7.4" text-anchor="start" font-weight="normal" stroke="#ff2a2a" stroke-width="0.2" transform="translate(375.80,307.62) scale(0.93,1)">558.8</text>
<text x="0" y="0" fill="#ff2a2a" font-size="7.4" text-anchor="start" font-weight="normal" stroke="#ff2a2a" stroke-width="0.2" transform="translate(375.80,316.72) scale(0.93,1)">559.4</text>
<text x="0" y="0" fill="#ff2a2a" font-size="7.4" text-anchor="start" font-weight="normal" stroke="#ff2a2a" stroke-width="0.2" transform="translate(375.80,325.82) scale(0.93,1)">559.8</text>
<text x="0" y="0" fill="#ff2a2a" font-size="7.4" text-anchor="start" font-weight="normal" stroke="#ff2a2a" stroke-width="0.2" transform="translate(375.80,334.92) scale(0.93,1)">560.2</text>
<text x="0" y="0" fill="#111" font-size="7.5" text-anchor="start" font-weight="bold" stroke="#111" stroke-width="0.42" transform="translate(396.30,319.55) scale(0.93,1)">CaF system</text>
<text x="0" y="0" fill="#111" font-size="7.5" text-anchor="start" font-weight="bold" stroke="#111" stroke-width="0.42" transform="translate(396.30,328.15) scale(0.93,1)">584 nm</text>
<text x="396.3" y="337.7" fill="#111" font-size="7.5" text-anchor="start" font-weight="bold" stroke="#111" stroke-width="0.42" >A<tspan font-size="4.6" dy="-3">2</tspan><tspan dy="3">Π–X</tspan><tspan font-size="4.6" dy="-3">2</tspan><tspan dy="3">Σ</tspan><tspan font-size="4.6" dy="-3">+</tspan></text>
<text x="0" y="0" fill="#ff2a2a" font-size="7.4" text-anchor="start" font-weight="normal" stroke="#ff2a2a" stroke-width="0.2" transform="translate(428.70,292.42) scale(0.93,1)">Ca 1</text>
<text x="0" y="0" fill="#ff2a2a" font-size="7.4" text-anchor="start" font-weight="normal" stroke="#ff2a2a" stroke-width="0.2" transform="translate(428.70,301.22) scale(0.93,1)">585.7</text>
<text x="0" y="0" fill="#b0348c" font-size="7.4" text-anchor="start" font-weight="normal" stroke="#b0348c" stroke-width="0.2" transform="translate(436.30,314.42) scale(0.93,1)">Na 1</text>
<text x="0" y="0" fill="#b0348c" font-size="7.4" text-anchor="start" font-weight="normal" stroke="#b0348c" stroke-width="0.2" transform="translate(436.30,323.92) scale(0.93,1)">589.0</text>
<text x="0" y="0" fill="#b0348c" font-size="7.4" text-anchor="start" font-weight="normal" stroke="#b0348c" stroke-width="0.2" transform="translate(442.90,332.62) scale(0.93,1)">Na 1</text>
<text x="0" y="0" fill="#b0348c" font-size="7.4" text-anchor="start" font-weight="normal" stroke="#b0348c" stroke-width="0.2" transform="translate(442.90,342.12) scale(0.93,1)">589.5</text>
<text x="0" y="0" fill="#111" font-size="7.5" text-anchor="start" font-weight="bold" stroke="#111" stroke-width="0.42" transform="translate(452.80,293.15) scale(0.93,1)">CaF system</text>
<text x="0" y="0" fill="#111" font-size="7.5" text-anchor="start" font-weight="bold" stroke="#111" stroke-width="0.42" transform="translate(452.80,301.25) scale(0.93,1)">603 nm</text>
<text x="452.8" y="310.7" fill="#111" font-size="7.5" text-anchor="start" font-weight="bold" stroke="#111" stroke-width="0.42" >A<tspan font-size="4.6" dy="-3">2</tspan><tspan dy="3">Π–X</tspan><tspan font-size="4.6" dy="-3">2</tspan><tspan dy="3">Σ</tspan><tspan font-size="4.6" dy="-3">+</tspan></text>
<text x="0" y="0" fill="#ff2a2a" font-size="7.4" text-anchor="start" font-weight="normal" stroke="#ff2a2a" stroke-width="0.2" transform="translate(478.80,321.52) scale(0.93,1)">Ca 1</text>
<text x="0" y="0" fill="#ff2a2a" font-size="7.4" text-anchor="start" font-weight="normal" stroke="#ff2a2a" stroke-width="0.2" transform="translate(478.80,330.22) scale(0.93,1)">610.2</text>
<text x="0" y="0" fill="#ff2a2a" font-size="7.4" text-anchor="start" font-weight="normal" stroke="#ff2a2a" stroke-width="0.2" transform="translate(485.40,304.22) scale(0.93,1)">Ca 1</text>
<text x="0" y="0" fill="#ff2a2a" font-size="7.4" text-anchor="start" font-weight="normal" stroke="#ff2a2a" stroke-width="0.2" transform="translate(485.40,313.02) scale(0.93,1)">612.2</text>
<text x="0" y="0" fill="#ff2a2a" font-size="7.4" text-anchor="start" font-weight="normal" stroke="#ff2a2a" stroke-width="0.2" transform="translate(506.70,278.92) scale(0.93,1)">Ca 1</text>
<text x="0" y="0" fill="#ff2a2a" font-size="7.4" text-anchor="start" font-weight="normal" stroke="#ff2a2a" stroke-width="0.2" transform="translate(506.70,287.72) scale(0.93,1)">616.2</text>
<text x="0" y="0" fill="#ff2a2a" font-size="7.4" text-anchor="start" font-weight="normal" stroke="#ff2a2a" stroke-width="0.2" transform="translate(512.00,309.02) scale(0.93,1)">Ca 1</text>
<text x="0" y="0" fill="#ff2a2a" font-size="7.4" text-anchor="start" font-weight="normal" stroke="#ff2a2a" stroke-width="0.2" transform="translate(512.00,317.72) scale(0.93,1)">616.9</text>
<text x="0" y="0" fill="#111" font-size="7.5" text-anchor="start" font-weight="bold" stroke="#111" stroke-width="0.42" transform="translate(509.00,326.25) scale(0.93,1)">CaF system</text>
<text x="0" y="0" fill="#111" font-size="7.5" text-anchor="start" font-weight="bold" stroke="#111" stroke-width="0.42" transform="translate(509.00,334.35) scale(0.93,1)">623 nm</text>
<text x="509" y="343.8" fill="#111" font-size="7.5" text-anchor="start" font-weight="bold" stroke="#111" stroke-width="0.42" >A<tspan font-size="4.6" dy="-3">2</tspan><tspan dy="3">Π–X</tspan><tspan font-size="4.6" dy="-3">2</tspan><tspan dy="3">Σ</tspan><tspan font-size="4.6" dy="-3">+</tspan></text>
<line x1="310.00" y1="346.00" x2="304.47" y2="303.57" stroke="#f2f200" stroke-width="1.3"/>
<polygon points="304.00,300.00 306.25,303.34 302.68,303.80" fill="#f2f200"/>
<line x1="350.20" y1="351.80" x2="347.55" y2="334.56" stroke="#f2f200" stroke-width="1.3"/>
<polygon points="347.00,331.00 349.33,334.28 345.77,334.83" fill="#f2f200"/>
<line x1="420.00" y1="350.50" x2="415.67" y2="342.19" stroke="#f2f200" stroke-width="1.3"/>
<polygon points="414.00,339.00 417.26,341.36 414.07,343.02" fill="#f2f200"/>
<line x1="469.00" y1="336.00" x2="469.00" y2="317.60" stroke="#f2f200" stroke-width="1.3"/>
<polygon points="469.00,314.00 470.80,317.60 467.20,317.60" fill="#f2f200"/>
<line x1="524.00" y1="353.70" x2="524.00" y2="347.60" stroke="#f2f200" stroke-width="1.3"/>
<polygon points="524.00,344.00 525.80,347.60 522.20,347.60" fill="#f2f200"/>
<line x1="505.30" y1="320.00" x2="509.48" y2="292.46" stroke="#ff2a2a" stroke-width="1.0"/>
<polygon points="510.00,289.00 511.06,292.70 507.89,292.22" fill="#ff2a2a"/>
<line x1="507.50" y1="332.00" x2="511.33" y2="312.43" stroke="#ff2a2a" stroke-width="1.0"/>
<polygon points="512.00,309.00 512.90,312.74 509.76,312.13" fill="#ff2a2a"/>
<rect x="27.6" y="395.8" width="238.9" height="98.5" fill="#c3c3c3"/>
<rect x="39.1" y="484.1" width="25.9" height="10.199999999999989" fill="#fff" stroke="#222" stroke-width="0.8" stroke-dasharray="1,1"/>
<rect x="240" y="483.6" width="26.5" height="10.699999999999989" fill="#fff" stroke="#222" stroke-width="0.8" stroke-dasharray="1,1"/>
<clipPath id="cg"><rect x="27.6" y="395.8" width="238.9" height="98.5"/></clipPath>
<path d="M28.10,493.60 L28.35,493.60 L28.60,493.60 L28.85,493.60 L29.10,493.59 L29.35,493.59 L29.60,493.59 L29.85,493.59 L30.10,493.59 L30.35,493.59 L30.60,493.59 L30.85,493.59 L31.10,493.59 L31.35,493.59 L31.60,493.59 L31.85,493.59 L32.10,493.59 L32.35,493.59 L32.60,493.59 L32.85,493.59 L33.10,493.59 L33.35,493.59 L33.60,493.59 L33.85,493.59 L34.10,493.59 L34.35,493.59 L34.60,493.59 L34.85,493.59 L35.10,493.59 L35.35,493.59 L35.60,493.58 L35.85,493.58 L36.10,493.58 L36.35,493.58 L36.60,493.58 L36.85,493.58 L37.10,493.57 L37.35,493.57 L37.60,493.57 L37.85,493.57 L38.10,493.56 L38.35,493.56 L38.60,493.55 L38.85,493.54 L39.10,493.53 L39.35,493.52 L39.60,493.51 L39.85,493.48 L40.10,493.45 L40.35,493.40 L40.60,493.31 L40.85,493.09 L41.10,492.36 L41.35,490.40 L41.60,487.40 L41.85,486.19 L42.10,488.61 L42.35,491.35 L42.60,492.74 L42.85,493.18 L43.10,493.32 L43.35,493.37 L43.60,493.40 L43.85,493.40 L44.10,493.36 L44.35,493.22 L44.60,492.74 L44.85,491.65 L45.10,490.45 L45.35,490.64 L45.60,491.92 L45.85,492.89 L46.10,493.29 L46.35,493.41 L46.60,493.45 L46.85,493.46 L47.10,493.47 L47.35,493.46 L47.60,493.45 L47.85,493.42 L48.10,493.37 L48.35,493.25 L48.60,492.87 L48.85,491.71 L49.10,489.41 L49.35,487.38 L49.60,488.39 L49.85,490.91 L50.10,492.54 L50.35,493.16 L50.60,493.34 L50.85,493.41 L51.10,493.45 L51.35,493.47 L51.60,493.48 L51.85,493.48 L52.10,493.48 L52.35,493.46 L52.60,493.40 L52.85,493.20 L53.10,492.61 L53.35,491.57 L53.60,490.90 L53.85,491.58 L54.10,492.62 L54.35,493.22 L54.60,493.42 L54.85,493.49 L55.10,493.51 L55.35,493.53 L55.60,493.54 L55.85,493.55 L56.10,493.55 L56.35,493.56 L56.60,493.56 L56.85,493.56 L57.10,493.56 L57.35,493.56 L57.60,493.56 L57.85,493.56 L58.10,493.56 L58.35,493.55 L58.60,493.55 L58.85,493.54 L59.10,493.53 L59.35,493.52 L59.60,493.50 L59.85,493.47 L60.10,493.43 L60.35,493.33 L60.60,493.01 L60.85,492.05 L61.10,490.14 L61.35,488.46 L61.60,489.30 L61.85,491.37 L62.10,492.72 L62.35,493.22 L62.60,493.35 L62.85,493.38 L63.10,493.31 L63.35,493.00 L63.60,492.37 L63.85,491.82 L64.10,492.11 L64.35,492.82 L64.60,493.28 L64.85,493.46 L65.10,493.51 L65.35,493.53 L65.60,493.55 L65.85,493.56 L66.10,493.56 L66.35,493.57 L66.60,493.57 L66.85,493.58 L67.10,493.58 L67.35,493.58 L67.60,493.58 L67.85,493.58 L68.10,493.58 L68.35,493.59 L68.60,493.59 L68.85,493.59 L69.10,493.59 L69.35,493.59 L69.60,493.59 L69.85,493.59 L70.10,493.59 L70.35,493.59 L70.60,493.59 L70.85,493.59 L71.10,493.59 L71.35,493.59 L71.60,493.59 L71.85,493.59 L72.10,493.59 L72.35,493.59 L72.60,493.59 L72.85,493.59 L73.10,493.59 L73.35,493.59 L73.60,493.59 L73.85,493.59 L74.10,493.59 L74.35,493.60 L74.60,493.60 L74.85,493.60 L75.10,493.60 L75.35,493.60 L75.60,493.60 L75.85,493.60 L76.10,493.60 L76.35,493.60 L76.60,493.60 L76.85,493.60 L77.10,493.60 L77.35,493.60 L77.60,493.60 L77.85,493.60 L78.10,493.60 L78.35,493.60 L78.60,493.60 L78.85,493.60 L79.10,493.60 L79.35,493.60 L79.60,493.60 L79.85,493.60 L80.10,493.60 L80.35,493.60 L80.60,493.60 L80.85,493.60 L81.10,493.60 L81.35,493.60 L81.60,493.60 L81.85,493.60 L82.10,493.60 L82.35,493.60 L82.60,493.60 L82.85,493.60 L83.10,493.60 L83.35,493.60 L83.60,493.60 L83.85,493.60 L84.10,493.60 L84.35,493.60 L84.60,493.60 L84.85,493.60 L85.10,493.60 L85.35,493.60 L85.60,493.60 L85.85,493.60 L86.10,493.60 L86.35,493.60 L86.60,493.60 L86.85,493.60 L87.10,493.60 L87.35,493.60 L87.60,493.60 L87.85,493.60 L88.10,493.60 L88.35,493.60 L88.60,493.60 L88.85,493.60 L89.10,493.60 L89.35,493.60 L89.60,493.60 L89.85,493.60 L90.10,493.60 L90.35,493.60 L90.60,493.60 L90.85,493.60 L91.10,493.60 L91.35,493.60 L91.60,493.60 L91.85,493.60 L92.10,493.60 L92.35,493.60 L92.60,493.60 L92.85,493.60 L93.10,493.60 L93.35,493.60 L93.60,493.60 L93.85,493.60 L94.10,493.60 L94.35,493.60 L94.60,493.60 L94.85,493.60 L95.10,493.60 L95.35,493.60 L95.60,493.60 L95.85,493.60 L96.10,493.60 L96.35,493.60 L96.60,493.60 L96.85,493.60 L97.10,493.60 L97.35,493.60 L97.60,493.60 L97.85,493.60 L98.10,493.60 L98.35,493.60 L98.60,493.60 L98.85,493.60 L99.10,493.60 L99.35,493.60 L99.60,493.60 L99.85,493.60 L100.10,493.60 L100.35,493.60 L100.60,493.60 L100.85,493.60 L101.10,493.60 L101.35,493.60 L101.60,493.60 L101.85,493.60 L102.10,493.60 L102.35,493.60 L102.60,493.60 L102.85,493.60 L103.10,493.60 L103.35,493.60 L103.60,493.60 L103.85,493.60 L104.10,493.60 L104.35,493.60 L104.60,493.60 L104.85,493.60 L105.10,493.60 L105.35,493.60 L105.60,493.60 L105.85,493.60 L106.10,493.60 L106.35,493.60 L106.60,493.60 L106.85,493.60 L107.10,493.60 L107.35,493.60 L107.60,493.60 L107.85,493.60 L108.10,493.60 L108.35,493.60 L108.60,493.60 L108.85,493.60 L109.10,493.60 L109.35,493.60 L109.60,493.60 L109.85,493.60 L110.10,493.60 L110.35,493.60 L110.60,493.60 L110.85,493.60 L111.10,493.60 L111.35,493.60 L111.60,493.60 L111.85,493.60 L112.10,493.60 L112.35,493.60 L112.60,493.60 L112.85,493.60 L113.10,493.60 L113.35,493.60 L113.60,493.60 L113.85,493.60 L114.10,493.60 L114.35,493.60 L114.60,493.60 L114.85,493.60 L115.10,493.60 L115.35,493.60 L115.60,493.59 L115.85,493.59 L116.10,493.59 L116.35,493.59 L116.60,493.59 L116.85,493.59 L117.10,493.59 L117.35,493.59 L117.60,493.59 L117.85,493.59 L118.10,493.59 L118.35,493.59 L118.60,493.59 L118.85,493.59 L119.10,493.59 L119.35,493.59 L119.60,493.59 L119.85,493.59 L120.10,493.59 L120.35,493.59 L120.60,493.59 L120.85,493.59 L121.10,493.59 L121.35,493.59 L121.60,493.59 L121.85,493.59 L122.10,493.59 L122.35,493.59 L122.60,493.59 L122.85,493.59 L123.10,493.59 L123.35,493.59 L123.60,493.59 L123.85,493.59 L124.10,493.59 L124.35,493.59 L124.60,493.59 L124.85,493.59 L125.10,493.59 L125.35,493.59 L125.60,493.59 L125.85,493.59 L126.10,493.59 L126.35,493.59 L126.60,493.59 L126.85,493.59 L127.10,493.59 L127.35,493.59 L127.60,493.58 L127.85,493.58 L128.10,493.58 L128.35,493.58 L128.60,493.58 L128.85,493.58 L129.10,493.58 L129.35,493.58 L129.60,493.58 L129.85,493.58 L130.10,493.58 L130.35,493.58 L130.60,493.58 L130.85,493.58 L131.10,493.57 L131.35,493.57 L131.60,493.57 L131.85,493.57 L132.10,493.57 L132.35,493.57 L132.60,493.57 L132.85,493.56 L133.10,493.56 L133.35,493.56 L133.60,493.56 L133.85,493.56 L134.10,493.55 L134.35,493.55 L134.60,493.55 L134.85,493.54 L135.10,493.54 L135.35,493.53 L135.60,493.53 L135.85,493.52 L136.10,493.52 L136.35,493.51 L136.60,493.50 L136.85,493.49 L137.10,493.48 L137.35,493.47 L137.60,493.46 L137.85,493.44 L138.10,493.42 L138.35,493.40 L138.60,493.37 L138.85,493.32 L139.10,493.25 L139.35,493.11 L139.60,492.88 L139.85,492.57 L140.10,492.26 L140.35,492.08 L140.60,492.11 L140.85,492.18 L141.10,492.11 L141.35,491.71 L141.60,490.42 L141.85,486.89 L142.10,479.21 L142.35,467.42 L142.60,457.27 L142.85,458.66 L143.10,469.95 L143.35,481.16 L143.60,487.92 L143.85,490.88 L144.10,492.00 L144.35,492.48 L144.60,492.74 L144.85,492.92 L145.10,493.05 L145.35,493.14 L145.60,493.22 L145.85,493.27 L146.10,493.32 L146.35,493.35 L146.60,493.38 L146.85,493.41 L147.10,493.43 L147.35,493.45 L147.60,493.46 L147.85,493.48 L148.10,493.49 L148.35,493.50 L148.60,493.50 L148.85,493.51 L149.10,493.52 L149.35,493.52 L149.60,493.53 L149.85,493.53 L150.10,493.54 L150.35,493.54 L150.60,493.55 L150.85,493.55 L151.10,493.55 L151.35,493.56 L151.60,493.56 L151.85,493.56 L152.10,493.56 L152.35,493.56 L152.60,493.57 L152.85,493.57 L153.10,493.57 L153.35,493.57 L153.60,493.57 L153.85,493.57 L154.10,493.57 L154.35,493.58 L154.60,493.58 L154.85,493.58 L155.10,493.58 L155.35,493.58" fill="none" stroke="#0000ff" stroke-width="1.5" stroke-linejoin="round" clip-path="url(#cg)"/>
<path d="M158.80,493.56 L159.05,493.55 L159.30,493.55 L159.55,493.55 L159.80,493.55 L160.05,493.55 L160.30,493.55 L160.55,493.54 L160.80,493.54 L161.05,493.54 L161.30,493.54 L161.55,493.53 L161.80,493.53 L162.05,493.53 L162.30,493.52 L162.55,493.52 L162.80,493.51 L163.05,493.51 L163.30,493.50 L163.55,493.50 L163.80,493.49 L164.05,493.49 L164.30,493.48 L164.55,493.47 L164.80,493.46 L165.05,493.45 L165.30,493.44 L165.55,493.43 L165.80,493.41 L166.05,493.40 L166.30,493.38 L166.55,493.36 L166.80,493.34 L167.05,493.31 L167.30,493.28 L167.55,493.24 L167.80,493.19 L168.05,493.14 L168.30,493.07 L168.55,492.99 L168.80,492.89 L169.05,492.76 L169.30,492.60 L169.55,492.37 L169.80,492.07 L170.05,491.63 L170.30,490.96 L170.55,489.69 L170.80,486.37 L171.05,476.72 L171.30,454.63 L171.55,422.29 L171.80,403.60 L172.05,422.29 L172.30,454.63 L172.55,476.71 L172.80,486.37 L173.05,489.68 L173.30,490.95 L173.55,491.62 L173.80,492.06 L174.05,492.36 L174.30,492.58 L174.55,492.75 L174.80,492.88 L175.05,492.98 L175.30,493.05 L175.55,493.12 L175.80,493.17 L176.05,493.21 L176.30,493.25 L176.55,493.28 L176.80,493.30 L177.05,493.32 L177.30,493.34 L177.55,493.36 L177.80,493.37 L178.05,493.38 L178.30,493.39 L178.55,493.40 L178.80,493.40 L179.05,493.41 L179.30,493.41 L179.55,493.41 L179.80,493.41 L180.05,493.41 L180.30,493.41 L180.55,493.40 L180.80,493.40 L181.05,493.39 L181.30,493.38 L181.55,493.37 L181.80,493.36 L182.05,493.34 L182.30,493.32 L182.55,493.30 L182.80,493.26 L183.05,493.23 L183.30,493.18 L183.55,493.12 L183.80,493.04 L184.05,492.94 L184.30,492.81 L184.55,492.63 L184.80,492.37 L185.05,491.97 L185.30,491.28 L185.55,489.55 L185.80,484.47 L186.05,472.05 L186.30,451.83 L186.55,436.17 L186.80,443.77 L187.05,464.58 L187.30,480.60 L187.55,488.14 L187.80,490.80 L188.05,491.76 L188.30,492.24 L188.55,492.55 L188.80,492.76 L189.05,492.91 L189.30,493.03 L189.55,493.12 L189.80,493.18 L190.05,493.24 L190.30,493.28 L190.55,493.32 L190.80,493.35 L191.05,493.37 L191.30,493.40 L191.55,493.41 L191.80,493.43 L192.05,493.44 L192.30,493.46 L192.55,493.47 L192.80,493.48 L193.05,493.48 L193.30,493.49 L193.55,493.50 L193.80,493.50 L194.05,493.51 L194.30,493.51 L194.55,493.52 L194.80,493.52 L195.05,493.53 L195.30,493.53 L195.55,493.53 L195.80,493.54 L196.05,493.54 L196.30,493.54 L196.55,493.54 L196.80,493.55 L197.05,493.55 L197.30,493.55 L197.55,493.55 L197.80,493.55 L198.05,493.55 L198.30,493.56 L198.55,493.56 L198.80,493.56 L199.05,493.56 L199.30,493.56 L199.55,493.56 L199.80,493.56 L200.05,493.56 L200.30,493.56 L200.55,493.56 L200.80,493.56 L201.05,493.57 L201.30,493.57 L201.55,493.57 L201.80,493.57 L202.05,493.57 L202.30,493.57 L202.55,493.57 L202.80,493.57 L203.05,493.57 L203.30,493.57 L203.55,493.57 L203.80,493.57 L204.05,493.57 L204.30,493.57 L204.55,493.57 L204.80,493.57 L205.05,493.57 L205.30,493.57 L205.55,493.57 L205.80,493.57 L206.05,493.57 L206.30,493.57 L206.55,493.57 L206.80,493.57 L207.05,493.57 L207.30,493.57 L207.55,493.57 L207.80,493.57 L208.05,493.57 L208.30,493.57 L208.55,493.57 L208.80,493.57 L209.05,493.57 L209.30,493.56 L209.55,493.56 L209.80,493.56 L210.05,493.56 L210.30,493.56 L210.55,493.56 L210.80,493.56 L211.05,493.56 L211.30,493.55 L211.55,493.55 L211.80,493.55 L212.05,493.55 L212.30,493.54 L212.55,493.54 L212.80,493.54 L213.05,493.53 L213.30,493.53 L213.55,493.52 L213.80,493.52 L214.05,493.51 L214.30,493.50 L214.55,493.49 L214.80,493.48 L215.05,493.47 L215.30,493.45 L215.55,493.43 L215.80,493.41 L216.05,493.38 L216.30,493.34 L216.55,493.30 L216.80,493.24 L217.05,493.16 L217.30,493.05 L217.55,492.90 L217.80,492.66 L218.05,492.21 L218.30,491.03 L218.55,487.60 L218.80,479.74 L219.05,468.25 L219.30,461.60 L219.55,468.25 L219.80,479.74 L220.05,487.60 L220.30,491.03 L220.55,492.21 L220.80,492.66 L221.05,492.90 L221.30,493.05 L221.55,493.16 L221.80,493.24 L222.05,493.30 L222.30,493.35 L222.55,493.38 L222.80,493.41 L223.05,493.43 L223.30,493.45 L223.55,493.47 L223.80,493.48 L224.05,493.49 L224.30,493.50 L224.55,493.51 L224.80,493.52 L225.05,493.53 L225.30,493.53 L225.55,493.54 L225.80,493.54 L226.05,493.54 L226.30,493.55 L226.55,493.55 L226.80,493.55 L227.05,493.56 L227.30,493.56 L227.55,493.56 L227.80,493.56 L228.05,493.56 L228.30,493.57 L228.55,493.57 L228.80,493.57 L229.05,493.57 L229.30,493.57 L229.55,493.57 L229.80,493.57 L230.05,493.57 L230.30,493.57 L230.55,493.58 L230.80,493.58 L231.05,493.58 L231.30,493.58 L231.55,493.58 L231.80,493.58 L232.05,493.58 L232.30,493.58 L232.55,493.58 L232.80,493.58 L233.05,493.58 L233.30,493.58 L233.55,493.58 L233.80,493.58 L234.05,493.58 L234.30,493.58 L234.55,493.58 L234.80,493.58 L235.05,493.58 L235.30,493.58 L235.55,493.58 L235.80,493.58 L236.05,493.58 L236.30,493.58 L236.55,493.58 L236.80,493.58 L237.05,493.58 L237.30,493.58 L237.55,493.58 L237.80,493.58 L238.05,493.58 L238.30,493.58 L238.55,493.58 L238.80,493.58 L239.05,493.58 L239.30,493.58 L239.55,493.58 L239.80,493.58 L240.05,493.58 L240.30,493.58 L240.55,493.58 L240.80,493.58 L241.05,493.58 L241.30,493.57 L241.55,493.57 L241.80,493.57 L242.05,493.56 L242.30,493.56 L242.55,493.55 L242.80,493.52 L243.05,493.46 L243.30,493.30 L243.55,493.03 L243.80,492.71 L244.05,492.61 L244.30,492.83 L244.55,493.15 L244.80,493.38 L245.05,493.49 L245.30,493.53 L245.55,493.55 L245.80,493.55 L246.05,493.56 L246.30,493.56 L246.55,493.56 L246.80,493.56 L247.05,493.56 L247.30,493.56 L247.55,493.56 L247.80,493.56 L248.05,493.56 L248.30,493.56 L248.55,493.55 L248.80,493.55 L249.05,493.54 L249.30,493.53 L249.55,493.53 L249.80,493.51 L250.05,493.49 L250.30,493.46 L250.55,493.40 L250.80,493.27 L251.05,492.98 L251.30,492.46 L251.55,491.73 L251.80,491.03 L252.05,490.81 L252.30,491.28 L252.55,492.03 L252.80,492.68 L253.05,493.10 L253.30,493.31 L253.55,493.39 L253.80,493.43 L254.05,493.43 L254.30,493.41 L254.55,493.32 L254.80,493.11 L255.05,492.72 L255.30,492.27 L255.55,492.11 L255.80,492.42 L256.05,492.87 L256.30,493.17 L256.55,493.31 L256.80,493.34 L257.05,493.31 L257.30,493.22 L257.55,493.01 L257.80,492.51 L258.05,491.57 L258.30,490.18 L258.55,488.70 L258.80,488.00 L259.05,488.70 L259.30,490.18 L259.55,491.57 L259.80,492.51 L260.05,493.00 L260.30,493.21 L260.55,493.28 L260.80,493.27 L261.05,493.15 L261.30,492.91 L261.55,492.56 L261.80,492.21 L262.05,492.11 L262.30,492.36 L262.55,492.75 L262.80,493.10 L263.05,493.32 L263.30,493.44 L263.55,493.49 L263.80,493.51 L264.05,493.53 L264.30,493.54 L264.55,493.55 L264.80,493.55 L265.05,493.56 L265.30,493.56 L265.55,493.57 L265.80,493.57" fill="none" stroke="#0000ff" stroke-width="1.5" stroke-linejoin="round" clip-path="url(#cg)"/>
<rect x="27.6" y="395.8" width="238.9" height="98.5" fill="none" stroke="#858585" stroke-width="1.0"/>
<rect x="155.20" y="492.3" width="3.6" height="4" fill="#fff"/>
<line x1="154.40" y1="496.10" x2="155.80" y2="490.80" stroke="#666" stroke-width="0.7"/>
<line x1="158.00" y1="496.10" x2="159.40" y2="490.80" stroke="#666" stroke-width="0.7"/>
<line x1="25.10" y1="494.00" x2="27.6" y2="494.00" stroke="#333" stroke-width="0.8"/>
<text x="24.1" y="496.92" fill="#111" font-size="8" text-anchor="end" font-weight="normal" stroke="#111" stroke-width="0.2" >0</text>
<line x1="25.10" y1="484.20" x2="27.6" y2="484.20" stroke="#333" stroke-width="0.8"/>
<text x="24.1" y="487.12" fill="#111" font-size="8" text-anchor="end" font-weight="normal" stroke="#111" stroke-width="0.2" >20</text>
<line x1="25.10" y1="474.40" x2="27.6" y2="474.40" stroke="#333" stroke-width="0.8"/>
<text x="24.1" y="477.32" fill="#111" font-size="8" text-anchor="end" font-weight="normal" stroke="#111" stroke-width="0.2" >40</text>
<line x1="25.10" y1="464.60" x2="27.6" y2="464.60" stroke="#333" stroke-width="0.8"/>
<text x="24.1" y="467.52" fill="#111" font-size="8" text-anchor="end" font-weight="normal" stroke="#111" stroke-width="0.2" >60</text>
<line x1="25.10" y1="454.80" x2="27.6" y2="454.80" stroke="#333" stroke-width="0.8"/>
<text x="24.1" y="457.72" fill="#111" font-size="8" text-anchor="end" font-weight="normal" stroke="#111" stroke-width="0.2" >80</text>
<line x1="25.10" y1="445.00" x2="27.6" y2="445.00" stroke="#333" stroke-width="0.8"/>
<text x="24.1" y="447.92" fill="#111" font-size="8" text-anchor="end" font-weight="normal" stroke="#111" stroke-width="0.2" >100</text>
<line x1="25.10" y1="435.20" x2="27.6" y2="435.20" stroke="#333" stroke-width="0.8"/>
<text x="24.1" y="438.12" fill="#111" font-size="8" text-anchor="end" font-weight="normal" stroke="#111" stroke-width="0.2" >120</text>
<line x1="25.10" y1="425.40" x2="27.6" y2="425.40" stroke="#333" stroke-width="0.8"/>
<text x="24.1" y="428.32" fill="#111" font-size="8" text-anchor="end" font-weight="normal" stroke="#111" stroke-width="0.2" >140</text>
<line x1="25.10" y1="415.60" x2="27.6" y2="415.60" stroke="#333" stroke-width="0.8"/>
<text x="24.1" y="418.52" fill="#111" font-size="8" text-anchor="end" font-weight="normal" stroke="#111" stroke-width="0.2" >160</text>
<line x1="25.10" y1="405.80" x2="27.6" y2="405.80" stroke="#333" stroke-width="0.8"/>
<text x="24.1" y="408.72" fill="#111" font-size="8" text-anchor="end" font-weight="normal" stroke="#111" stroke-width="0.2" >180</text>
<line x1="25.10" y1="396.00" x2="27.6" y2="396.00" stroke="#333" stroke-width="0.8"/>
<text x="24.1" y="398.92" fill="#111" font-size="8" text-anchor="end" font-weight="normal" stroke="#111" stroke-width="0.2" >200</text>
<line x1="26.10" y1="489.10" x2="27.6" y2="489.10" stroke="#555" stroke-width="0.6"/>
<line x1="26.10" y1="479.30" x2="27.6" y2="479.30" stroke="#555" stroke-width="0.6"/>
<line x1="26.10" y1="469.50" x2="27.6" y2="469.50" stroke="#555" stroke-width="0.6"/>
<line x1="26.10" y1="459.70" x2="27.6" y2="459.70" stroke="#555" stroke-width="0.6"/>
<line x1="26.10" y1="449.90" x2="27.6" y2="449.90" stroke="#555" stroke-width="0.6"/>
<line x1="26.10" y1="440.10" x2="27.6" y2="440.10" stroke="#555" stroke-width="0.6"/>
<line x1="26.10" y1="430.30" x2="27.6" y2="430.30" stroke="#555" stroke-width="0.6"/>
<line x1="26.10" y1="420.50" x2="27.6" y2="420.50" stroke="#555" stroke-width="0.6"/>
<line x1="26.10" y1="410.70" x2="27.6" y2="410.70" stroke="#555" stroke-width="0.6"/>
<line x1="26.10" y1="400.90" x2="27.6" y2="400.90" stroke="#555" stroke-width="0.6"/>
<line x1="28.30" y1="494.3" x2="28.30" y2="496.5" stroke="#777" stroke-width="0.7"/>
<text x="28.3" y="503.92" fill="#111" font-size="8" text-anchor="middle" font-weight="normal" stroke="#111" stroke-width="0.2" >640</text>
<line x1="65.00" y1="494.3" x2="65.00" y2="496.5" stroke="#777" stroke-width="0.7"/>
<text x="65" y="503.92" fill="#111" font-size="8" text-anchor="middle" font-weight="normal" stroke="#111" stroke-width="0.2" >650</text>
<line x1="101.10" y1="494.3" x2="101.10" y2="496.5" stroke="#777" stroke-width="0.7"/>
<text x="101.1" y="503.92" fill="#111" font-size="8" text-anchor="middle" font-weight="normal" stroke="#111" stroke-width="0.2" >660</text>
<line x1="137.30" y1="494.3" x2="137.30" y2="496.5" stroke="#777" stroke-width="0.7"/>
<text x="137.3" y="503.92" fill="#111" font-size="8" text-anchor="middle" font-weight="normal" stroke="#111" stroke-width="0.2" >670</text>
<line x1="185.90" y1="494.3" x2="185.90" y2="496.5" stroke="#777" stroke-width="0.7"/>
<text x="185.9" y="503.92" fill="#111" font-size="8" text-anchor="middle" font-weight="normal" stroke="#111" stroke-width="0.2" >720</text>
<line x1="212.50" y1="494.3" x2="212.50" y2="496.5" stroke="#777" stroke-width="0.7"/>
<text x="212.5" y="503.92" fill="#111" font-size="8" text-anchor="middle" font-weight="normal" stroke="#111" stroke-width="0.2" >730</text>
<line x1="239.10" y1="494.3" x2="239.10" y2="496.5" stroke="#777" stroke-width="0.7"/>
<text x="239.1" y="503.92" fill="#111" font-size="8" text-anchor="middle" font-weight="normal" stroke="#111" stroke-width="0.2" >740</text>
<line x1="265.90" y1="494.3" x2="265.90" y2="496.5" stroke="#777" stroke-width="0.7"/>
<text x="265.9" y="503.92" fill="#111" font-size="8" text-anchor="middle" font-weight="normal" stroke="#111" stroke-width="0.2" >750</text>
<text x="11.6" y="445" transform="rotate(-90 11.6 445)" fill="#111" font-size="8.5" text-anchor="middle">Mean normalization</text>
<text x="147" y="516.59" fill="#111" font-size="8.5" text-anchor="middle" font-weight="normal" stroke="#111" stroke-width="0.2" >Wavelength/nm</text>
<text x="33" y="409.1" fill="#111" font-size="8.5" text-anchor="start" font-weight="normal" stroke="#111" stroke-width="0.2" >(g)</text>
<text x="0" y="0" fill="#ff2a2a" font-size="7.6" text-anchor="start" font-weight="normal" stroke="#ff2a2a" stroke-width="0.2" transform="translate(39.10,418.18) scale(0.97,1)">Ca 1</text>
<text x="0" y="0" fill="#ff2a2a" font-size="7.6" text-anchor="start" font-weight="normal" stroke="#ff2a2a" stroke-width="0.2" transform="translate(39.10,427.18) scale(0.97,1)">643.9</text>
<text x="0" y="0" fill="#ff2a2a" font-size="7.6" text-anchor="start" font-weight="normal" stroke="#ff2a2a" stroke-width="0.2" transform="translate(39.10,436.18) scale(0.97,1)">644.9</text>
<text x="0" y="0" fill="#ff2a2a" font-size="7.6" text-anchor="start" font-weight="normal" stroke="#ff2a2a" stroke-width="0.2" transform="translate(39.10,445.18) scale(0.97,1)">645.5</text>
<text x="0" y="0" fill="#ff2a2a" font-size="7.6" text-anchor="start" font-weight="normal" stroke="#ff2a2a" stroke-width="0.2" transform="translate(39.10,454.18) scale(0.97,1)">646.2</text>
<text x="0" y="0" fill="#ff2a2a" font-size="7.6" text-anchor="start" font-weight="normal" stroke="#ff2a2a" stroke-width="0.2" transform="translate(39.10,463.18) scale(0.97,1)">647.1</text>
<text x="0" y="0" fill="#ff2a2a" font-size="7.6" text-anchor="start" font-weight="normal" stroke="#ff2a2a" stroke-width="0.2" transform="translate(39.10,472.18) scale(0.97,1)">649.3</text>
<text x="0" y="0" fill="#ff2a2a" font-size="7.6" text-anchor="start" font-weight="normal" stroke="#ff2a2a" stroke-width="0.2" transform="translate(39.10,481.18) scale(0.97,1)">649.9</text>
<text x="0" y="0" fill="#aa2222" font-size="7.6" text-anchor="start" font-weight="normal" stroke="#aa2222" stroke-width="0.2" transform="translate(117.00,465.78) scale(0.97,1)">Li 1</text>
<text x="0" y="0" fill="#aa2222" font-size="7.6" text-anchor="start" font-weight="normal" stroke="#aa2222" stroke-width="0.2" transform="translate(117.00,474.88) scale(0.97,1)">670.7</text>
<text x="0" y="0" fill="#ff2a2a" font-size="7.6" text-anchor="start" font-weight="normal" stroke="#ff2a2a" stroke-width="0.2" transform="translate(136.80,446.28) scale(0.97,1)">Ca 1</text>
<text x="0" y="0" fill="#ff2a2a" font-size="7.6" text-anchor="start" font-weight="normal" stroke="#ff2a2a" stroke-width="0.2" transform="translate(136.80,455.38) scale(0.97,1)">671.7</text>
<text x="0" y="0" fill="#ff2a2a" font-size="7.6" text-anchor="start" font-weight="normal" stroke="#ff2a2a" stroke-width="0.2" transform="translate(173.60,404.68) scale(0.97,1)">Ca 1</text>
<text x="0" y="0" fill="#ff2a2a" font-size="7.6" text-anchor="start" font-weight="normal" stroke="#ff2a2a" stroke-width="0.2" transform="translate(173.60,413.28) scale(0.97,1)">714.8</text>
<text x="0" y="0" fill="#ff2a2a" font-size="7.6" text-anchor="start" font-weight="normal" stroke="#ff2a2a" stroke-width="0.2" transform="translate(187.70,433.78) scale(0.97,1)">Ca 1</text>
<text x="0" y="0" fill="#ff2a2a" font-size="7.6" text-anchor="start" font-weight="normal" stroke="#ff2a2a" stroke-width="0.2" transform="translate(187.70,442.88) scale(0.97,1)">720.2</text>
<text x="0" y="0" fill="#ff2a2a" font-size="7.6" text-anchor="start" font-weight="normal" stroke="#ff2a2a" stroke-width="0.2" transform="translate(210.00,451.98) scale(0.97,1)">Ca 1</text>
<text x="0" y="0" fill="#ff2a2a" font-size="7.6" text-anchor="start" font-weight="normal" stroke="#ff2a2a" stroke-width="0.2" transform="translate(210.00,461.08) scale(0.97,1)">732.6</text>
<text x="0" y="0" fill="#229922" font-size="7.6" text-anchor="start" font-weight="normal" stroke="#229922" stroke-width="0.2" transform="translate(240.70,454.68) scale(0.97,1)">N 1</text>
<text x="0" y="0" fill="#229922" font-size="7.6" text-anchor="start" font-weight="normal" stroke="#229922" stroke-width="0.2" transform="translate(240.70,463.78) scale(0.97,1)">742.3</text>
<text x="0" y="0" fill="#229922" font-size="7.6" text-anchor="start" font-weight="normal" stroke="#229922" stroke-width="0.2" transform="translate(240.70,472.88) scale(0.97,1)">744.2</text>
<text x="0" y="0" fill="#229922" font-size="7.6" text-anchor="start" font-weight="normal" stroke="#229922" stroke-width="0.2" transform="translate(240.70,481.98) scale(0.97,1)">746.8</text>
<line x1="141.00" y1="492.00" x2="132.35" y2="480.99" stroke="#aa2222" stroke-width="1.3"/>
<polygon points="130.00,478.00 133.84,479.81 130.85,482.16" fill="#aa2222"/>
<rect x="298.2" y="396" width="238.3" height="98.5" fill="#fff"/>
<rect x="417.8" y="483.7" width="23.099999999999966" height="10.800000000000011" fill="#c8c8c8" stroke="#555" stroke-width="0.8" stroke-dasharray="1,1"/>
<clipPath id="ch"><rect x="298.2" y="396" width="238.3" height="98.5"/></clipPath>
<path d="M298.70,493.58 L298.95,493.58 L299.20,493.58 L299.45,493.58 L299.70,493.58 L299.95,493.58 L300.20,493.58 L300.45,493.58 L300.70,493.58 L300.95,493.58 L301.20,493.58 L301.45,493.58 L301.70,493.58 L301.95,493.58 L302.20,493.58 L302.45,493.58 L302.70,493.58 L302.95,493.58 L303.20,493.58 L303.45,493.58 L303.70,493.57 L303.95,493.57 L304.20,493.57 L304.45,493.57 L304.70,493.57 L304.95,493.57 L305.20,493.57 L305.45,493.57 L305.70,493.57 L305.95,493.57 L306.20,493.57 L306.45,493.57 L306.70,493.56 L306.95,493.56 L307.20,493.56 L307.45,493.56 L307.70,493.56 L307.95,493.56 L308.20,493.56 L308.45,493.55 L308.70,493.55 L308.95,493.55 L309.20,493.55 L309.45,493.55 L309.70,493.54 L309.95,493.54 L310.20,493.54 L310.45,493.53 L310.70,493.53 L310.95,493.53 L311.20,493.52 L311.45,493.52 L311.70,493.51 L311.95,493.51 L312.20,493.50 L312.45,493.49 L312.70,493.48 L312.95,493.47 L313.20,493.45 L313.45,493.43 L313.70,493.40 L313.95,493.37 L314.20,493.32 L314.45,493.26 L314.70,493.18 L314.95,493.07 L315.20,492.95 L315.45,492.80 L315.70,492.62 L315.95,492.42 L316.20,492.20 L316.45,491.96 L316.70,491.72 L316.95,491.49 L317.20,491.29 L317.45,491.12 L317.70,491.03 L317.95,491.00 L318.20,491.06 L318.45,491.18 L318.70,491.36 L318.95,491.58 L319.20,491.81 L319.45,492.05 L319.70,492.28 L319.95,492.49 L320.20,492.68 L320.45,492.85 L320.70,492.99 L320.95,493.10 L321.20,493.19 L321.45,493.26 L321.70,493.32 L321.95,493.36 L322.20,493.39 L322.45,493.41 L322.70,493.43 L322.95,493.44 L323.20,493.45 L323.45,493.45 L323.70,493.46 L323.95,493.46 L324.20,493.46 L324.45,493.46 L324.70,493.46 L324.95,493.45 L325.20,493.45 L325.45,493.44 L325.70,493.43 L325.95,493.41 L326.20,493.39 L326.45,493.36 L326.70,493.32 L326.95,493.26 L327.20,493.18 L327.45,493.01 L327.70,492.57 L327.95,491.29 L328.20,488.36 L328.45,484.08 L328.70,481.60 L328.95,484.08 L329.20,488.36 L329.45,491.28 L329.70,492.56 L329.95,493.00 L330.20,493.16 L330.45,493.25 L330.70,493.30 L330.95,493.34 L331.20,493.37 L331.45,493.38 L331.70,493.39 L331.95,493.39 L332.20,493.39 L332.45,493.39 L332.70,493.37 L332.95,493.35 L333.20,493.31 L333.45,493.25 L333.70,493.09 L333.95,492.63 L334.20,491.44 L334.45,489.30 L334.70,487.25 L334.95,487.54 L335.20,489.78 L335.45,491.75 L335.70,492.76 L335.95,493.13 L336.20,493.26 L336.45,493.31 L336.70,493.35 L336.95,493.37 L337.20,493.38 L337.45,493.39 L337.70,493.40 L337.95,493.40 L338.20,493.40 L338.45,493.40 L338.70,493.39 L338.95,493.39 L339.20,493.38 L339.45,493.38 L339.70,493.37 L339.95,493.36 L340.20,493.35 L340.45,493.33 L340.70,493.32 L340.95,493.30 L341.20,493.28 L341.45,493.26 L341.70,493.24 L341.95,493.21 L342.20,493.18 L342.45,493.14 L342.70,493.09 L342.95,493.03 L343.20,492.95 L343.45,492.85 L343.70,492.73 L343.95,492.56 L344.20,492.36 L344.45,492.11 L344.70,491.81 L344.95,491.45 L345.20,491.05 L345.45,490.59 L345.70,490.09 L345.95,489.52 L346.20,488.82 L346.45,487.85 L346.70,486.33 L346.95,483.87 L347.20,480.02 L347.45,474.52 L347.70,467.53 L347.95,459.89 L348.20,453.29 L348.45,450.06 L348.70,451.79 L348.95,457.72 L349.20,465.59 L349.45,473.36 L349.70,479.86 L349.95,484.64 L350.20,487.81 L350.45,489.76 L350.70,490.89 L350.95,491.55 L351.20,491.95 L351.45,492.22 L351.70,492.42 L351.95,492.57 L352.20,492.69 L352.45,492.80 L352.70,492.88 L352.95,492.96 L353.20,493.02 L353.45,493.07 L353.70,493.12 L353.95,493.16 L354.20,493.19 L354.45,493.22 L354.70,493.25 L354.95,493.28 L355.20,493.30 L355.45,493.32 L355.70,493.34 L355.95,493.35 L356.20,493.37 L356.45,493.38 L356.70,493.39 L356.95,493.40 L357.20,493.41 L357.45,493.42 L357.70,493.43 L357.95,493.44 L358.20,493.45 L358.45,493.45 L358.70,493.46 L358.95,493.47 L359.20,493.47 L359.45,493.48 L359.70,493.48 L359.95,493.49 L360.20,493.49 L360.45,493.50 L360.70,493.50 L360.95,493.50 L361.20,493.51 L361.45,493.51 L361.70,493.51 L361.95,493.51 L362.20,493.52 L362.45,493.52 L362.70,493.52 L362.95,493.52 L363.20,493.53 L363.45,493.53 L363.70,493.53 L363.95,493.53 L364.20,493.53 L364.45,493.54 L364.70,493.54 L364.95,493.54 L365.20,493.54 L365.45,493.54 L365.70,493.54 L365.95,493.54 L366.20,493.54 L366.45,493.55 L366.70,493.55 L366.95,493.55 L367.20,493.55 L367.45,493.55 L367.70,493.55 L367.95,493.55 L368.20,493.55 L368.45,493.55 L368.70,493.55 L368.95,493.55 L369.20,493.55 L369.45,493.55 L369.70,493.56 L369.95,493.56 L370.20,493.56 L370.45,493.56 L370.70,493.56 L370.95,493.56 L371.20,493.56 L371.45,493.56 L371.70,493.56 L371.95,493.56 L372.20,493.56 L372.45,493.56 L372.70,493.56 L372.95,493.56 L373.20,493.56 L373.45,493.55 L373.70,493.55 L373.95,493.55 L374.20,493.55 L374.45,493.55 L374.70,493.55 L374.95,493.55 L375.20,493.55 L375.45,493.54 L375.70,493.54 L375.95,493.54 L376.20,493.54 L376.45,493.53 L376.70,493.53 L376.95,493.52 L377.20,493.52 L377.45,493.51 L377.70,493.50 L377.95,493.49 L378.20,493.47 L378.45,493.45 L378.70,493.41 L378.95,493.34 L379.20,493.23 L379.45,493.03 L379.70,492.73 L379.95,492.30 L380.20,491.76 L380.45,491.17 L380.70,490.66 L380.95,490.41 L381.20,490.52 L381.45,490.95 L381.70,491.53 L381.95,492.10 L382.20,492.58 L382.45,492.93 L382.70,493.16 L382.95,493.30 L383.20,493.39 L383.45,493.44 L383.70,493.47 L383.95,493.48 L384.20,493.50 L384.45,493.51 L384.70,493.52 L384.95,493.53 L385.20,493.53 L385.45,493.54 L385.70,493.54 L385.95,493.55 L386.20,493.55 L386.45,493.55 L386.70,493.55 L386.95,493.56 L387.20,493.56 L387.45,493.56 L387.70,493.56 L387.95,493.56 L388.20,493.57 L388.45,493.57 L388.70,493.57 L388.95,493.57 L389.20,493.57 L389.45,493.57 L389.70,493.57 L389.95,493.57 L390.20,493.57 L390.45,493.57 L390.70,493.57 L390.95,493.57 L391.20,493.57 L391.45,493.57 L391.70,493.58 L391.95,493.58 L392.20,493.58 L392.45,493.58 L392.70,493.58 L392.95,493.58 L393.20,493.58 L393.45,493.58 L393.70,493.58 L393.95,493.58 L394.20,493.58 L394.45,493.58 L394.70,493.58 L394.95,493.58 L395.20,493.58 L395.45,493.58 L395.70,493.58 L395.95,493.58 L396.20,493.58 L396.45,493.58 L396.70,493.58 L396.95,493.58 L397.20,493.58 L397.45,493.58 L397.70,493.58 L397.95,493.58 L398.20,493.58 L398.45,493.58 L398.70,493.58 L398.95,493.58 L399.20,493.58 L399.45,493.58 L399.70,493.58 L399.95,493.58 L400.20,493.58 L400.45,493.58 L400.70,493.58 L400.95,493.58 L401.20,493.58 L401.45,493.58 L401.70,493.58 L401.95,493.58 L402.20,493.58 L402.45,493.58 L402.70,493.58 L402.95,493.58 L403.20,493.58 L403.45,493.58 L403.70,493.58 L403.95,493.58 L404.20,493.58 L404.45,493.58 L404.70,493.58 L404.95,493.58 L405.20,493.58 L405.45,493.58 L405.70,493.58 L405.95,493.58 L406.20,493.58 L406.45,493.58 L406.70,493.58 L406.95,493.58 L407.20,493.58 L407.45,493.58 L407.70,493.58 L407.95,493.58 L408.20,493.58 L408.45,493.58 L408.70,493.58 L408.95,493.58 L409.20,493.58 L409.45,493.58 L409.70,493.58 L409.95,493.58 L410.20,493.58 L410.45,493.58 L410.70,493.58 L410.95,493.58 L411.20,493.58 L411.45,493.57 L411.70,493.57 L411.95,493.57 L412.20,493.57 L412.45,493.57 L412.70,493.57 L412.95,493.57 L413.20,493.57 L413.45,493.57 L413.70,493.57 L413.95,493.57 L414.20,493.57 L414.45,493.57 L414.70,493.57 L414.95,493.57 L415.20,493.57 L415.45,493.57 L415.70,493.57 L415.95,493.56 L416.20,493.56 L416.45,493.56 L416.70,493.56 L416.95,493.56 L417.20,493.56 L417.45,493.56 L417.70,493.55 L417.95,493.55 L418.20,493.55 L418.45,493.55 L418.70,493.55 L418.95,493.54 L419.20,493.54 L419.45,493.53 L419.70,493.53 L419.95,493.53 L420.20,493.52 L420.45,493.51 L420.70,493.50 L420.95,493.49 L421.20,493.48 L421.45,493.47 L421.70,493.45 L421.95,493.42 L422.20,493.39 L422.45,493.34 L422.70,493.24 L422.95,493.02 L423.20,492.46 L423.45,491.35 L423.70,489.78 L423.95,488.65 L424.20,489.10 L424.45,490.48 L424.70,491.50 L424.95,491.45 L425.20,490.05 L425.45,487.55 L425.70,485.35 L425.95,485.67 L426.20,488.18 L426.45,490.65 L426.70,492.13 L426.95,492.77 L427.20,492.98 L427.45,493.03 L427.70,492.99 L427.95,492.79 L428.20,492.20 L428.45,490.82 L428.70,488.50 L428.95,486.15 L429.20,485.81 L429.45,487.76 L429.70,489.80 L429.95,490.56 L430.20,490.13 L430.45,489.60 L430.70,490.10 L430.95,491.31 L431.20,492.35 L431.45,492.94 L431.70,493.19 L431.95,493.29 L432.20,493.33 L432.45,493.35 L432.70,493.34 L432.95,493.28 L433.20,493.12 L433.45,492.81 L433.70,492.34 L433.95,491.83 L434.20,491.60 L434.45,491.85 L434.70,492.36 L434.95,492.85 L435.20,493.17 L435.45,493.35 L435.70,493.43 L435.95,493.47 L436.20,493.49 L436.45,493.50 L436.70,493.51 L436.95,493.52 L437.20,493.52 L437.45,493.53 L437.70,493.53 L437.95,493.54 L438.20,493.54 L438.45,493.54 L438.70,493.54 L438.95,493.55 L439.20,493.55 L439.45,493.55 L439.70,493.55 L439.95,493.55 L440.20,493.55 L440.45,493.55 L440.70,493.55 L440.95,493.55 L441.20,493.55 L441.45,493.56 L441.70,493.56 L441.95,493.56 L442.20,493.56 L442.45,493.56 L442.70,493.56 L442.95,493.56 L443.20,493.56 L443.45,493.56 L443.70,493.56 L443.95,493.56 L444.20,493.56 L444.45,493.56 L444.70,493.56 L444.95,493.56 L445.20,493.56 L445.45,493.56 L445.70,493.56 L445.95,493.56 L446.20,493.56 L446.45,493.56 L446.70,493.56 L446.95,493.56 L447.20,493.56 L447.45,493.56 L447.70,493.56 L447.95,493.56 L448.20,493.56 L448.45,493.56 L448.70,493.56 L448.95,493.56 L449.20,493.56 L449.45,493.56 L449.70,493.55 L449.95,493.55 L450.20,493.55 L450.45,493.55 L450.70,493.55 L450.95,493.55 L451.20,493.55 L451.45,493.55 L451.70,493.55 L451.95,493.55 L452.20,493.55 L452.45,493.55 L452.70,493.55 L452.95,493.55 L453.20,493.55 L453.45,493.55 L453.70,493.55 L453.95,493.55 L454.20,493.55 L454.45,493.55 L454.70,493.55 L454.95,493.54 L455.20,493.54 L455.45,493.54 L455.70,493.54 L455.95,493.54 L456.20,493.54 L456.45,493.54 L456.70,493.54 L456.95,493.54 L457.20,493.54 L457.45,493.54 L457.70,493.54 L457.95,493.53 L458.20,493.53 L458.45,493.53 L458.70,493.53 L458.95,493.53 L459.20,493.53 L459.45,493.53 L459.70,493.53 L459.95,493.53 L460.20,493.52 L460.45,493.52 L460.70,493.52 L460.95,493.52 L461.20,493.52 L461.45,493.52 L461.70,493.52 L461.95,493.51 L462.20,493.51 L462.45,493.51 L462.70,493.51 L462.95,493.51 L463.20,493.50 L463.45,493.50 L463.70,493.50 L463.95,493.50 L464.20,493.49 L464.45,493.49 L464.70,493.49 L464.95,493.49 L465.20,493.48 L465.45,493.48 L465.70,493.47 L465.95,493.47 L466.20,493.47 L466.45,493.46 L466.70,493.45 L466.95,493.45 L467.20,493.44 L467.45,493.43 L467.70,493.42 L467.95,493.41 L468.20,493.40 L468.45,493.39 L468.70,493.37 L468.95,493.35 L469.20,493.32 L469.45,493.29 L469.70,493.24 L469.95,493.17 L470.20,493.03 L470.45,492.73 L470.70,492.07 L470.95,490.82 L471.20,488.98 L471.45,487.02 L471.70,486.10 L471.95,487.01 L472.20,488.96 L472.45,490.79 L472.70,492.02 L472.95,492.67 L473.20,492.97 L473.45,493.09 L473.70,493.15 L473.95,493.19 L474.20,493.21 L474.45,493.22 L474.70,493.23 L474.95,493.23 L475.20,493.23 L475.45,493.23 L475.70,493.22 L475.95,493.21 L476.20,493.20 L476.45,493.18 L476.70,493.16 L476.95,493.14 L477.20,493.12 L477.45,493.09 L477.70,493.05 L477.95,493.01 L478.20,492.97 L478.45,492.91 L478.70,492.84 L478.95,492.75 L479.20,492.65 L479.45,492.51 L479.70,492.32 L479.95,492.05 L480.20,491.63 L480.45,490.77 L480.70,488.53 L480.95,483.00 L481.20,472.44 L481.45,458.97 L481.70,451.80 L481.95,458.90 L482.20,472.30 L482.45,482.78 L482.70,488.23 L482.95,490.39 L483.20,491.18 L483.45,491.51 L483.70,491.68 L483.95,491.76 L484.20,491.79 L484.45,491.77 L484.70,491.71 L484.95,491.62 L485.20,491.50 L485.45,491.34 L485.70,491.15 L485.95,490.90 L486.20,490.60 L486.45,490.23 L486.70,489.77 L486.95,489.20 L487.20,488.48 L487.45,487.54 L487.70,486.31 L487.95,484.62 L488.20,482.17 L488.45,478.47 L488.70,472.69 L488.95,463.72 L489.20,450.46 L489.45,432.62 L489.70,413.14 L489.95,401.38 L490.20,406.80 L490.45,424.67 L490.70,443.83 L490.95,459.00 L491.20,469.57 L491.45,476.49 L491.70,480.91 L491.95,483.79 L492.20,485.74 L492.45,487.14 L492.70,488.19 L492.95,489.00 L493.20,489.64 L493.45,490.15 L493.70,490.57 L493.95,490.91 L494.20,491.20 L494.45,491.44 L494.70,491.64 L494.95,491.82 L495.20,491.97 L495.45,492.10 L495.70,492.21 L495.95,492.31 L496.20,492.40 L496.45,492.47 L496.70,492.54 L496.95,492.60 L497.20,492.66 L497.45,492.70 L497.70,492.75 L497.95,492.78 L498.20,492.82 L498.45,492.85 L498.70,492.88 L498.95,492.90 L499.20,492.92 L499.45,492.94 L499.70,492.95 L499.95,492.97 L500.20,492.98 L500.45,492.99 L500.70,493.00 L500.95,493.00 L501.20,493.00 L501.45,493.01 L501.70,493.01 L501.95,493.00 L502.20,493.00 L502.45,492.99 L502.70,492.98 L502.95,492.97 L503.20,492.96 L503.45,492.94 L503.70,492.92 L503.95,492.90 L504.20,492.87 L504.45,492.84 L504.70,492.79 L504.95,492.72 L505.20,492.60 L505.45,492.44 L505.70,492.26 L505.95,492.12 L506.20,492.08 L506.45,492.11 L506.70,492.13 L506.95,492.10 L507.20,492.00 L507.45,491.86 L507.70,491.67 L507.95,491.43 L508.20,491.13 L508.45,490.76 L508.70,490.29 L508.95,489.69 L509.20,488.89 L509.45,487.81 L509.70,486.27 L509.95,483.91 L510.20,480.16 L510.45,474.11 L510.70,464.73 L510.95,451.49 L511.20,436.25 L511.45,426.62 L511.70,431.09 L511.95,445.35 L512.20,459.86 L512.45,470.78 L512.70,478.03 L512.95,482.56 L513.20,485.37 L513.45,487.16 L513.70,488.35 L513.95,489.16 L514.20,489.63 L514.45,489.69 L514.70,489.20 L514.95,488.12 L515.20,486.77 L515.45,485.99 L515.70,486.64 L515.95,488.29 L516.20,489.99 L516.45,491.21 L516.70,491.92 L516.95,492.30 L517.20,492.50 L517.45,492.62 L517.70,492.72 L517.95,492.80 L518.20,492.87 L518.45,492.92 L518.70,492.97 L518.95,493.01 L519.20,493.05 L519.45,493.09 L519.70,493.12 L519.95,493.15 L520.20,493.17 L520.45,493.19 L520.70,493.22 L520.95,493.23 L521.20,493.25 L521.45,493.27 L521.70,493.28 L521.95,493.30 L522.20,493.31 L522.45,493.32 L522.70,493.33 L522.95,493.34 L523.20,493.35 L523.45,493.36 L523.70,493.37 L523.95,493.38 L524.20,493.39 L524.45,493.40 L524.70,493.40 L524.95,493.41 L525.20,493.42 L525.45,493.42 L525.70,493.43 L525.95,493.43 L526.20,493.44 L526.45,493.44 L526.70,493.45 L526.95,493.45 L527.20,493.45 L527.45,493.46 L527.70,493.46 L527.95,493.47 L528.20,493.47 L528.45,493.47 L528.70,493.48 L528.95,493.48 L529.20,493.48 L529.45,493.49 L529.70,493.49 L529.95,493.49 L530.20,493.49 L530.45,493.50 L530.70,493.50 L530.95,493.50 L531.20,493.50 L531.45,493.50 L531.70,493.51 L531.95,493.51 L532.20,493.51 L532.45,493.51 L532.70,493.51 L532.95,493.52 L533.20,493.52 L533.45,493.52 L533.70,493.52 L533.95,493.52 L534.20,493.52 L534.45,493.52 L534.70,493.53 L534.95,493.53 L535.20,493.53 L535.45,493.53 L535.70,493.53 L535.95,493.53" fill="none" stroke="#0000ff" stroke-width="1.6" stroke-linejoin="round" clip-path="url(#ch)"/>
<rect x="298.2" y="396" width="238.3" height="98.5" fill="none" stroke="#858585" stroke-width="1.0"/>
<line x1="295.70" y1="494.20" x2="298.2" y2="494.20" stroke="#333" stroke-width="0.8"/>
<text x="294.7" y="497.12" fill="#111" font-size="8" text-anchor="end" font-weight="normal" stroke="#111" stroke-width="0.2" >0</text>
<line x1="295.70" y1="482.00" x2="298.2" y2="482.00" stroke="#333" stroke-width="0.8"/>
<text x="294.7" y="484.92" fill="#111" font-size="8" text-anchor="end" font-weight="normal" stroke="#111" stroke-width="0.2" >10</text>
<line x1="295.70" y1="469.80" x2="298.2" y2="469.80" stroke="#333" stroke-width="0.8"/>
<text x="294.7" y="472.72" fill="#111" font-size="8" text-anchor="end" font-weight="normal" stroke="#111" stroke-width="0.2" >20</text>
<line x1="295.70" y1="457.60" x2="298.2" y2="457.60" stroke="#333" stroke-width="0.8"/>
<text x="294.7" y="460.52" fill="#111" font-size="8" text-anchor="end" font-weight="normal" stroke="#111" stroke-width="0.2" >30</text>
<line x1="295.70" y1="445.40" x2="298.2" y2="445.40" stroke="#333" stroke-width="0.8"/>
<text x="294.7" y="448.32" fill="#111" font-size="8" text-anchor="end" font-weight="normal" stroke="#111" stroke-width="0.2" >40</text>
<line x1="295.70" y1="433.20" x2="298.2" y2="433.20" stroke="#333" stroke-width="0.8"/>
<text x="294.7" y="436.12" fill="#111" font-size="8" text-anchor="end" font-weight="normal" stroke="#111" stroke-width="0.2" >50</text>
<line x1="295.70" y1="421.00" x2="298.2" y2="421.00" stroke="#333" stroke-width="0.8"/>
<text x="294.7" y="423.92" fill="#111" font-size="8" text-anchor="end" font-weight="normal" stroke="#111" stroke-width="0.2" >60</text>
<line x1="295.70" y1="408.80" x2="298.2" y2="408.80" stroke="#333" stroke-width="0.8"/>
<text x="294.7" y="411.72" fill="#111" font-size="8" text-anchor="end" font-weight="normal" stroke="#111" stroke-width="0.2" >70</text>
<line x1="295.70" y1="396.60" x2="298.2" y2="396.60" stroke="#333" stroke-width="0.8"/>
<text x="294.7" y="399.52" fill="#111" font-size="8" text-anchor="end" font-weight="normal" stroke="#111" stroke-width="0.2" >80</text>
<line x1="296.70" y1="488.10" x2="298.2" y2="488.10" stroke="#555" stroke-width="0.6"/>
<line x1="296.70" y1="475.90" x2="298.2" y2="475.90" stroke="#555" stroke-width="0.6"/>
<line x1="296.70" y1="463.70" x2="298.2" y2="463.70" stroke="#555" stroke-width="0.6"/>
<line x1="296.70" y1="451.50" x2="298.2" y2="451.50" stroke="#555" stroke-width="0.6"/>
<line x1="296.70" y1="439.30" x2="298.2" y2="439.30" stroke="#555" stroke-width="0.6"/>
<line x1="296.70" y1="427.10" x2="298.2" y2="427.10" stroke="#555" stroke-width="0.6"/>
<line x1="296.70" y1="414.90" x2="298.2" y2="414.90" stroke="#555" stroke-width="0.6"/>
<line x1="296.70" y1="402.70" x2="298.2" y2="402.70" stroke="#555" stroke-width="0.6"/>
<line x1="298.20" y1="494.5" x2="298.20" y2="496.7" stroke="#777" stroke-width="0.7"/>
<text x="298.2" y="504.12" fill="#111" font-size="8" text-anchor="middle" font-weight="normal" stroke="#111" stroke-width="0.2" >750</text>
<line x1="316.53" y1="494.5" x2="316.53" y2="496.7" stroke="#777" stroke-width="0.7"/>
<text x="316.53" y="504.12" fill="#111" font-size="8" text-anchor="middle" font-weight="normal" stroke="#111" stroke-width="0.2" >760</text>
<line x1="334.86" y1="494.5" x2="334.86" y2="496.7" stroke="#777" stroke-width="0.7"/>
<text x="334.86" y="504.12" fill="#111" font-size="8" text-anchor="middle" font-weight="normal" stroke="#111" stroke-width="0.2" >770</text>
<line x1="353.19" y1="494.5" x2="353.19" y2="496.7" stroke="#777" stroke-width="0.7"/>
<text x="353.19" y="504.12" fill="#111" font-size="8" text-anchor="middle" font-weight="normal" stroke="#111" stroke-width="0.2" >780</text>
<line x1="371.52" y1="494.5" x2="371.52" y2="496.7" stroke="#777" stroke-width="0.7"/>
<text x="371.52" y="504.12" fill="#111" font-size="8" text-anchor="middle" font-weight="normal" stroke="#111" stroke-width="0.2" >790</text>
<line x1="389.85" y1="494.5" x2="389.85" y2="496.7" stroke="#777" stroke-width="0.7"/>
<text x="389.85" y="504.12" fill="#111" font-size="8" text-anchor="middle" font-weight="normal" stroke="#111" stroke-width="0.2" >800</text>
<line x1="408.18" y1="494.5" x2="408.18" y2="496.7" stroke="#777" stroke-width="0.7"/>
<text x="408.18" y="504.12" fill="#111" font-size="8" text-anchor="middle" font-weight="normal" stroke="#111" stroke-width="0.2" >810</text>
<line x1="426.51" y1="494.5" x2="426.51" y2="496.7" stroke="#777" stroke-width="0.7"/>
<text x="426.51" y="504.12" fill="#111" font-size="8" text-anchor="middle" font-weight="normal" stroke="#111" stroke-width="0.2" >820</text>
<line x1="444.84" y1="494.5" x2="444.84" y2="496.7" stroke="#777" stroke-width="0.7"/>
<text x="444.84" y="504.12" fill="#111" font-size="8" text-anchor="middle" font-weight="normal" stroke="#111" stroke-width="0.2" >830</text>
<line x1="463.17" y1="494.5" x2="463.17" y2="496.7" stroke="#777" stroke-width="0.7"/>
<text x="463.17" y="504.12" fill="#111" font-size="8" text-anchor="middle" font-weight="normal" stroke="#111" stroke-width="0.2" >840</text>
<line x1="481.50" y1="494.5" x2="481.50" y2="496.7" stroke="#777" stroke-width="0.7"/>
<text x="481.5" y="504.12" fill="#111" font-size="8" text-anchor="middle" font-weight="normal" stroke="#111" stroke-width="0.2" >850</text>
<line x1="499.83" y1="494.5" x2="499.83" y2="496.7" stroke="#777" stroke-width="0.7"/>
<text x="499.83" y="504.12" fill="#111" font-size="8" text-anchor="middle" font-weight="normal" stroke="#111" stroke-width="0.2" >860</text>
<line x1="518.16" y1="494.5" x2="518.16" y2="496.7" stroke="#777" stroke-width="0.7"/>
<text x="518.16" y="504.12" fill="#111" font-size="8" text-anchor="middle" font-weight="normal" stroke="#111" stroke-width="0.2" >870</text>
<line x1="536.49" y1="494.5" x2="536.49" y2="496.7" stroke="#777" stroke-width="0.7"/>
<text x="536.49" y="504.12" fill="#111" font-size="8" text-anchor="middle" font-weight="normal" stroke="#111" stroke-width="0.2" >880</text>
<text x="284.6" y="445" transform="rotate(-90 284.6 445)" fill="#111" font-size="8.5" text-anchor="middle">Mean normalization</text>
<text x="418" y="516.89" fill="#111" font-size="8.5" text-anchor="middle" font-weight="normal" stroke="#111" stroke-width="0.2" >Wavelength/nm</text>
<text x="303.9" y="409.4" fill="#111" font-size="8.5" text-anchor="start" font-weight="normal" stroke="#111" stroke-width="0.2" >(h)</text>
<line x1="417.80" y1="483.70" x2="373.99" y2="447.24" stroke="#222" stroke-width="0.8"/>
<polygon points="371.30,445.00 375.01,446.01 372.97,448.47" fill="#222"/>
<line x1="440.50" y1="483.70" x2="446.35" y2="446.66" stroke="#222" stroke-width="0.8"/>
<polygon points="446.90,443.20 447.93,446.91 444.77,446.41" fill="#222"/>
<rect x="364.5" y="400.4" width="82.30000000000001" height="37.60000000000002" fill="#c3c3c3"/>
<ellipse cx="409.2" cy="421.8" rx="8.4" ry="17.6" transform="rotate(-28 409.2 421.8)" fill="#0a9a9a"/>
<clipPath id="ci"><rect x="364.5" y="400.4" width="82.30000000000001" height="37.60000000000002"/></clipPath>
<path d="M365.00,437.37 L365.25,437.37 L365.50,437.37 L365.75,437.37 L366.00,437.37 L366.25,437.37 L366.50,437.36 L366.75,437.36 L367.00,437.36 L367.25,437.36 L367.50,437.36 L367.75,437.36 L368.00,437.35 L368.25,437.35 L368.50,437.35 L368.75,437.35 L369.00,437.35 L369.25,437.34 L369.50,437.34 L369.75,437.34 L370.00,437.33 L370.25,437.33 L370.50,437.33 L370.75,437.32 L371.00,437.32 L371.25,437.31 L371.50,437.31 L371.75,437.30 L372.00,437.30 L372.25,437.29 L372.50,437.28 L372.75,437.27 L373.00,437.27 L373.25,437.26 L373.50,437.25 L373.75,437.24 L374.00,437.23 L374.25,437.21 L374.50,437.20 L374.75,437.19 L375.00,437.17 L375.25,437.15 L375.50,437.14 L375.75,437.12 L376.00,437.09 L376.25,437.07 L376.50,437.05 L376.75,437.02 L377.00,436.99 L377.25,436.95 L377.50,436.92 L377.75,436.88 L378.00,436.84 L378.25,436.79 L378.50,436.74 L378.75,436.68 L379.00,436.62 L379.25,436.55 L379.50,436.47 L379.75,436.39 L380.00,436.29 L380.25,435.90 L380.50,435.51 L380.75,435.10 L381.00,434.68 L381.25,434.23 L381.50,433.72 L381.75,433.11 L382.00,432.29 L382.25,431.07 L382.50,429.25 L382.75,426.68 L383.00,423.42 L383.25,420.26 L383.50,417.75 L383.75,417.04 L384.00,418.55 L384.25,421.41 L384.50,424.51 L384.75,427.12 L385.00,428.96 L385.25,430.09 L385.50,430.66 L385.75,430.85 L386.00,430.71 L386.25,430.16 L386.50,429.06 L386.75,427.30 L387.00,425.04 L387.25,422.90 L387.50,421.90 L387.75,422.68 L388.00,424.54 L388.25,426.24 L388.50,426.56 L388.75,424.07 L389.00,417.74 L389.25,409.16 L389.50,404.60 L389.75,409.42 L390.00,418.39 L390.25,425.40 L390.50,429.08 L390.75,430.57 L391.00,431.16 L391.25,431.44 L391.50,431.62 L391.75,431.74 L392.00,431.83 L392.25,431.90 L392.50,431.95 L392.75,431.99 L393.00,432.03 L393.25,432.05 L393.50,432.07 L393.75,432.09 L394.00,432.10 L394.25,432.11 L394.50,432.11 L394.75,432.12 L395.00,432.11 L395.25,432.11 L395.50,432.10 L395.75,432.09 L396.00,432.08 L396.25,432.06 L396.50,432.03 L396.75,431.98 L397.00,431.90 L397.25,431.73 L397.50,431.42 L397.75,430.92 L398.00,430.23 L398.25,429.49 L398.50,428.97 L398.75,428.98 L399.00,429.48 L399.25,430.13 L399.50,430.67 L399.75,430.99 L400.00,431.06 L400.25,430.89 L400.50,430.34 L400.75,429.00 L401.00,426.15 L401.25,421.22 L401.50,414.71 L401.75,409.10 L402.00,408.38 L402.25,413.11 L402.50,419.38 L402.75,424.03 L403.00,425.89 L403.25,425.13 L403.50,422.72 L403.75,420.37 L404.00,420.17 L404.25,422.45 L404.50,425.39 L404.75,427.50 L405.00,428.25 L405.25,427.73 L405.50,426.28 L405.75,424.31 L406.00,422.42 L406.25,421.43 L406.50,421.90 L406.75,423.57 L407.00,425.64 L407.25,427.48 L407.50,428.76 L407.75,429.43 L408.00,429.59 L408.25,429.38 L408.50,428.94 L408.75,428.40 L409.00,427.89 L409.25,427.51 L409.50,427.40 L409.75,427.59 L410.00,428.05 L410.25,428.66 L410.50,429.33 L410.75,429.96 L411.00,430.52 L411.25,430.98 L411.50,431.33 L411.75,431.58 L412.00,431.76 L412.25,431.87 L412.50,431.95 L412.75,432.00 L413.00,432.03 L413.25,432.05 L413.50,432.06 L413.75,432.05 L414.00,432.04 L414.25,432.02 L414.50,431.96 L414.75,431.83 L415.00,431.60 L415.25,431.18 L415.50,430.53 L415.75,429.64 L416.00,428.63 L416.25,427.76 L416.50,427.40 L416.75,427.77 L417.00,428.65 L417.25,429.67 L417.50,430.57 L417.75,431.24 L418.00,431.67 L418.25,431.91 L418.50,432.05 L418.75,432.13 L419.00,432.17 L419.25,432.20 L419.50,432.23 L419.75,432.24 L420.00,432.26 L420.25,432.27 L420.50,432.28 L420.75,432.29 L421.00,432.30 L421.25,432.56 L421.50,432.81 L421.75,433.07 L422.00,433.32 L422.25,433.58 L422.50,433.83 L422.75,434.08 L423.00,434.34 L423.25,434.59 L423.50,434.84 L423.75,435.09 L424.00,435.35 L424.25,435.60 L424.50,435.85 L424.75,436.10 L425.00,436.35 L425.25,436.61 L425.50,436.86 L425.75,437.11 L426.00,437.36 L426.25,437.36 L426.50,437.36 L426.75,437.36 L427.00,437.36 L427.25,437.37 L427.50,437.37 L427.75,437.37 L428.00,437.37 L428.25,437.37 L428.50,437.37 L428.75,437.37 L429.00,437.37 L429.25,437.37 L429.50,437.37 L429.75,437.37 L430.00,437.37 L430.25,437.37 L430.50,437.38 L430.75,437.38 L431.00,437.38 L431.25,437.38 L431.50,437.38 L431.75,437.38 L432.00,437.38 L432.25,437.38 L432.50,437.38 L432.75,437.38 L433.00,437.38 L433.25,437.38 L433.50,437.38 L433.75,437.38 L434.00,437.38 L434.25,437.38 L434.50,437.38 L434.75,437.38 L435.00,437.38 L435.25,437.38 L435.50,437.38 L435.75,437.38 L436.00,437.38 L436.25,437.38 L436.50,437.38 L436.75,437.38 L437.00,437.38 L437.25,437.39 L437.50,437.39 L437.75,437.39 L438.00,437.39 L438.25,437.39 L438.50,437.39 L438.75,437.39 L439.00,437.39 L439.25,437.39 L439.50,437.39 L439.75,437.39 L440.00,437.39 L440.25,437.39 L440.50,437.39 L440.75,437.39 L441.00,437.39 L441.25,437.39 L441.50,437.39 L441.75,437.39 L442.00,437.39 L442.25,437.39 L442.50,437.39 L442.75,437.39 L443.00,437.39 L443.25,437.39 L443.50,437.39 L443.75,437.39 L444.00,437.39 L444.25,437.39 L444.50,437.39 L444.75,437.39 L445.00,437.39 L445.25,437.39 L445.50,437.39 L445.75,437.39 L446.00,437.39 L446.25,437.39" fill="none" stroke="#0000ff" stroke-width="1.3" stroke-linejoin="round" clip-path="url(#ci)"/>
<rect x="364.5" y="400.4" width="82.30000000000001" height="37.60000000000002" fill="none" stroke="#666" stroke-width="0.8"/>
<line x1="362.5" y1="438.00" x2="364.5" y2="438.00" stroke="#333" stroke-width="0.6"/>
<text x="362" y="440.7" fill="#111" font-size="7.5" text-anchor="end" font-weight="normal" stroke="#111" stroke-width="0.2" >0</text>
<line x1="362.5" y1="429.82" x2="364.5" y2="429.82" stroke="#333" stroke-width="0.6"/>
<text x="362" y="432.52" fill="#111" font-size="7.5" text-anchor="end" font-weight="normal" stroke="#111" stroke-width="0.2" >2</text>
<line x1="362.5" y1="421.64" x2="364.5" y2="421.64" stroke="#333" stroke-width="0.6"/>
<text x="362" y="424.34" fill="#111" font-size="7.5" text-anchor="end" font-weight="normal" stroke="#111" stroke-width="0.2" >4</text>
<line x1="362.5" y1="413.46" x2="364.5" y2="413.46" stroke="#333" stroke-width="0.6"/>
<text x="362" y="416.16" fill="#111" font-size="7.5" text-anchor="end" font-weight="normal" stroke="#111" stroke-width="0.2" >6</text>
<line x1="362.5" y1="405.28" x2="364.5" y2="405.28" stroke="#333" stroke-width="0.6"/>
<text x="362" y="407.98" fill="#111" font-size="7.5" text-anchor="end" font-weight="normal" stroke="#111" stroke-width="0.2" >8</text>
<line x1="369.1" y1="438" x2="369.1" y2="440" stroke="#333" stroke-width="0.6"/>
<text x="369.1" y="445.8" fill="#111" font-size="7.5" text-anchor="middle" font-weight="normal" stroke="#111" stroke-width="0.2" >816</text>
<line x1="391.8" y1="438" x2="391.8" y2="440" stroke="#333" stroke-width="0.6"/>
<text x="391.8" y="445.8" fill="#111" font-size="7.5" text-anchor="middle" font-weight="normal" stroke="#111" stroke-width="0.2" >820</text>
<line x1="412.7" y1="438" x2="412.7" y2="440" stroke="#333" stroke-width="0.6"/>
<text x="412.7" y="445.8" fill="#111" font-size="7.5" text-anchor="middle" font-weight="normal" stroke="#111" stroke-width="0.2" >824</text>
<line x1="434.5" y1="438" x2="434.5" y2="440" stroke="#333" stroke-width="0.6"/>
<text x="434.5" y="445.8" fill="#111" font-size="7.5" text-anchor="middle" font-weight="normal" stroke="#111" stroke-width="0.2" >828</text>
<text x="365.5" y="407.68" fill="#229922" font-size="7.3" text-anchor="start" font-weight="normal" stroke="#229922" stroke-width="0.2" >N 1</text>
<text x="365.5" y="416.08" fill="#229922" font-size="7.3" text-anchor="start" font-weight="normal" stroke="#229922" stroke-width="0.2" >818.4</text>
<text x="365.5" y="425.28" fill="#b0348c" font-size="7.3" text-anchor="start" font-weight="normal" stroke="#b0348c" stroke-width="0.2" >Na 1</text>
<text x="365.5" y="433.68" fill="#b0348c" font-size="7.3" text-anchor="start" font-weight="normal" stroke="#b0348c" stroke-width="0.2" >818.3</text>
<text x="386.3" y="395.98" fill="#b0348c" font-size="7.3" text-anchor="start" font-weight="normal" stroke="#b0348c" stroke-width="0.2" >Na 1</text>
<text x="386.3" y="404.68" fill="#b0348c" font-size="7.3" text-anchor="start" font-weight="normal" stroke="#b0348c" stroke-width="0.2" >819.4</text>
<text x="423.7" y="407.78" fill="#229922" font-size="7.3" text-anchor="start" font-weight="normal" stroke="#229922" stroke-width="0.2" >N 1</text>
<text x="423.7" y="416.25" fill="#229922" font-size="7.3" text-anchor="start" font-weight="normal" stroke="#229922" stroke-width="0.2" >821.6</text>
<text x="423.7" y="424.72" fill="#229922" font-size="7.3" text-anchor="start" font-weight="normal" stroke="#229922" stroke-width="0.2" >822.3</text>
<text x="423.7" y="433.19" fill="#229922" font-size="7.3" text-anchor="start" font-weight="normal" stroke="#229922" stroke-width="0.2" >824.2</text>
<text x="333.2" y="420.88" fill="#ff9933" font-size="7.3" text-anchor="start" font-weight="normal" stroke="#ff9933" stroke-width="0.2" >O 1</text>
<text x="333.2" y="429.91" fill="#ff9933" font-size="7.3" text-anchor="start" font-weight="normal" stroke="#ff9933" stroke-width="0.2" >777.1</text>
<text x="333.2" y="438.94" fill="#ff9933" font-size="7.3" text-anchor="start" font-weight="normal" stroke="#ff9933" stroke-width="0.2" >777.4</text>
<text x="333.2" y="447.97" fill="#ff9933" font-size="7.3" text-anchor="start" font-weight="normal" stroke="#ff9933" stroke-width="0.2" >777.5</text>
<text x="313.6" y="470.48" fill="#2b2bff" font-size="7.3" text-anchor="start" font-weight="normal" stroke="#2b2bff" stroke-width="0.2" >K 1</text>
<text x="313.6" y="479.48" fill="#2b2bff" font-size="7.3" text-anchor="start" font-weight="normal" stroke="#2b2bff" stroke-width="0.2" >766.4</text>
<text x="331.6" y="474.38" fill="#2b2bff" font-size="7.3" text-anchor="start" font-weight="normal" stroke="#2b2bff" stroke-width="0.2" >K 1</text>
<text x="331.6" y="482.88" fill="#2b2bff" font-size="7.3" text-anchor="start" font-weight="normal" stroke="#2b2bff" stroke-width="0.2" >769.8</text>
<text x="462.3" y="474.38" fill="#ff9933" font-size="7.3" text-anchor="start" font-weight="normal" stroke="#ff9933" stroke-width="0.2" >O 1</text>
<text x="462.3" y="483.88" fill="#ff9933" font-size="7.3" text-anchor="start" font-weight="normal" stroke="#ff9933" stroke-width="0.2" >844.6</text>
<text x="468.9" y="440.08" fill="#ff2a2a" font-size="7.3" text-anchor="start" font-weight="normal" stroke="#ff2a2a" stroke-width="0.2" >Ca 2</text>
<text x="468.9" y="449.08" fill="#ff2a2a" font-size="7.3" text-anchor="start" font-weight="normal" stroke="#ff2a2a" stroke-width="0.2" >849.8</text>
<text x="471.3" y="405.18" fill="#ff2a2a" font-size="7.3" text-anchor="start" font-weight="normal" stroke="#ff2a2a" stroke-width="0.2" >Ca 2</text>
<text x="471.3" y="414.08" fill="#ff2a2a" font-size="7.3" text-anchor="start" font-weight="normal" stroke="#ff2a2a" stroke-width="0.2" >854.2</text>
<text x="503.7" y="415.28" fill="#ff2a2a" font-size="7.3" text-anchor="start" font-weight="normal" stroke="#ff2a2a" stroke-width="0.2" >Ca 2</text>
<text x="503.7" y="424.28" fill="#ff2a2a" font-size="7.3" text-anchor="start" font-weight="normal" stroke="#ff2a2a" stroke-width="0.2" >866.2</text>
<text x="514.3" y="473.68" fill="#229922" font-size="7.3" text-anchor="start" font-weight="normal" stroke="#229922" stroke-width="0.2" >N 1</text>
<text x="514.3" y="483.18" fill="#229922" font-size="7.3" text-anchor="start" font-weight="normal" stroke="#229922" stroke-width="0.2" >868.0</text>
</svg></body></html>
